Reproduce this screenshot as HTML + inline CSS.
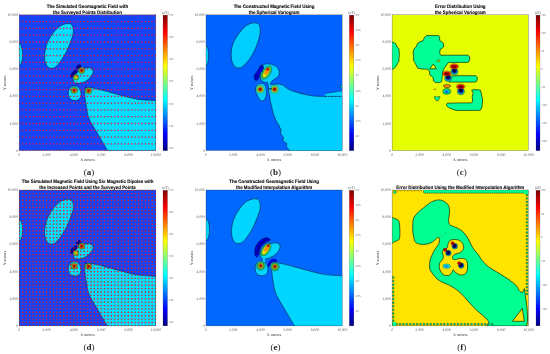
<!DOCTYPE html>
<html><head><meta charset="utf-8"><title>Figure</title><style>
html,body{margin:0;padding:0;background:#fff;width:550px;height:354px;overflow:hidden}
svg{display:block}
.tt{font-family:"Liberation Sans",Arial,sans-serif;font-weight:bold;font-size:4.45px;fill:#000;stroke:#000;stroke-width:0.08px;text-rendering:geometricPrecision;letter-spacing:0px}
.tk{font-family:"Liberation Serif","Times New Roman",serif;font-size:3.7px;fill:#4a4a4a;text-rendering:geometricPrecision}
.cb{font-family:"Liberation Serif","Times New Roman",serif;font-size:3.0px;fill:#666;text-rendering:geometricPrecision}
.al{font-family:"Liberation Serif","Times New Roman",serif;font-size:4.0px;fill:#333;text-rendering:geometricPrecision}
.cap{font-family:"Liberation Serif","Times New Roman",serif;font-weight:bold;font-size:9px;fill:#222}
</style></head><body>
<svg width="550" height="354" viewBox="0 0 550 354">
<defs><linearGradient id="jet" x1="0" y1="0" x2="0" y2="1"><stop offset="0.000" stop-color="rgb(127,0,0)"/><stop offset="0.125" stop-color="rgb(255,0,0)"/><stop offset="0.250" stop-color="rgb(255,127,0)"/><stop offset="0.375" stop-color="rgb(255,255,0)"/><stop offset="0.500" stop-color="rgb(127,255,127)"/><stop offset="0.625" stop-color="rgb(0,255,255)"/><stop offset="0.750" stop-color="rgb(0,127,255)"/><stop offset="0.875" stop-color="rgb(0,0,255)"/><stop offset="1.000" stop-color="rgb(0,0,127)"/></linearGradient><clipPath id="c00"><rect x="19.1" y="14.8" width="136.8" height="135.9"/></clipPath><clipPath id="c10"><rect x="206" y="14.8" width="136.2" height="135.9"/></clipPath><clipPath id="c20"><rect x="392.1" y="14.8" width="136.4" height="135.9"/></clipPath><clipPath id="c01"><rect x="19.1" y="190" width="136.8" height="135.9"/></clipPath><clipPath id="c11"><rect x="206" y="190" width="136.2" height="135.9"/></clipPath><clipPath id="c21"><rect x="392.1" y="190" width="136.4" height="135.9"/></clipPath></defs>
<g clip-path="url(#c00)"><rect x="19.1" y="14.8" width="136.8" height="135.9" fill="#1444f5"/><path d="M71.8 24.9 C72.38 25.83 73.12 27.75 73.3 29.4 C73.48 31.05 73.4 32.63 72.9 34.8 C72.4 36.97 71.37 39.62 70.3 42.4 C69.23 45.18 67.9 48.7 66.5 51.5 C65.1 54.3 63.55 56.78 61.9 59.2 C60.25 61.62 58.25 64.48 56.6 66 C54.95 67.52 53.53 68.22 52 68.3 C50.47 68.38 48.6 67.9 47.4 66.5 C46.2 65.1 45.18 62.52 44.8 59.9 C44.42 57.28 44.58 53.85 45.1 50.8 C45.62 47.75 46.5 44.65 47.9 41.6 C49.3 38.55 51.55 35.03 53.5 32.5 C55.45 29.97 57.57 27.85 59.6 26.4 C61.63 24.95 64 24.23 65.7 23.8 C67.4 23.37 68.78 23.62 69.8 23.8 C70.82 23.98 71.22 23.97 71.8 24.9 Z" fill="#08dcfc" stroke="#000" stroke-width="0.45"/><ellipse cx="19.1" cy="54.6" rx="3.5" ry="10.8" transform="rotate(0 19.1 54.6)" fill="#08dcfc" stroke="#000" stroke-width="0.45"/><path d="M84.5 91 C84.68 90.53 84.68 88.73 85.6 88.2 C86.52 87.67 88.33 87.73 90 87.8 C91.67 87.87 93.77 88.25 95.6 88.6 C97.43 88.95 99.07 89.4 101 89.9 C102.93 90.4 104.87 90.97 107.2 91.6 C109.53 92.23 111.77 92.83 115 93.7 C118.23 94.57 122.73 95.85 126.6 96.8 C130.47 97.75 134.35 98.82 138.2 99.4 C142.05 99.98 146.57 100.1 149.7 100.3 C152.83 100.5 155.78 100.55 157 100.6 L157 152 L108 152 L107.6 150.7 C106.08 148.12 101.17 139.72 98.5 135.2 C95.83 130.68 93.32 126.8 91.6 123.6 C89.88 120.4 89.1 118.93 88.2 116 C87.3 113.07 86.73 109.17 86.2 106 C85.67 102.83 85.28 99.5 85 97 C84.72 94.5 84.58 92 84.5 91 Z" fill="#08dcfc" stroke="#000" stroke-width="0.45"/><ellipse cx="83.2" cy="75.6" rx="11.3" ry="6.1" transform="rotate(-33 83.2 75.6)" fill="#08dcfc" stroke="#000" stroke-width="0.45"/><path d="M74.5 85.9 C75.75 85.92 77.28 86.37 78.3 87.3 C79.32 88.23 80.18 89.97 80.6 91.5 C81.02 93.03 81.15 95.15 80.8 96.5 C80.45 97.85 79.5 98.93 78.5 99.6 C77.5 100.27 76.08 100.55 74.8 100.5 C73.52 100.45 71.85 100.13 70.8 99.3 C69.75 98.47 68.87 96.97 68.5 95.5 C68.13 94.03 68.22 91.88 68.6 90.5 C68.98 89.12 69.82 87.97 70.8 87.2 C71.78 86.43 73.25 85.88 74.5 85.9 Z" fill="#08dcfc" stroke="#000" stroke-width="0.45"/><ellipse cx="78.6" cy="66.8" rx="3" ry="1.9" transform="rotate(-38 78.6 66.8)" fill="#00008c"/><ellipse cx="73.6" cy="73.7" rx="5" ry="2" transform="rotate(-50 73.6 73.7)" fill="#00008c"/><circle cx="85.6" cy="87" r="0.7" fill="#00008c"/><ellipse cx="81.7" cy="70.5" rx="3.3" ry="3.3" transform="rotate(0 81.7 70.5)" fill="#3cc850" stroke="#000" stroke-width="0.2"/><ellipse cx="81.7" cy="70.5" rx="2.5" ry="2.5" transform="rotate(0 81.7 70.5)" fill="#b4dc28" stroke="#000" stroke-width="0.2"/><ellipse cx="81.7" cy="70.5" rx="2" ry="2" transform="rotate(0 81.7 70.5)" fill="#ff8c00" stroke="#000" stroke-width="0.2"/><ellipse cx="81.7" cy="70.5" rx="1.3" ry="1.3" transform="rotate(0 81.7 70.5)" fill="#e61e00" stroke="#000" stroke-width="0.2"/><ellipse cx="81.7" cy="70.5" rx="0.65" ry="0.65" transform="rotate(0 81.7 70.5)" fill="#8c0000" stroke="#000" stroke-width="0.2"/><ellipse cx="76" cy="77.3" rx="3" ry="3" transform="rotate(0 76 77.3)" fill="#3cc850" stroke="#000" stroke-width="0.2"/><ellipse cx="76" cy="77.3" rx="1.9" ry="1.9" transform="rotate(0 76 77.3)" fill="#c8e628" stroke="#000" stroke-width="0.2"/><ellipse cx="76" cy="77.3" rx="1" ry="1" transform="rotate(0 76 77.3)" fill="#ffe600" stroke="#000" stroke-width="0.2"/><ellipse cx="74.2" cy="90.4" rx="3.3" ry="3.3" transform="rotate(0 74.2 90.4)" fill="#3cc850" stroke="#000" stroke-width="0.2"/><ellipse cx="74.2" cy="90.4" rx="2.5" ry="2.5" transform="rotate(0 74.2 90.4)" fill="#b4dc28" stroke="#000" stroke-width="0.2"/><ellipse cx="74.2" cy="90.4" rx="2" ry="2" transform="rotate(0 74.2 90.4)" fill="#ff8c00" stroke="#000" stroke-width="0.2"/><ellipse cx="74.2" cy="90.4" rx="1.3" ry="1.3" transform="rotate(0 74.2 90.4)" fill="#e61e00" stroke="#000" stroke-width="0.2"/><ellipse cx="74.2" cy="90.4" rx="0.65" ry="0.65" transform="rotate(0 74.2 90.4)" fill="#8c0000" stroke="#000" stroke-width="0.2"/><ellipse cx="88.6" cy="90.8" rx="3.3" ry="3.3" transform="rotate(0 88.6 90.8)" fill="#3cc850" stroke="#000" stroke-width="0.2"/><ellipse cx="88.6" cy="90.8" rx="2.5" ry="2.5" transform="rotate(0 88.6 90.8)" fill="#b4dc28" stroke="#000" stroke-width="0.2"/><ellipse cx="88.6" cy="90.8" rx="2" ry="2" transform="rotate(0 88.6 90.8)" fill="#ff8c00" stroke="#000" stroke-width="0.2"/><ellipse cx="88.6" cy="90.8" rx="1.3" ry="1.3" transform="rotate(0 88.6 90.8)" fill="#e61e00" stroke="#000" stroke-width="0.2"/><ellipse cx="88.6" cy="90.8" rx="0.65" ry="0.65" transform="rotate(0 88.6 90.8)" fill="#8c0000" stroke="#000" stroke-width="0.2"/><path fill="#eb143c" d="M18.8 150.05h1.3v1.3h-1.3zM22.2 150.05h1.3v1.3h-1.3zM25.61 150.05h1.3v1.3h-1.3zM29.01 150.05h1.3v1.3h-1.3zM32.41 150.05h1.3v1.3h-1.3zM35.82 150.05h1.3v1.3h-1.3zM39.22 150.05h1.3v1.3h-1.3zM42.63 150.05h1.3v1.3h-1.3zM46.03 150.05h1.3v1.3h-1.3zM49.43 150.05h1.3v1.3h-1.3zM52.84 150.05h1.3v1.3h-1.3zM56.24 150.05h1.3v1.3h-1.3zM59.65 150.05h1.3v1.3h-1.3zM63.05 150.05h1.3v1.3h-1.3zM66.45 150.05h1.3v1.3h-1.3zM69.86 150.05h1.3v1.3h-1.3zM73.26 150.05h1.3v1.3h-1.3zM76.66 150.05h1.3v1.3h-1.3zM80.07 150.05h1.3v1.3h-1.3zM83.47 150.05h1.3v1.3h-1.3zM86.88 150.05h1.3v1.3h-1.3zM90.28 150.05h1.3v1.3h-1.3zM93.68 150.05h1.3v1.3h-1.3zM97.09 150.05h1.3v1.3h-1.3zM100.49 150.05h1.3v1.3h-1.3zM103.89 150.05h1.3v1.3h-1.3zM107.3 150.05h1.3v1.3h-1.3zM110.7 150.05h1.3v1.3h-1.3zM114.11 150.05h1.3v1.3h-1.3zM117.51 150.05h1.3v1.3h-1.3zM120.91 150.05h1.3v1.3h-1.3zM124.32 150.05h1.3v1.3h-1.3zM127.72 150.05h1.3v1.3h-1.3zM131.12 150.05h1.3v1.3h-1.3zM134.53 150.05h1.3v1.3h-1.3zM137.93 150.05h1.3v1.3h-1.3zM141.34 150.05h1.3v1.3h-1.3zM144.74 150.05h1.3v1.3h-1.3zM148.14 150.05h1.3v1.3h-1.3zM151.55 150.05h1.3v1.3h-1.3zM154.95 150.05h1.3v1.3h-1.3zM18.8 143.25h1.3v1.3h-1.3zM22.2 143.25h1.3v1.3h-1.3zM25.61 143.25h1.3v1.3h-1.3zM29.01 143.25h1.3v1.3h-1.3zM32.41 143.25h1.3v1.3h-1.3zM35.82 143.25h1.3v1.3h-1.3zM39.22 143.25h1.3v1.3h-1.3zM42.63 143.25h1.3v1.3h-1.3zM46.03 143.25h1.3v1.3h-1.3zM49.43 143.25h1.3v1.3h-1.3zM52.84 143.25h1.3v1.3h-1.3zM56.24 143.25h1.3v1.3h-1.3zM59.65 143.25h1.3v1.3h-1.3zM63.05 143.25h1.3v1.3h-1.3zM66.45 143.25h1.3v1.3h-1.3zM69.86 143.25h1.3v1.3h-1.3zM73.26 143.25h1.3v1.3h-1.3zM76.66 143.25h1.3v1.3h-1.3zM80.07 143.25h1.3v1.3h-1.3zM83.47 143.25h1.3v1.3h-1.3zM86.88 143.25h1.3v1.3h-1.3zM90.28 143.25h1.3v1.3h-1.3zM93.68 143.25h1.3v1.3h-1.3zM97.09 143.25h1.3v1.3h-1.3zM100.49 143.25h1.3v1.3h-1.3zM103.89 143.25h1.3v1.3h-1.3zM107.3 143.25h1.3v1.3h-1.3zM110.7 143.25h1.3v1.3h-1.3zM114.11 143.25h1.3v1.3h-1.3zM117.51 143.25h1.3v1.3h-1.3zM120.91 143.25h1.3v1.3h-1.3zM124.32 143.25h1.3v1.3h-1.3zM127.72 143.25h1.3v1.3h-1.3zM131.12 143.25h1.3v1.3h-1.3zM134.53 143.25h1.3v1.3h-1.3zM137.93 143.25h1.3v1.3h-1.3zM141.34 143.25h1.3v1.3h-1.3zM144.74 143.25h1.3v1.3h-1.3zM148.14 143.25h1.3v1.3h-1.3zM151.55 143.25h1.3v1.3h-1.3zM154.95 143.25h1.3v1.3h-1.3zM18.8 136.46h1.3v1.3h-1.3zM22.2 136.46h1.3v1.3h-1.3zM25.61 136.46h1.3v1.3h-1.3zM29.01 136.46h1.3v1.3h-1.3zM32.41 136.46h1.3v1.3h-1.3zM35.82 136.46h1.3v1.3h-1.3zM39.22 136.46h1.3v1.3h-1.3zM42.63 136.46h1.3v1.3h-1.3zM46.03 136.46h1.3v1.3h-1.3zM49.43 136.46h1.3v1.3h-1.3zM52.84 136.46h1.3v1.3h-1.3zM56.24 136.46h1.3v1.3h-1.3zM59.65 136.46h1.3v1.3h-1.3zM63.05 136.46h1.3v1.3h-1.3zM66.45 136.46h1.3v1.3h-1.3zM69.86 136.46h1.3v1.3h-1.3zM73.26 136.46h1.3v1.3h-1.3zM76.66 136.46h1.3v1.3h-1.3zM80.07 136.46h1.3v1.3h-1.3zM83.47 136.46h1.3v1.3h-1.3zM86.88 136.46h1.3v1.3h-1.3zM90.28 136.46h1.3v1.3h-1.3zM93.68 136.46h1.3v1.3h-1.3zM97.09 136.46h1.3v1.3h-1.3zM100.49 136.46h1.3v1.3h-1.3zM103.89 136.46h1.3v1.3h-1.3zM107.3 136.46h1.3v1.3h-1.3zM110.7 136.46h1.3v1.3h-1.3zM114.11 136.46h1.3v1.3h-1.3zM117.51 136.46h1.3v1.3h-1.3zM120.91 136.46h1.3v1.3h-1.3zM124.32 136.46h1.3v1.3h-1.3zM127.72 136.46h1.3v1.3h-1.3zM131.12 136.46h1.3v1.3h-1.3zM134.53 136.46h1.3v1.3h-1.3zM137.93 136.46h1.3v1.3h-1.3zM141.34 136.46h1.3v1.3h-1.3zM144.74 136.46h1.3v1.3h-1.3zM148.14 136.46h1.3v1.3h-1.3zM151.55 136.46h1.3v1.3h-1.3zM154.95 136.46h1.3v1.3h-1.3zM18.8 129.66h1.3v1.3h-1.3zM22.2 129.66h1.3v1.3h-1.3zM25.61 129.66h1.3v1.3h-1.3zM29.01 129.66h1.3v1.3h-1.3zM32.41 129.66h1.3v1.3h-1.3zM35.82 129.66h1.3v1.3h-1.3zM39.22 129.66h1.3v1.3h-1.3zM42.63 129.66h1.3v1.3h-1.3zM46.03 129.66h1.3v1.3h-1.3zM49.43 129.66h1.3v1.3h-1.3zM52.84 129.66h1.3v1.3h-1.3zM56.24 129.66h1.3v1.3h-1.3zM59.65 129.66h1.3v1.3h-1.3zM63.05 129.66h1.3v1.3h-1.3zM66.45 129.66h1.3v1.3h-1.3zM69.86 129.66h1.3v1.3h-1.3zM73.26 129.66h1.3v1.3h-1.3zM76.66 129.66h1.3v1.3h-1.3zM80.07 129.66h1.3v1.3h-1.3zM83.47 129.66h1.3v1.3h-1.3zM86.88 129.66h1.3v1.3h-1.3zM90.28 129.66h1.3v1.3h-1.3zM93.68 129.66h1.3v1.3h-1.3zM97.09 129.66h1.3v1.3h-1.3zM100.49 129.66h1.3v1.3h-1.3zM103.89 129.66h1.3v1.3h-1.3zM107.3 129.66h1.3v1.3h-1.3zM110.7 129.66h1.3v1.3h-1.3zM114.11 129.66h1.3v1.3h-1.3zM117.51 129.66h1.3v1.3h-1.3zM120.91 129.66h1.3v1.3h-1.3zM124.32 129.66h1.3v1.3h-1.3zM127.72 129.66h1.3v1.3h-1.3zM131.12 129.66h1.3v1.3h-1.3zM134.53 129.66h1.3v1.3h-1.3zM137.93 129.66h1.3v1.3h-1.3zM141.34 129.66h1.3v1.3h-1.3zM144.74 129.66h1.3v1.3h-1.3zM148.14 129.66h1.3v1.3h-1.3zM151.55 129.66h1.3v1.3h-1.3zM154.95 129.66h1.3v1.3h-1.3zM18.8 122.87h1.3v1.3h-1.3zM22.2 122.87h1.3v1.3h-1.3zM25.61 122.87h1.3v1.3h-1.3zM29.01 122.87h1.3v1.3h-1.3zM32.41 122.87h1.3v1.3h-1.3zM35.82 122.87h1.3v1.3h-1.3zM39.22 122.87h1.3v1.3h-1.3zM42.63 122.87h1.3v1.3h-1.3zM46.03 122.87h1.3v1.3h-1.3zM49.43 122.87h1.3v1.3h-1.3zM52.84 122.87h1.3v1.3h-1.3zM56.24 122.87h1.3v1.3h-1.3zM59.65 122.87h1.3v1.3h-1.3zM63.05 122.87h1.3v1.3h-1.3zM66.45 122.87h1.3v1.3h-1.3zM69.86 122.87h1.3v1.3h-1.3zM73.26 122.87h1.3v1.3h-1.3zM76.66 122.87h1.3v1.3h-1.3zM80.07 122.87h1.3v1.3h-1.3zM83.47 122.87h1.3v1.3h-1.3zM86.88 122.87h1.3v1.3h-1.3zM90.28 122.87h1.3v1.3h-1.3zM93.68 122.87h1.3v1.3h-1.3zM97.09 122.87h1.3v1.3h-1.3zM100.49 122.87h1.3v1.3h-1.3zM103.89 122.87h1.3v1.3h-1.3zM107.3 122.87h1.3v1.3h-1.3zM110.7 122.87h1.3v1.3h-1.3zM114.11 122.87h1.3v1.3h-1.3zM117.51 122.87h1.3v1.3h-1.3zM120.91 122.87h1.3v1.3h-1.3zM124.32 122.87h1.3v1.3h-1.3zM127.72 122.87h1.3v1.3h-1.3zM131.12 122.87h1.3v1.3h-1.3zM134.53 122.87h1.3v1.3h-1.3zM137.93 122.87h1.3v1.3h-1.3zM141.34 122.87h1.3v1.3h-1.3zM144.74 122.87h1.3v1.3h-1.3zM148.14 122.87h1.3v1.3h-1.3zM151.55 122.87h1.3v1.3h-1.3zM154.95 122.87h1.3v1.3h-1.3zM18.8 116.07h1.3v1.3h-1.3zM22.2 116.07h1.3v1.3h-1.3zM25.61 116.07h1.3v1.3h-1.3zM29.01 116.07h1.3v1.3h-1.3zM32.41 116.07h1.3v1.3h-1.3zM35.82 116.07h1.3v1.3h-1.3zM39.22 116.07h1.3v1.3h-1.3zM42.63 116.07h1.3v1.3h-1.3zM46.03 116.07h1.3v1.3h-1.3zM49.43 116.07h1.3v1.3h-1.3zM52.84 116.07h1.3v1.3h-1.3zM56.24 116.07h1.3v1.3h-1.3zM59.65 116.07h1.3v1.3h-1.3zM63.05 116.07h1.3v1.3h-1.3zM66.45 116.07h1.3v1.3h-1.3zM69.86 116.07h1.3v1.3h-1.3zM73.26 116.07h1.3v1.3h-1.3zM76.66 116.07h1.3v1.3h-1.3zM80.07 116.07h1.3v1.3h-1.3zM83.47 116.07h1.3v1.3h-1.3zM86.88 116.07h1.3v1.3h-1.3zM90.28 116.07h1.3v1.3h-1.3zM93.68 116.07h1.3v1.3h-1.3zM97.09 116.07h1.3v1.3h-1.3zM100.49 116.07h1.3v1.3h-1.3zM103.89 116.07h1.3v1.3h-1.3zM107.3 116.07h1.3v1.3h-1.3zM110.7 116.07h1.3v1.3h-1.3zM114.11 116.07h1.3v1.3h-1.3zM117.51 116.07h1.3v1.3h-1.3zM120.91 116.07h1.3v1.3h-1.3zM124.32 116.07h1.3v1.3h-1.3zM127.72 116.07h1.3v1.3h-1.3zM131.12 116.07h1.3v1.3h-1.3zM134.53 116.07h1.3v1.3h-1.3zM137.93 116.07h1.3v1.3h-1.3zM141.34 116.07h1.3v1.3h-1.3zM144.74 116.07h1.3v1.3h-1.3zM148.14 116.07h1.3v1.3h-1.3zM151.55 116.07h1.3v1.3h-1.3zM154.95 116.07h1.3v1.3h-1.3zM18.8 109.28h1.3v1.3h-1.3zM22.2 109.28h1.3v1.3h-1.3zM25.61 109.28h1.3v1.3h-1.3zM29.01 109.28h1.3v1.3h-1.3zM32.41 109.28h1.3v1.3h-1.3zM35.82 109.28h1.3v1.3h-1.3zM39.22 109.28h1.3v1.3h-1.3zM42.63 109.28h1.3v1.3h-1.3zM46.03 109.28h1.3v1.3h-1.3zM49.43 109.28h1.3v1.3h-1.3zM52.84 109.28h1.3v1.3h-1.3zM56.24 109.28h1.3v1.3h-1.3zM59.65 109.28h1.3v1.3h-1.3zM63.05 109.28h1.3v1.3h-1.3zM66.45 109.28h1.3v1.3h-1.3zM69.86 109.28h1.3v1.3h-1.3zM73.26 109.28h1.3v1.3h-1.3zM76.66 109.28h1.3v1.3h-1.3zM80.07 109.28h1.3v1.3h-1.3zM83.47 109.28h1.3v1.3h-1.3zM86.88 109.28h1.3v1.3h-1.3zM90.28 109.28h1.3v1.3h-1.3zM93.68 109.28h1.3v1.3h-1.3zM97.09 109.28h1.3v1.3h-1.3zM100.49 109.28h1.3v1.3h-1.3zM103.89 109.28h1.3v1.3h-1.3zM107.3 109.28h1.3v1.3h-1.3zM110.7 109.28h1.3v1.3h-1.3zM114.11 109.28h1.3v1.3h-1.3zM117.51 109.28h1.3v1.3h-1.3zM120.91 109.28h1.3v1.3h-1.3zM124.32 109.28h1.3v1.3h-1.3zM127.72 109.28h1.3v1.3h-1.3zM131.12 109.28h1.3v1.3h-1.3zM134.53 109.28h1.3v1.3h-1.3zM137.93 109.28h1.3v1.3h-1.3zM141.34 109.28h1.3v1.3h-1.3zM144.74 109.28h1.3v1.3h-1.3zM148.14 109.28h1.3v1.3h-1.3zM151.55 109.28h1.3v1.3h-1.3zM154.95 109.28h1.3v1.3h-1.3zM18.8 102.48h1.3v1.3h-1.3zM22.2 102.48h1.3v1.3h-1.3zM25.61 102.48h1.3v1.3h-1.3zM29.01 102.48h1.3v1.3h-1.3zM32.41 102.48h1.3v1.3h-1.3zM35.82 102.48h1.3v1.3h-1.3zM39.22 102.48h1.3v1.3h-1.3zM42.63 102.48h1.3v1.3h-1.3zM46.03 102.48h1.3v1.3h-1.3zM49.43 102.48h1.3v1.3h-1.3zM52.84 102.48h1.3v1.3h-1.3zM56.24 102.48h1.3v1.3h-1.3zM59.65 102.48h1.3v1.3h-1.3zM63.05 102.48h1.3v1.3h-1.3zM66.45 102.48h1.3v1.3h-1.3zM69.86 102.48h1.3v1.3h-1.3zM73.26 102.48h1.3v1.3h-1.3zM76.66 102.48h1.3v1.3h-1.3zM80.07 102.48h1.3v1.3h-1.3zM83.47 102.48h1.3v1.3h-1.3zM86.88 102.48h1.3v1.3h-1.3zM90.28 102.48h1.3v1.3h-1.3zM93.68 102.48h1.3v1.3h-1.3zM97.09 102.48h1.3v1.3h-1.3zM100.49 102.48h1.3v1.3h-1.3zM103.89 102.48h1.3v1.3h-1.3zM107.3 102.48h1.3v1.3h-1.3zM110.7 102.48h1.3v1.3h-1.3zM114.11 102.48h1.3v1.3h-1.3zM117.51 102.48h1.3v1.3h-1.3zM120.91 102.48h1.3v1.3h-1.3zM124.32 102.48h1.3v1.3h-1.3zM127.72 102.48h1.3v1.3h-1.3zM131.12 102.48h1.3v1.3h-1.3zM134.53 102.48h1.3v1.3h-1.3zM137.93 102.48h1.3v1.3h-1.3zM141.34 102.48h1.3v1.3h-1.3zM144.74 102.48h1.3v1.3h-1.3zM148.14 102.48h1.3v1.3h-1.3zM151.55 102.48h1.3v1.3h-1.3zM154.95 102.48h1.3v1.3h-1.3zM18.8 95.69h1.3v1.3h-1.3zM22.2 95.69h1.3v1.3h-1.3zM25.61 95.69h1.3v1.3h-1.3zM29.01 95.69h1.3v1.3h-1.3zM32.41 95.69h1.3v1.3h-1.3zM35.82 95.69h1.3v1.3h-1.3zM39.22 95.69h1.3v1.3h-1.3zM42.63 95.69h1.3v1.3h-1.3zM46.03 95.69h1.3v1.3h-1.3zM49.43 95.69h1.3v1.3h-1.3zM52.84 95.69h1.3v1.3h-1.3zM56.24 95.69h1.3v1.3h-1.3zM59.65 95.69h1.3v1.3h-1.3zM63.05 95.69h1.3v1.3h-1.3zM66.45 95.69h1.3v1.3h-1.3zM69.86 95.69h1.3v1.3h-1.3zM73.26 95.69h1.3v1.3h-1.3zM76.66 95.69h1.3v1.3h-1.3zM80.07 95.69h1.3v1.3h-1.3zM83.47 95.69h1.3v1.3h-1.3zM86.88 95.69h1.3v1.3h-1.3zM90.28 95.69h1.3v1.3h-1.3zM93.68 95.69h1.3v1.3h-1.3zM97.09 95.69h1.3v1.3h-1.3zM100.49 95.69h1.3v1.3h-1.3zM103.89 95.69h1.3v1.3h-1.3zM107.3 95.69h1.3v1.3h-1.3zM110.7 95.69h1.3v1.3h-1.3zM114.11 95.69h1.3v1.3h-1.3zM117.51 95.69h1.3v1.3h-1.3zM120.91 95.69h1.3v1.3h-1.3zM124.32 95.69h1.3v1.3h-1.3zM127.72 95.69h1.3v1.3h-1.3zM131.12 95.69h1.3v1.3h-1.3zM134.53 95.69h1.3v1.3h-1.3zM137.93 95.69h1.3v1.3h-1.3zM141.34 95.69h1.3v1.3h-1.3zM144.74 95.69h1.3v1.3h-1.3zM148.14 95.69h1.3v1.3h-1.3zM151.55 95.69h1.3v1.3h-1.3zM154.95 95.69h1.3v1.3h-1.3zM18.8 88.89h1.3v1.3h-1.3zM22.2 88.89h1.3v1.3h-1.3zM25.61 88.89h1.3v1.3h-1.3zM29.01 88.89h1.3v1.3h-1.3zM32.41 88.89h1.3v1.3h-1.3zM35.82 88.89h1.3v1.3h-1.3zM39.22 88.89h1.3v1.3h-1.3zM42.63 88.89h1.3v1.3h-1.3zM46.03 88.89h1.3v1.3h-1.3zM49.43 88.89h1.3v1.3h-1.3zM52.84 88.89h1.3v1.3h-1.3zM56.24 88.89h1.3v1.3h-1.3zM59.65 88.89h1.3v1.3h-1.3zM63.05 88.89h1.3v1.3h-1.3zM66.45 88.89h1.3v1.3h-1.3zM69.86 88.89h1.3v1.3h-1.3zM73.26 88.89h1.3v1.3h-1.3zM76.66 88.89h1.3v1.3h-1.3zM80.07 88.89h1.3v1.3h-1.3zM83.47 88.89h1.3v1.3h-1.3zM86.88 88.89h1.3v1.3h-1.3zM90.28 88.89h1.3v1.3h-1.3zM93.68 88.89h1.3v1.3h-1.3zM97.09 88.89h1.3v1.3h-1.3zM100.49 88.89h1.3v1.3h-1.3zM103.89 88.89h1.3v1.3h-1.3zM107.3 88.89h1.3v1.3h-1.3zM110.7 88.89h1.3v1.3h-1.3zM114.11 88.89h1.3v1.3h-1.3zM117.51 88.89h1.3v1.3h-1.3zM120.91 88.89h1.3v1.3h-1.3zM124.32 88.89h1.3v1.3h-1.3zM127.72 88.89h1.3v1.3h-1.3zM131.12 88.89h1.3v1.3h-1.3zM134.53 88.89h1.3v1.3h-1.3zM137.93 88.89h1.3v1.3h-1.3zM141.34 88.89h1.3v1.3h-1.3zM144.74 88.89h1.3v1.3h-1.3zM148.14 88.89h1.3v1.3h-1.3zM151.55 88.89h1.3v1.3h-1.3zM154.95 88.89h1.3v1.3h-1.3zM18.8 82.1h1.3v1.3h-1.3zM22.2 82.1h1.3v1.3h-1.3zM25.61 82.1h1.3v1.3h-1.3zM29.01 82.1h1.3v1.3h-1.3zM32.41 82.1h1.3v1.3h-1.3zM35.82 82.1h1.3v1.3h-1.3zM39.22 82.1h1.3v1.3h-1.3zM42.63 82.1h1.3v1.3h-1.3zM46.03 82.1h1.3v1.3h-1.3zM49.43 82.1h1.3v1.3h-1.3zM52.84 82.1h1.3v1.3h-1.3zM56.24 82.1h1.3v1.3h-1.3zM59.65 82.1h1.3v1.3h-1.3zM63.05 82.1h1.3v1.3h-1.3zM66.45 82.1h1.3v1.3h-1.3zM69.86 82.1h1.3v1.3h-1.3zM73.26 82.1h1.3v1.3h-1.3zM76.66 82.1h1.3v1.3h-1.3zM80.07 82.1h1.3v1.3h-1.3zM83.47 82.1h1.3v1.3h-1.3zM86.88 82.1h1.3v1.3h-1.3zM90.28 82.1h1.3v1.3h-1.3zM93.68 82.1h1.3v1.3h-1.3zM97.09 82.1h1.3v1.3h-1.3zM100.49 82.1h1.3v1.3h-1.3zM103.89 82.1h1.3v1.3h-1.3zM107.3 82.1h1.3v1.3h-1.3zM110.7 82.1h1.3v1.3h-1.3zM114.11 82.1h1.3v1.3h-1.3zM117.51 82.1h1.3v1.3h-1.3zM120.91 82.1h1.3v1.3h-1.3zM124.32 82.1h1.3v1.3h-1.3zM127.72 82.1h1.3v1.3h-1.3zM131.12 82.1h1.3v1.3h-1.3zM134.53 82.1h1.3v1.3h-1.3zM137.93 82.1h1.3v1.3h-1.3zM141.34 82.1h1.3v1.3h-1.3zM144.74 82.1h1.3v1.3h-1.3zM148.14 82.1h1.3v1.3h-1.3zM151.55 82.1h1.3v1.3h-1.3zM154.95 82.1h1.3v1.3h-1.3zM18.8 75.31h1.3v1.3h-1.3zM22.2 75.31h1.3v1.3h-1.3zM25.61 75.31h1.3v1.3h-1.3zM29.01 75.31h1.3v1.3h-1.3zM32.41 75.31h1.3v1.3h-1.3zM35.82 75.31h1.3v1.3h-1.3zM39.22 75.31h1.3v1.3h-1.3zM42.63 75.31h1.3v1.3h-1.3zM46.03 75.31h1.3v1.3h-1.3zM49.43 75.31h1.3v1.3h-1.3zM52.84 75.31h1.3v1.3h-1.3zM56.24 75.31h1.3v1.3h-1.3zM59.65 75.31h1.3v1.3h-1.3zM63.05 75.31h1.3v1.3h-1.3zM66.45 75.31h1.3v1.3h-1.3zM69.86 75.31h1.3v1.3h-1.3zM73.26 75.31h1.3v1.3h-1.3zM76.66 75.31h1.3v1.3h-1.3zM80.07 75.31h1.3v1.3h-1.3zM83.47 75.31h1.3v1.3h-1.3zM86.88 75.31h1.3v1.3h-1.3zM90.28 75.31h1.3v1.3h-1.3zM93.68 75.31h1.3v1.3h-1.3zM97.09 75.31h1.3v1.3h-1.3zM100.49 75.31h1.3v1.3h-1.3zM103.89 75.31h1.3v1.3h-1.3zM107.3 75.31h1.3v1.3h-1.3zM110.7 75.31h1.3v1.3h-1.3zM114.11 75.31h1.3v1.3h-1.3zM117.51 75.31h1.3v1.3h-1.3zM120.91 75.31h1.3v1.3h-1.3zM124.32 75.31h1.3v1.3h-1.3zM127.72 75.31h1.3v1.3h-1.3zM131.12 75.31h1.3v1.3h-1.3zM134.53 75.31h1.3v1.3h-1.3zM137.93 75.31h1.3v1.3h-1.3zM141.34 75.31h1.3v1.3h-1.3zM144.74 75.31h1.3v1.3h-1.3zM148.14 75.31h1.3v1.3h-1.3zM151.55 75.31h1.3v1.3h-1.3zM154.95 75.31h1.3v1.3h-1.3zM18.8 68.51h1.3v1.3h-1.3zM22.2 68.51h1.3v1.3h-1.3zM25.61 68.51h1.3v1.3h-1.3zM29.01 68.51h1.3v1.3h-1.3zM32.41 68.51h1.3v1.3h-1.3zM35.82 68.51h1.3v1.3h-1.3zM39.22 68.51h1.3v1.3h-1.3zM42.63 68.51h1.3v1.3h-1.3zM46.03 68.51h1.3v1.3h-1.3zM49.43 68.51h1.3v1.3h-1.3zM52.84 68.51h1.3v1.3h-1.3zM56.24 68.51h1.3v1.3h-1.3zM59.65 68.51h1.3v1.3h-1.3zM63.05 68.51h1.3v1.3h-1.3zM66.45 68.51h1.3v1.3h-1.3zM69.86 68.51h1.3v1.3h-1.3zM73.26 68.51h1.3v1.3h-1.3zM76.66 68.51h1.3v1.3h-1.3zM80.07 68.51h1.3v1.3h-1.3zM83.47 68.51h1.3v1.3h-1.3zM86.88 68.51h1.3v1.3h-1.3zM90.28 68.51h1.3v1.3h-1.3zM93.68 68.51h1.3v1.3h-1.3zM97.09 68.51h1.3v1.3h-1.3zM100.49 68.51h1.3v1.3h-1.3zM103.89 68.51h1.3v1.3h-1.3zM107.3 68.51h1.3v1.3h-1.3zM110.7 68.51h1.3v1.3h-1.3zM114.11 68.51h1.3v1.3h-1.3zM117.51 68.51h1.3v1.3h-1.3zM120.91 68.51h1.3v1.3h-1.3zM124.32 68.51h1.3v1.3h-1.3zM127.72 68.51h1.3v1.3h-1.3zM131.12 68.51h1.3v1.3h-1.3zM134.53 68.51h1.3v1.3h-1.3zM137.93 68.51h1.3v1.3h-1.3zM141.34 68.51h1.3v1.3h-1.3zM144.74 68.51h1.3v1.3h-1.3zM148.14 68.51h1.3v1.3h-1.3zM151.55 68.51h1.3v1.3h-1.3zM154.95 68.51h1.3v1.3h-1.3zM18.8 61.71h1.3v1.3h-1.3zM22.2 61.71h1.3v1.3h-1.3zM25.61 61.71h1.3v1.3h-1.3zM29.01 61.71h1.3v1.3h-1.3zM32.41 61.71h1.3v1.3h-1.3zM35.82 61.71h1.3v1.3h-1.3zM39.22 61.71h1.3v1.3h-1.3zM42.63 61.71h1.3v1.3h-1.3zM46.03 61.71h1.3v1.3h-1.3zM49.43 61.71h1.3v1.3h-1.3zM52.84 61.71h1.3v1.3h-1.3zM56.24 61.71h1.3v1.3h-1.3zM59.65 61.71h1.3v1.3h-1.3zM63.05 61.71h1.3v1.3h-1.3zM66.45 61.71h1.3v1.3h-1.3zM69.86 61.71h1.3v1.3h-1.3zM73.26 61.71h1.3v1.3h-1.3zM76.66 61.71h1.3v1.3h-1.3zM80.07 61.71h1.3v1.3h-1.3zM83.47 61.71h1.3v1.3h-1.3zM86.88 61.71h1.3v1.3h-1.3zM90.28 61.71h1.3v1.3h-1.3zM93.68 61.71h1.3v1.3h-1.3zM97.09 61.71h1.3v1.3h-1.3zM100.49 61.71h1.3v1.3h-1.3zM103.89 61.71h1.3v1.3h-1.3zM107.3 61.71h1.3v1.3h-1.3zM110.7 61.71h1.3v1.3h-1.3zM114.11 61.71h1.3v1.3h-1.3zM117.51 61.71h1.3v1.3h-1.3zM120.91 61.71h1.3v1.3h-1.3zM124.32 61.71h1.3v1.3h-1.3zM127.72 61.71h1.3v1.3h-1.3zM131.12 61.71h1.3v1.3h-1.3zM134.53 61.71h1.3v1.3h-1.3zM137.93 61.71h1.3v1.3h-1.3zM141.34 61.71h1.3v1.3h-1.3zM144.74 61.71h1.3v1.3h-1.3zM148.14 61.71h1.3v1.3h-1.3zM151.55 61.71h1.3v1.3h-1.3zM154.95 61.71h1.3v1.3h-1.3zM18.8 54.92h1.3v1.3h-1.3zM22.2 54.92h1.3v1.3h-1.3zM25.61 54.92h1.3v1.3h-1.3zM29.01 54.92h1.3v1.3h-1.3zM32.41 54.92h1.3v1.3h-1.3zM35.82 54.92h1.3v1.3h-1.3zM39.22 54.92h1.3v1.3h-1.3zM42.63 54.92h1.3v1.3h-1.3zM46.03 54.92h1.3v1.3h-1.3zM49.43 54.92h1.3v1.3h-1.3zM52.84 54.92h1.3v1.3h-1.3zM56.24 54.92h1.3v1.3h-1.3zM59.65 54.92h1.3v1.3h-1.3zM63.05 54.92h1.3v1.3h-1.3zM66.45 54.92h1.3v1.3h-1.3zM69.86 54.92h1.3v1.3h-1.3zM73.26 54.92h1.3v1.3h-1.3zM76.66 54.92h1.3v1.3h-1.3zM80.07 54.92h1.3v1.3h-1.3zM83.47 54.92h1.3v1.3h-1.3zM86.88 54.92h1.3v1.3h-1.3zM90.28 54.92h1.3v1.3h-1.3zM93.68 54.92h1.3v1.3h-1.3zM97.09 54.92h1.3v1.3h-1.3zM100.49 54.92h1.3v1.3h-1.3zM103.89 54.92h1.3v1.3h-1.3zM107.3 54.92h1.3v1.3h-1.3zM110.7 54.92h1.3v1.3h-1.3zM114.11 54.92h1.3v1.3h-1.3zM117.51 54.92h1.3v1.3h-1.3zM120.91 54.92h1.3v1.3h-1.3zM124.32 54.92h1.3v1.3h-1.3zM127.72 54.92h1.3v1.3h-1.3zM131.12 54.92h1.3v1.3h-1.3zM134.53 54.92h1.3v1.3h-1.3zM137.93 54.92h1.3v1.3h-1.3zM141.34 54.92h1.3v1.3h-1.3zM144.74 54.92h1.3v1.3h-1.3zM148.14 54.92h1.3v1.3h-1.3zM151.55 54.92h1.3v1.3h-1.3zM154.95 54.92h1.3v1.3h-1.3zM18.8 48.13h1.3v1.3h-1.3zM22.2 48.13h1.3v1.3h-1.3zM25.61 48.13h1.3v1.3h-1.3zM29.01 48.13h1.3v1.3h-1.3zM32.41 48.13h1.3v1.3h-1.3zM35.82 48.13h1.3v1.3h-1.3zM39.22 48.13h1.3v1.3h-1.3zM42.63 48.13h1.3v1.3h-1.3zM46.03 48.13h1.3v1.3h-1.3zM49.43 48.13h1.3v1.3h-1.3zM52.84 48.13h1.3v1.3h-1.3zM56.24 48.13h1.3v1.3h-1.3zM59.65 48.13h1.3v1.3h-1.3zM63.05 48.13h1.3v1.3h-1.3zM66.45 48.13h1.3v1.3h-1.3zM69.86 48.13h1.3v1.3h-1.3zM73.26 48.13h1.3v1.3h-1.3zM76.66 48.13h1.3v1.3h-1.3zM80.07 48.13h1.3v1.3h-1.3zM83.47 48.13h1.3v1.3h-1.3zM86.88 48.13h1.3v1.3h-1.3zM90.28 48.13h1.3v1.3h-1.3zM93.68 48.13h1.3v1.3h-1.3zM97.09 48.13h1.3v1.3h-1.3zM100.49 48.13h1.3v1.3h-1.3zM103.89 48.13h1.3v1.3h-1.3zM107.3 48.13h1.3v1.3h-1.3zM110.7 48.13h1.3v1.3h-1.3zM114.11 48.13h1.3v1.3h-1.3zM117.51 48.13h1.3v1.3h-1.3zM120.91 48.13h1.3v1.3h-1.3zM124.32 48.13h1.3v1.3h-1.3zM127.72 48.13h1.3v1.3h-1.3zM131.12 48.13h1.3v1.3h-1.3zM134.53 48.13h1.3v1.3h-1.3zM137.93 48.13h1.3v1.3h-1.3zM141.34 48.13h1.3v1.3h-1.3zM144.74 48.13h1.3v1.3h-1.3zM148.14 48.13h1.3v1.3h-1.3zM151.55 48.13h1.3v1.3h-1.3zM154.95 48.13h1.3v1.3h-1.3zM18.8 41.33h1.3v1.3h-1.3zM22.2 41.33h1.3v1.3h-1.3zM25.61 41.33h1.3v1.3h-1.3zM29.01 41.33h1.3v1.3h-1.3zM32.41 41.33h1.3v1.3h-1.3zM35.82 41.33h1.3v1.3h-1.3zM39.22 41.33h1.3v1.3h-1.3zM42.63 41.33h1.3v1.3h-1.3zM46.03 41.33h1.3v1.3h-1.3zM49.43 41.33h1.3v1.3h-1.3zM52.84 41.33h1.3v1.3h-1.3zM56.24 41.33h1.3v1.3h-1.3zM59.65 41.33h1.3v1.3h-1.3zM63.05 41.33h1.3v1.3h-1.3zM66.45 41.33h1.3v1.3h-1.3zM69.86 41.33h1.3v1.3h-1.3zM73.26 41.33h1.3v1.3h-1.3zM76.66 41.33h1.3v1.3h-1.3zM80.07 41.33h1.3v1.3h-1.3zM83.47 41.33h1.3v1.3h-1.3zM86.88 41.33h1.3v1.3h-1.3zM90.28 41.33h1.3v1.3h-1.3zM93.68 41.33h1.3v1.3h-1.3zM97.09 41.33h1.3v1.3h-1.3zM100.49 41.33h1.3v1.3h-1.3zM103.89 41.33h1.3v1.3h-1.3zM107.3 41.33h1.3v1.3h-1.3zM110.7 41.33h1.3v1.3h-1.3zM114.11 41.33h1.3v1.3h-1.3zM117.51 41.33h1.3v1.3h-1.3zM120.91 41.33h1.3v1.3h-1.3zM124.32 41.33h1.3v1.3h-1.3zM127.72 41.33h1.3v1.3h-1.3zM131.12 41.33h1.3v1.3h-1.3zM134.53 41.33h1.3v1.3h-1.3zM137.93 41.33h1.3v1.3h-1.3zM141.34 41.33h1.3v1.3h-1.3zM144.74 41.33h1.3v1.3h-1.3zM148.14 41.33h1.3v1.3h-1.3zM151.55 41.33h1.3v1.3h-1.3zM154.95 41.33h1.3v1.3h-1.3zM18.8 34.54h1.3v1.3h-1.3zM22.2 34.54h1.3v1.3h-1.3zM25.61 34.54h1.3v1.3h-1.3zM29.01 34.54h1.3v1.3h-1.3zM32.41 34.54h1.3v1.3h-1.3zM35.82 34.54h1.3v1.3h-1.3zM39.22 34.54h1.3v1.3h-1.3zM42.63 34.54h1.3v1.3h-1.3zM46.03 34.54h1.3v1.3h-1.3zM49.43 34.54h1.3v1.3h-1.3zM52.84 34.54h1.3v1.3h-1.3zM56.24 34.54h1.3v1.3h-1.3zM59.65 34.54h1.3v1.3h-1.3zM63.05 34.54h1.3v1.3h-1.3zM66.45 34.54h1.3v1.3h-1.3zM69.86 34.54h1.3v1.3h-1.3zM73.26 34.54h1.3v1.3h-1.3zM76.66 34.54h1.3v1.3h-1.3zM80.07 34.54h1.3v1.3h-1.3zM83.47 34.54h1.3v1.3h-1.3zM86.88 34.54h1.3v1.3h-1.3zM90.28 34.54h1.3v1.3h-1.3zM93.68 34.54h1.3v1.3h-1.3zM97.09 34.54h1.3v1.3h-1.3zM100.49 34.54h1.3v1.3h-1.3zM103.89 34.54h1.3v1.3h-1.3zM107.3 34.54h1.3v1.3h-1.3zM110.7 34.54h1.3v1.3h-1.3zM114.11 34.54h1.3v1.3h-1.3zM117.51 34.54h1.3v1.3h-1.3zM120.91 34.54h1.3v1.3h-1.3zM124.32 34.54h1.3v1.3h-1.3zM127.72 34.54h1.3v1.3h-1.3zM131.12 34.54h1.3v1.3h-1.3zM134.53 34.54h1.3v1.3h-1.3zM137.93 34.54h1.3v1.3h-1.3zM141.34 34.54h1.3v1.3h-1.3zM144.74 34.54h1.3v1.3h-1.3zM148.14 34.54h1.3v1.3h-1.3zM151.55 34.54h1.3v1.3h-1.3zM154.95 34.54h1.3v1.3h-1.3zM18.8 27.74h1.3v1.3h-1.3zM22.2 27.74h1.3v1.3h-1.3zM25.61 27.74h1.3v1.3h-1.3zM29.01 27.74h1.3v1.3h-1.3zM32.41 27.74h1.3v1.3h-1.3zM35.82 27.74h1.3v1.3h-1.3zM39.22 27.74h1.3v1.3h-1.3zM42.63 27.74h1.3v1.3h-1.3zM46.03 27.74h1.3v1.3h-1.3zM49.43 27.74h1.3v1.3h-1.3zM52.84 27.74h1.3v1.3h-1.3zM56.24 27.74h1.3v1.3h-1.3zM59.65 27.74h1.3v1.3h-1.3zM63.05 27.74h1.3v1.3h-1.3zM66.45 27.74h1.3v1.3h-1.3zM69.86 27.74h1.3v1.3h-1.3zM73.26 27.74h1.3v1.3h-1.3zM76.66 27.74h1.3v1.3h-1.3zM80.07 27.74h1.3v1.3h-1.3zM83.47 27.74h1.3v1.3h-1.3zM86.88 27.74h1.3v1.3h-1.3zM90.28 27.74h1.3v1.3h-1.3zM93.68 27.74h1.3v1.3h-1.3zM97.09 27.74h1.3v1.3h-1.3zM100.49 27.74h1.3v1.3h-1.3zM103.89 27.74h1.3v1.3h-1.3zM107.3 27.74h1.3v1.3h-1.3zM110.7 27.74h1.3v1.3h-1.3zM114.11 27.74h1.3v1.3h-1.3zM117.51 27.74h1.3v1.3h-1.3zM120.91 27.74h1.3v1.3h-1.3zM124.32 27.74h1.3v1.3h-1.3zM127.72 27.74h1.3v1.3h-1.3zM131.12 27.74h1.3v1.3h-1.3zM134.53 27.74h1.3v1.3h-1.3zM137.93 27.74h1.3v1.3h-1.3zM141.34 27.74h1.3v1.3h-1.3zM144.74 27.74h1.3v1.3h-1.3zM148.14 27.74h1.3v1.3h-1.3zM151.55 27.74h1.3v1.3h-1.3zM154.95 27.74h1.3v1.3h-1.3zM18.8 20.95h1.3v1.3h-1.3zM22.2 20.95h1.3v1.3h-1.3zM25.61 20.95h1.3v1.3h-1.3zM29.01 20.95h1.3v1.3h-1.3zM32.41 20.95h1.3v1.3h-1.3zM35.82 20.95h1.3v1.3h-1.3zM39.22 20.95h1.3v1.3h-1.3zM42.63 20.95h1.3v1.3h-1.3zM46.03 20.95h1.3v1.3h-1.3zM49.43 20.95h1.3v1.3h-1.3zM52.84 20.95h1.3v1.3h-1.3zM56.24 20.95h1.3v1.3h-1.3zM59.65 20.95h1.3v1.3h-1.3zM63.05 20.95h1.3v1.3h-1.3zM66.45 20.95h1.3v1.3h-1.3zM69.86 20.95h1.3v1.3h-1.3zM73.26 20.95h1.3v1.3h-1.3zM76.66 20.95h1.3v1.3h-1.3zM80.07 20.95h1.3v1.3h-1.3zM83.47 20.95h1.3v1.3h-1.3zM86.88 20.95h1.3v1.3h-1.3zM90.28 20.95h1.3v1.3h-1.3zM93.68 20.95h1.3v1.3h-1.3zM97.09 20.95h1.3v1.3h-1.3zM100.49 20.95h1.3v1.3h-1.3zM103.89 20.95h1.3v1.3h-1.3zM107.3 20.95h1.3v1.3h-1.3zM110.7 20.95h1.3v1.3h-1.3zM114.11 20.95h1.3v1.3h-1.3zM117.51 20.95h1.3v1.3h-1.3zM120.91 20.95h1.3v1.3h-1.3zM124.32 20.95h1.3v1.3h-1.3zM127.72 20.95h1.3v1.3h-1.3zM131.12 20.95h1.3v1.3h-1.3zM134.53 20.95h1.3v1.3h-1.3zM137.93 20.95h1.3v1.3h-1.3zM141.34 20.95h1.3v1.3h-1.3zM144.74 20.95h1.3v1.3h-1.3zM148.14 20.95h1.3v1.3h-1.3zM151.55 20.95h1.3v1.3h-1.3zM154.95 20.95h1.3v1.3h-1.3zM18.8 14.15h1.3v1.3h-1.3zM22.2 14.15h1.3v1.3h-1.3zM25.61 14.15h1.3v1.3h-1.3zM29.01 14.15h1.3v1.3h-1.3zM32.41 14.15h1.3v1.3h-1.3zM35.82 14.15h1.3v1.3h-1.3zM39.22 14.15h1.3v1.3h-1.3zM42.63 14.15h1.3v1.3h-1.3zM46.03 14.15h1.3v1.3h-1.3zM49.43 14.15h1.3v1.3h-1.3zM52.84 14.15h1.3v1.3h-1.3zM56.24 14.15h1.3v1.3h-1.3zM59.65 14.15h1.3v1.3h-1.3zM63.05 14.15h1.3v1.3h-1.3zM66.45 14.15h1.3v1.3h-1.3zM69.86 14.15h1.3v1.3h-1.3zM73.26 14.15h1.3v1.3h-1.3zM76.66 14.15h1.3v1.3h-1.3zM80.07 14.15h1.3v1.3h-1.3zM83.47 14.15h1.3v1.3h-1.3zM86.88 14.15h1.3v1.3h-1.3zM90.28 14.15h1.3v1.3h-1.3zM93.68 14.15h1.3v1.3h-1.3zM97.09 14.15h1.3v1.3h-1.3zM100.49 14.15h1.3v1.3h-1.3zM103.89 14.15h1.3v1.3h-1.3zM107.3 14.15h1.3v1.3h-1.3zM110.7 14.15h1.3v1.3h-1.3zM114.11 14.15h1.3v1.3h-1.3zM117.51 14.15h1.3v1.3h-1.3zM120.91 14.15h1.3v1.3h-1.3zM124.32 14.15h1.3v1.3h-1.3zM127.72 14.15h1.3v1.3h-1.3zM131.12 14.15h1.3v1.3h-1.3zM134.53 14.15h1.3v1.3h-1.3zM137.93 14.15h1.3v1.3h-1.3zM141.34 14.15h1.3v1.3h-1.3zM144.74 14.15h1.3v1.3h-1.3zM148.14 14.15h1.3v1.3h-1.3zM151.55 14.15h1.3v1.3h-1.3zM154.95 14.15h1.3v1.3h-1.3z"/></g>
<g clip-path="url(#c10)"><rect x="206" y="14.8" width="136.2" height="135.9" fill="#0062ff"/><path d="M259.3 24.9 C259.8 25.8 260.02 27.05 260.1 28.7 C260.18 30.35 260.18 32.52 259.8 34.8 C259.42 37.08 258.77 39.62 257.8 42.4 C256.83 45.18 255.4 48.7 254 51.5 C252.6 54.3 251.18 56.78 249.4 59.2 C247.62 61.62 245.07 64.53 243.3 66 C241.53 67.47 240.32 68 238.8 68 C237.28 68 235.42 67.47 234.2 66 C232.98 64.53 231.95 61.87 231.5 59.2 C231.05 56.53 231.05 53.05 231.5 50 C231.95 46.95 232.73 43.95 234.2 40.9 C235.67 37.85 238.27 34.25 240.3 31.7 C242.33 29.15 244.37 27.05 246.4 25.6 C248.43 24.15 250.72 23.38 252.5 23 C254.28 22.62 255.97 22.98 257.1 23.3 C258.23 23.62 258.8 24 259.3 24.9 Z" fill="#00ceff" stroke="#000" stroke-width="0.45"/><ellipse cx="206" cy="55.5" rx="2.6" ry="10" transform="rotate(0 206 55.5)" fill="#00ceff" stroke="#000" stroke-width="0.45"/><path d="M262 65.2 C262.75 64.98 264.97 64.05 266.5 63.9 C268.03 63.75 269.78 63.98 271.2 64.3 C272.62 64.62 273.9 65.15 275 65.8 C276.1 66.45 277.08 67.18 277.8 68.2 C278.52 69.22 279.17 70.68 279.3 71.9 C279.43 73.12 279.15 74.45 278.6 75.5 C278.05 76.55 276.93 77.45 276 78.2 C275.07 78.95 273.87 79.27 273 80 C272.13 80.73 271.2 81.83 270.8 82.6 C270.4 83.37 270.32 84.28 270.6 84.6 C270.88 84.92 271.6 84.58 272.5 84.5 C273.4 84.42 274.82 84.13 276 84.1 C277.18 84.07 278.52 84.15 279.6 84.3 C280.68 84.45 281.7 84.68 282.5 85 C283.3 85.32 283.7 85.68 284.4 86.2 C285.1 86.72 285.57 87.38 286.7 88.1 C287.83 88.82 289.3 89.73 291.2 90.5 C293.1 91.27 295.13 91.9 298.1 92.7 C301.07 93.5 305.68 94.7 309 95.3 C312.32 95.9 312.33 96.13 318 96.3 C323.67 96.47 338.83 96.3 343 96.3 L343 152 L289.5 151.5 L289.2 150 L286.3 146.5 L286.9 143.6 L282.8 140.7 L283.4 137.2 L280.5 133.2 L281.1 130.3 L278.8 125.1 L275.9 120.4 L273.6 114.6 L272.4 110 L271.3 105 L270.3 101.2 L269.7 95.4 L268.7 92 L268.5 88 L268.5 85.5 L267.5 82.5 L264 82 L261.2 80.5 L260.2 77 L260.4 72 L260.8 68 Z" fill="#00ceff" stroke="#000" stroke-width="0.45"/><path d="M257.3 84.6 C256.08 85.55 255.7 87.95 255.5 89.3 C255.3 90.65 255.68 91.5 256.1 92.7 C256.52 93.9 257.18 95.15 258 96.5 C258.82 97.85 259.95 100.25 261 100.8 C262.05 101.35 263.43 100.68 264.3 99.8 C265.17 98.92 265.87 96.92 266.2 95.5 C266.53 94.08 266.4 92.8 266.3 91.3 C266.2 89.8 266.18 87.78 265.6 86.5 C265.02 85.22 264.18 83.92 262.8 83.6 C261.42 83.28 258.52 83.65 257.3 84.6 Z" fill="#00ceff" stroke="#000" stroke-width="0.45"/><ellipse cx="342.4" cy="86.6" rx="2.2" ry="1.6" transform="rotate(0 342.4 86.6)" fill="#00ceff" stroke="#000" stroke-width="0.45"/><path d="M324.3 96.3 L325.6 93.4 L342.5 90.8 L342.5 96.3 Z" fill="#00ceff"/><path d="M325.6 93.4 L342.5 90.8" stroke="#000" stroke-width="0.35" fill="none"/><path d="M325 96.3 H342" stroke="#000" stroke-width="0.9" stroke-dasharray="0.9 2.6" fill="none"/><path d="M254.9 80 C254.42 79.2 254.1 76.75 254.4 75.4 C254.7 74.05 255.93 73.07 256.7 71.9 C257.47 70.73 258.42 69.37 259 68.4 C259.58 67.43 259.62 66.62 260.2 66.1 C260.78 65.58 261.93 65.1 262.5 65.3 C263.07 65.5 263.6 66.4 263.6 67.3 C263.6 68.2 263.07 69.73 262.5 70.7 C261.93 71.67 260.78 72.03 260.2 73.1 C259.62 74.17 259.48 75.92 259 77.1 C258.52 78.28 257.98 79.72 257.3 80.2 C256.62 80.68 255.38 80.8 254.9 80 Z" fill="#0000e6" stroke="#000" stroke-width="0.45"/><ellipse cx="256.6" cy="76.2" rx="1.6" ry="1.3" transform="rotate(-60 256.6 76.2)" fill="#00008c"/><ellipse cx="261.6" cy="67.6" rx="1.2" ry="0.9" transform="rotate(-40 261.6 67.6)" fill="#0000a0"/><ellipse cx="266.4" cy="72.6" rx="7.6" ry="4" transform="rotate(-55 266.4 72.6)" fill="#3cc850" stroke="#000" stroke-width="0.25"/><ellipse cx="266.2" cy="72.6" rx="5.6" ry="2.5" transform="rotate(-58 266.2 72.6)" fill="#c8e628" stroke="#000" stroke-width="0.2"/><ellipse cx="266.9" cy="71.4" rx="3.8" ry="1.7" transform="rotate(-58 266.9 71.4)" fill="#ff8c00"/><circle cx="267.8" cy="69.2" r="1.5" fill="#e61e00"/><circle cx="267.8" cy="69.1" r="0.7" fill="#8c0000"/><circle cx="264.3" cy="75.8" r="1.1" fill="#f0f000"/><ellipse cx="260.2" cy="89.3" rx="4" ry="4" transform="rotate(0 260.2 89.3)" fill="#5ae67d" stroke="#000" stroke-width="0.2"/><ellipse cx="260.2" cy="89.3" rx="2.6" ry="2.6" transform="rotate(0 260.2 89.3)" fill="#f0e600" stroke="#000" stroke-width="0.2"/><ellipse cx="260.2" cy="89.3" rx="2.1" ry="2.1" transform="rotate(0 260.2 89.3)" fill="#ff8c00" stroke="#000" stroke-width="0.2"/><ellipse cx="260.2" cy="89.3" rx="1.5" ry="1.5" transform="rotate(0 260.2 89.3)" fill="#f01400" stroke="#000" stroke-width="0.2"/><ellipse cx="260.2" cy="89.3" rx="0.8" ry="0.8" transform="rotate(0 260.2 89.3)" fill="#a00000" stroke="#000" stroke-width="0.2"/><ellipse cx="274.6" cy="89.3" rx="4" ry="4" transform="rotate(0 274.6 89.3)" fill="#5ae67d" stroke="#000" stroke-width="0.2"/><ellipse cx="274.6" cy="89.3" rx="2.6" ry="2.6" transform="rotate(0 274.6 89.3)" fill="#f0e600" stroke="#000" stroke-width="0.2"/><ellipse cx="274.6" cy="89.3" rx="2.1" ry="2.1" transform="rotate(0 274.6 89.3)" fill="#ff8c00" stroke="#000" stroke-width="0.2"/><ellipse cx="274.6" cy="89.3" rx="1.5" ry="1.5" transform="rotate(0 274.6 89.3)" fill="#f01400" stroke="#000" stroke-width="0.2"/><ellipse cx="274.6" cy="89.3" rx="0.8" ry="0.8" transform="rotate(0 274.6 89.3)" fill="#a00000" stroke="#000" stroke-width="0.2"/><path d="M269 88.8 H272" stroke="#000050" stroke-width="0.8"/></g>
<g clip-path="url(#c20)"><rect x="392.1" y="14.8" width="136.4" height="135.9" fill="#e6ff00"/><path d="M391 41.8 L392 41.8 L395.5 43.5 L397.6 47.6 L399 48.8 L399.3 55 L398.8 61.5 L397.5 63.4 L396 66.5 L393.5 68.9 L392 69.2 L391 69.2 Z" fill="#00ff96" stroke="#000" stroke-width="0.6"/><path d="M426.4 35.6 L438.6 35.6 L439.7 36.9 L439.7 40.4 L441.5 41.6 L443.2 42.9 L443.8 46.2 L442.1 48.5 L440.3 49.2 L439.7 53.2 L440.6 55.2 L467.8 55.2 L469.3 56.3 L469.8 59 L469 61.6 L467.6 62.4 L449 62.4 L447.6 63.2 L446.4 65.4 L444.6 67.8 L443.2 70.2 L442.6 73 L442.2 76.5 L441.9 79.5 L441.6 81.6 L439.7 82.6 L435.7 82.6 L433.4 81 L433.2 77.8 L431.5 76.2 L429.9 75.1 L429.5 71.6 L428.2 69.3 L422 69 L417.7 68.2 L416.6 66 L415.4 63.6 L413.5 60.6 L413.6 56.6 L413.1 52 L414.3 48.5 L416.3 46.6 L417.5 43.4 L420.1 41.6 L423.3 40.6 L424 38 Z" fill="#00ff96" stroke="#000" stroke-width="0.6"/><path d="M449 76.2 L457.4 75.7 L475.8 75.7 L477.1 77 L477.3 79.5 L476.4 81.6 L474.5 82.1 L449 82.1 Z" fill="#00ff96" stroke="#000" stroke-width="0.6"/><path d="M471.6 90.2 L474 89.6 L480.3 90 L481.4 94 L482.6 99.4 L482.1 106.5 L481 109.5 L479.5 110.4 L456 110.4 L452 109 L448.5 107.5 L446.3 105.4 L447.2 103.2 L460 102.9 L471.6 102.9 L472.6 101 L472.2 96.5 L473.2 93 Z" fill="#00ff96" stroke="#000" stroke-width="0.6"/><path d="M433.3 64 L436.4 68.8 L429.9 68.8 Z" fill="#e6ff00" stroke="#000" stroke-width="0.6"/><ellipse cx="438.5" cy="60.7" rx="1.4" ry="1" transform="rotate(0 438.5 60.7)" fill="#e6ff00" stroke="#000" stroke-width="0.45"/><path d="M434.6 96.5 C434.9 96.08 436.13 96.98 437 97 C437.87 97.02 439.47 96.18 439.8 96.6 C440.13 97.02 439.47 98.8 439 99.5 C438.53 100.2 437.63 100.8 437 100.8 C436.37 100.8 435.6 100.22 435.2 99.5 C434.8 98.78 434.3 96.92 434.6 96.5 Z" fill="#00ff96" stroke="#000" stroke-width="0.45"/><ellipse cx="446.8" cy="91.4" rx="4" ry="2.9" transform="rotate(0 446.8 91.4)" fill="#00ff96" stroke="#000" stroke-width="0.45"/><ellipse cx="446.8" cy="91.6" rx="2.4" ry="1.7" transform="rotate(0 446.8 91.6)" fill="#00b4ff" stroke="#000" stroke-width="0.2"/><ellipse cx="446.8" cy="91.8" rx="1.2" ry="0.9" transform="rotate(0 446.8 91.8)" fill="#0050e6"/><ellipse cx="447" cy="86" rx="3.8" ry="1.5" transform="rotate(0 447 86)" fill="#ff8c00" stroke="#000" stroke-width="0.45"/><ellipse cx="434.8" cy="89.3" rx="1.4" ry="0.5" transform="rotate(0 434.8 89.3)" fill="#ff8c00" stroke="#000" stroke-width="0.15"/><ellipse cx="438.4" cy="99" rx="0" ry="0" transform="rotate(0 438.4 99)" fill="#00ff96"/><ellipse cx="454.4" cy="71.7" rx="3.7" ry="3.3" transform="rotate(0 454.4 71.7)" fill="#3cdc8c" stroke="#000" stroke-width="0.3"/><ellipse cx="454.4" cy="71.2" rx="2.9" ry="2.7" transform="rotate(0 454.4 71.2)" fill="#00a0ff" stroke="#000" stroke-width="0.2"/><ellipse cx="454.2" cy="66.4" rx="4.3" ry="2.7" transform="rotate(0 454.2 66.4)" fill="#ff8200" stroke="#000" stroke-width="0.3"/><ellipse cx="454.2" cy="66.5" rx="3.4" ry="2" transform="rotate(0 454.2 66.5)" fill="#d20000"/><ellipse cx="454.2" cy="66.6" rx="2.2" ry="1.2" transform="rotate(0 454.2 66.6)" fill="#780000"/><ellipse cx="454.4" cy="70.8" rx="2.3" ry="2.1" transform="rotate(0 454.4 70.8)" fill="#00008c" stroke="#000" stroke-width="0.2"/><ellipse cx="454.4" cy="70.8" rx="1.4" ry="1.3" transform="rotate(0 454.4 70.8)" fill="#000032"/><ellipse cx="448.2" cy="78.4" rx="3.7" ry="3.3" transform="rotate(0 448.2 78.4)" fill="#3cdc8c" stroke="#000" stroke-width="0.3"/><ellipse cx="448.2" cy="77.9" rx="2.9" ry="2.7" transform="rotate(0 448.2 77.9)" fill="#00a0ff" stroke="#000" stroke-width="0.2"/><ellipse cx="446.8" cy="73.6" rx="4.3" ry="2.7" transform="rotate(0 446.8 73.6)" fill="#ff8200" stroke="#000" stroke-width="0.3"/><ellipse cx="446.8" cy="73.7" rx="3.4" ry="2" transform="rotate(0 446.8 73.7)" fill="#d20000"/><ellipse cx="446.8" cy="73.8" rx="2.2" ry="1.2" transform="rotate(0 446.8 73.8)" fill="#780000"/><ellipse cx="448.2" cy="77.5" rx="2.3" ry="2.1" transform="rotate(0 448.2 77.5)" fill="#00008c" stroke="#000" stroke-width="0.2"/><ellipse cx="448.2" cy="77.5" rx="1.4" ry="1.3" transform="rotate(0 448.2 77.5)" fill="#000032"/><ellipse cx="460.9" cy="91.6" rx="3.7" ry="3.3" transform="rotate(0 460.9 91.6)" fill="#3cdc8c" stroke="#000" stroke-width="0.3"/><ellipse cx="460.9" cy="91.1" rx="2.9" ry="2.7" transform="rotate(0 460.9 91.1)" fill="#00a0ff" stroke="#000" stroke-width="0.2"/><ellipse cx="460.7" cy="86.6" rx="4.3" ry="2.7" transform="rotate(0 460.7 86.6)" fill="#ff8200" stroke="#000" stroke-width="0.3"/><ellipse cx="460.7" cy="86.7" rx="3.4" ry="2" transform="rotate(0 460.7 86.7)" fill="#d20000"/><ellipse cx="460.7" cy="86.8" rx="2.2" ry="1.2" transform="rotate(0 460.7 86.8)" fill="#780000"/><ellipse cx="460.9" cy="90.7" rx="2.3" ry="2.1" transform="rotate(0 460.9 90.7)" fill="#00008c" stroke="#000" stroke-width="0.2"/><ellipse cx="460.9" cy="90.7" rx="1.4" ry="1.3" transform="rotate(0 460.9 90.7)" fill="#000032"/></g>
<g clip-path="url(#c01)"><rect x="19.1" y="190" width="136.8" height="135.9" fill="#1444f5"/><g transform="translate(0 175.7)"><path d="M71.8 24.9 C72.38 25.83 73.12 27.75 73.3 29.4 C73.48 31.05 73.4 32.63 72.9 34.8 C72.4 36.97 71.37 39.62 70.3 42.4 C69.23 45.18 67.9 48.7 66.5 51.5 C65.1 54.3 63.55 56.78 61.9 59.2 C60.25 61.62 58.25 64.48 56.6 66 C54.95 67.52 53.53 68.22 52 68.3 C50.47 68.38 48.6 67.9 47.4 66.5 C46.2 65.1 45.18 62.52 44.8 59.9 C44.42 57.28 44.58 53.85 45.1 50.8 C45.62 47.75 46.5 44.65 47.9 41.6 C49.3 38.55 51.55 35.03 53.5 32.5 C55.45 29.97 57.57 27.85 59.6 26.4 C61.63 24.95 64 24.23 65.7 23.8 C67.4 23.37 68.78 23.62 69.8 23.8 C70.82 23.98 71.22 23.97 71.8 24.9 Z" fill="#08dcfc" stroke="#000" stroke-width="0.45"/><ellipse cx="19.1" cy="54.6" rx="3.5" ry="10.8" transform="rotate(0 19.1 54.6)" fill="#08dcfc" stroke="#000" stroke-width="0.45"/><path d="M84.5 91 C84.68 90.53 84.68 88.73 85.6 88.2 C86.52 87.67 88.33 87.73 90 87.8 C91.67 87.87 93.77 88.25 95.6 88.6 C97.43 88.95 99.07 89.4 101 89.9 C102.93 90.4 104.87 90.97 107.2 91.6 C109.53 92.23 111.77 92.83 115 93.7 C118.23 94.57 122.73 95.85 126.6 96.8 C130.47 97.75 134.35 98.82 138.2 99.4 C142.05 99.98 146.57 100.1 149.7 100.3 C152.83 100.5 155.78 100.55 157 100.6 L157 152 L108 152 L107.6 150.7 C106.08 148.12 101.17 139.72 98.5 135.2 C95.83 130.68 93.32 126.8 91.6 123.6 C89.88 120.4 89.1 118.93 88.2 116 C87.3 113.07 86.73 109.17 86.2 106 C85.67 102.83 85.28 99.5 85 97 C84.72 94.5 84.58 92 84.5 91 Z" fill="#08dcfc" stroke="#000" stroke-width="0.45"/><ellipse cx="83.2" cy="75.6" rx="11.3" ry="6.1" transform="rotate(-33 83.2 75.6)" fill="#08dcfc" stroke="#000" stroke-width="0.45"/><path d="M74.5 85.9 C75.75 85.92 77.28 86.37 78.3 87.3 C79.32 88.23 80.18 89.97 80.6 91.5 C81.02 93.03 81.15 95.15 80.8 96.5 C80.45 97.85 79.5 98.93 78.5 99.6 C77.5 100.27 76.08 100.55 74.8 100.5 C73.52 100.45 71.85 100.13 70.8 99.3 C69.75 98.47 68.87 96.97 68.5 95.5 C68.13 94.03 68.22 91.88 68.6 90.5 C68.98 89.12 69.82 87.97 70.8 87.2 C71.78 86.43 73.25 85.88 74.5 85.9 Z" fill="#08dcfc" stroke="#000" stroke-width="0.45"/><ellipse cx="78.6" cy="66.8" rx="3" ry="1.9" transform="rotate(-38 78.6 66.8)" fill="#00008c"/><ellipse cx="73.6" cy="73.7" rx="5" ry="2" transform="rotate(-50 73.6 73.7)" fill="#00008c"/><circle cx="85.6" cy="87" r="0.7" fill="#00008c"/><ellipse cx="81.7" cy="70.5" rx="3.3" ry="3.3" transform="rotate(0 81.7 70.5)" fill="#3cc850" stroke="#000" stroke-width="0.2"/><ellipse cx="81.7" cy="70.5" rx="2.5" ry="2.5" transform="rotate(0 81.7 70.5)" fill="#b4dc28" stroke="#000" stroke-width="0.2"/><ellipse cx="81.7" cy="70.5" rx="2" ry="2" transform="rotate(0 81.7 70.5)" fill="#ff8c00" stroke="#000" stroke-width="0.2"/><ellipse cx="81.7" cy="70.5" rx="1.3" ry="1.3" transform="rotate(0 81.7 70.5)" fill="#e61e00" stroke="#000" stroke-width="0.2"/><ellipse cx="81.7" cy="70.5" rx="0.65" ry="0.65" transform="rotate(0 81.7 70.5)" fill="#8c0000" stroke="#000" stroke-width="0.2"/><ellipse cx="76" cy="77.3" rx="3" ry="3" transform="rotate(0 76 77.3)" fill="#3cc850" stroke="#000" stroke-width="0.2"/><ellipse cx="76" cy="77.3" rx="1.9" ry="1.9" transform="rotate(0 76 77.3)" fill="#c8e628" stroke="#000" stroke-width="0.2"/><ellipse cx="76" cy="77.3" rx="1" ry="1" transform="rotate(0 76 77.3)" fill="#ffe600" stroke="#000" stroke-width="0.2"/><ellipse cx="74.2" cy="90.4" rx="3.3" ry="3.3" transform="rotate(0 74.2 90.4)" fill="#3cc850" stroke="#000" stroke-width="0.2"/><ellipse cx="74.2" cy="90.4" rx="2.5" ry="2.5" transform="rotate(0 74.2 90.4)" fill="#b4dc28" stroke="#000" stroke-width="0.2"/><ellipse cx="74.2" cy="90.4" rx="2" ry="2" transform="rotate(0 74.2 90.4)" fill="#ff8c00" stroke="#000" stroke-width="0.2"/><ellipse cx="74.2" cy="90.4" rx="1.3" ry="1.3" transform="rotate(0 74.2 90.4)" fill="#e61e00" stroke="#000" stroke-width="0.2"/><ellipse cx="74.2" cy="90.4" rx="0.65" ry="0.65" transform="rotate(0 74.2 90.4)" fill="#8c0000" stroke="#000" stroke-width="0.2"/><ellipse cx="88.6" cy="90.8" rx="3.3" ry="3.3" transform="rotate(0 88.6 90.8)" fill="#3cc850" stroke="#000" stroke-width="0.2"/><ellipse cx="88.6" cy="90.8" rx="2.5" ry="2.5" transform="rotate(0 88.6 90.8)" fill="#b4dc28" stroke="#000" stroke-width="0.2"/><ellipse cx="88.6" cy="90.8" rx="2" ry="2" transform="rotate(0 88.6 90.8)" fill="#ff8c00" stroke="#000" stroke-width="0.2"/><ellipse cx="88.6" cy="90.8" rx="1.3" ry="1.3" transform="rotate(0 88.6 90.8)" fill="#e61e00" stroke="#000" stroke-width="0.2"/><ellipse cx="88.6" cy="90.8" rx="0.65" ry="0.65" transform="rotate(0 88.6 90.8)" fill="#8c0000" stroke="#000" stroke-width="0.2"/></g><path fill="#dc1e32" d="M18.77 325.22h1.35v1.35h-1.35zM22.18 325.22h1.35v1.35h-1.35zM25.58 325.22h1.35v1.35h-1.35zM28.99 325.22h1.35v1.35h-1.35zM32.39 325.22h1.35v1.35h-1.35zM35.79 325.22h1.35v1.35h-1.35zM39.2 325.22h1.35v1.35h-1.35zM42.6 325.22h1.35v1.35h-1.35zM46.01 325.22h1.35v1.35h-1.35zM49.41 325.22h1.35v1.35h-1.35zM52.81 325.22h1.35v1.35h-1.35zM56.22 325.22h1.35v1.35h-1.35zM59.62 325.22h1.35v1.35h-1.35zM63.02 325.22h1.35v1.35h-1.35zM66.43 325.22h1.35v1.35h-1.35zM69.83 325.22h1.35v1.35h-1.35zM73.23 325.22h1.35v1.35h-1.35zM76.64 325.22h1.35v1.35h-1.35zM80.04 325.22h1.35v1.35h-1.35zM83.45 325.22h1.35v1.35h-1.35zM86.85 325.22h1.35v1.35h-1.35zM90.25 325.22h1.35v1.35h-1.35zM93.66 325.22h1.35v1.35h-1.35zM97.06 325.22h1.35v1.35h-1.35zM100.47 325.22h1.35v1.35h-1.35zM103.87 325.22h1.35v1.35h-1.35zM107.27 325.22h1.35v1.35h-1.35zM110.68 325.22h1.35v1.35h-1.35zM114.08 325.22h1.35v1.35h-1.35zM117.48 325.22h1.35v1.35h-1.35zM120.89 325.22h1.35v1.35h-1.35zM124.29 325.22h1.35v1.35h-1.35zM127.7 325.22h1.35v1.35h-1.35zM131.1 325.22h1.35v1.35h-1.35zM134.5 325.22h1.35v1.35h-1.35zM137.91 325.22h1.35v1.35h-1.35zM141.31 325.22h1.35v1.35h-1.35zM144.71 325.22h1.35v1.35h-1.35zM148.12 325.22h1.35v1.35h-1.35zM151.52 325.22h1.35v1.35h-1.35zM154.92 325.22h1.35v1.35h-1.35zM18.77 321.83h1.35v1.35h-1.35zM22.18 321.83h1.35v1.35h-1.35zM25.58 321.83h1.35v1.35h-1.35zM28.99 321.83h1.35v1.35h-1.35zM32.39 321.83h1.35v1.35h-1.35zM35.79 321.83h1.35v1.35h-1.35zM39.2 321.83h1.35v1.35h-1.35zM42.6 321.83h1.35v1.35h-1.35zM46.01 321.83h1.35v1.35h-1.35zM49.41 321.83h1.35v1.35h-1.35zM52.81 321.83h1.35v1.35h-1.35zM56.22 321.83h1.35v1.35h-1.35zM59.62 321.83h1.35v1.35h-1.35zM63.02 321.83h1.35v1.35h-1.35zM66.43 321.83h1.35v1.35h-1.35zM69.83 321.83h1.35v1.35h-1.35zM73.23 321.83h1.35v1.35h-1.35zM76.64 321.83h1.35v1.35h-1.35zM80.04 321.83h1.35v1.35h-1.35zM83.45 321.83h1.35v1.35h-1.35zM86.85 321.83h1.35v1.35h-1.35zM90.25 321.83h1.35v1.35h-1.35zM93.66 321.83h1.35v1.35h-1.35zM97.06 321.83h1.35v1.35h-1.35zM100.47 321.83h1.35v1.35h-1.35zM103.87 321.83h1.35v1.35h-1.35zM107.27 321.83h1.35v1.35h-1.35zM110.68 321.83h1.35v1.35h-1.35zM114.08 321.83h1.35v1.35h-1.35zM117.48 321.83h1.35v1.35h-1.35zM120.89 321.83h1.35v1.35h-1.35zM124.29 321.83h1.35v1.35h-1.35zM127.7 321.83h1.35v1.35h-1.35zM131.1 321.83h1.35v1.35h-1.35zM134.5 321.83h1.35v1.35h-1.35zM137.91 321.83h1.35v1.35h-1.35zM141.31 321.83h1.35v1.35h-1.35zM144.71 321.83h1.35v1.35h-1.35zM148.12 321.83h1.35v1.35h-1.35zM151.52 321.83h1.35v1.35h-1.35zM154.92 321.83h1.35v1.35h-1.35zM18.77 318.44h1.35v1.35h-1.35zM22.18 318.44h1.35v1.35h-1.35zM25.58 318.44h1.35v1.35h-1.35zM28.99 318.44h1.35v1.35h-1.35zM32.39 318.44h1.35v1.35h-1.35zM35.79 318.44h1.35v1.35h-1.35zM39.2 318.44h1.35v1.35h-1.35zM42.6 318.44h1.35v1.35h-1.35zM46.01 318.44h1.35v1.35h-1.35zM49.41 318.44h1.35v1.35h-1.35zM52.81 318.44h1.35v1.35h-1.35zM56.22 318.44h1.35v1.35h-1.35zM59.62 318.44h1.35v1.35h-1.35zM63.02 318.44h1.35v1.35h-1.35zM66.43 318.44h1.35v1.35h-1.35zM69.83 318.44h1.35v1.35h-1.35zM73.23 318.44h1.35v1.35h-1.35zM76.64 318.44h1.35v1.35h-1.35zM80.04 318.44h1.35v1.35h-1.35zM83.45 318.44h1.35v1.35h-1.35zM86.85 318.44h1.35v1.35h-1.35zM90.25 318.44h1.35v1.35h-1.35zM93.66 318.44h1.35v1.35h-1.35zM97.06 318.44h1.35v1.35h-1.35zM100.47 318.44h1.35v1.35h-1.35zM103.87 318.44h1.35v1.35h-1.35zM107.27 318.44h1.35v1.35h-1.35zM110.68 318.44h1.35v1.35h-1.35zM114.08 318.44h1.35v1.35h-1.35zM117.48 318.44h1.35v1.35h-1.35zM120.89 318.44h1.35v1.35h-1.35zM124.29 318.44h1.35v1.35h-1.35zM127.7 318.44h1.35v1.35h-1.35zM131.1 318.44h1.35v1.35h-1.35zM134.5 318.44h1.35v1.35h-1.35zM137.91 318.44h1.35v1.35h-1.35zM141.31 318.44h1.35v1.35h-1.35zM144.71 318.44h1.35v1.35h-1.35zM148.12 318.44h1.35v1.35h-1.35zM151.52 318.44h1.35v1.35h-1.35zM154.92 318.44h1.35v1.35h-1.35zM18.77 315.05h1.35v1.35h-1.35zM22.18 315.05h1.35v1.35h-1.35zM25.58 315.05h1.35v1.35h-1.35zM28.99 315.05h1.35v1.35h-1.35zM32.39 315.05h1.35v1.35h-1.35zM35.79 315.05h1.35v1.35h-1.35zM39.2 315.05h1.35v1.35h-1.35zM42.6 315.05h1.35v1.35h-1.35zM46.01 315.05h1.35v1.35h-1.35zM49.41 315.05h1.35v1.35h-1.35zM52.81 315.05h1.35v1.35h-1.35zM56.22 315.05h1.35v1.35h-1.35zM59.62 315.05h1.35v1.35h-1.35zM63.02 315.05h1.35v1.35h-1.35zM66.43 315.05h1.35v1.35h-1.35zM69.83 315.05h1.35v1.35h-1.35zM73.23 315.05h1.35v1.35h-1.35zM76.64 315.05h1.35v1.35h-1.35zM80.04 315.05h1.35v1.35h-1.35zM83.45 315.05h1.35v1.35h-1.35zM86.85 315.05h1.35v1.35h-1.35zM90.25 315.05h1.35v1.35h-1.35zM93.66 315.05h1.35v1.35h-1.35zM97.06 315.05h1.35v1.35h-1.35zM100.47 315.05h1.35v1.35h-1.35zM103.87 315.05h1.35v1.35h-1.35zM107.27 315.05h1.35v1.35h-1.35zM110.68 315.05h1.35v1.35h-1.35zM114.08 315.05h1.35v1.35h-1.35zM117.48 315.05h1.35v1.35h-1.35zM120.89 315.05h1.35v1.35h-1.35zM124.29 315.05h1.35v1.35h-1.35zM127.7 315.05h1.35v1.35h-1.35zM131.1 315.05h1.35v1.35h-1.35zM134.5 315.05h1.35v1.35h-1.35zM137.91 315.05h1.35v1.35h-1.35zM141.31 315.05h1.35v1.35h-1.35zM144.71 315.05h1.35v1.35h-1.35zM148.12 315.05h1.35v1.35h-1.35zM151.52 315.05h1.35v1.35h-1.35zM154.92 315.05h1.35v1.35h-1.35zM18.77 311.66h1.35v1.35h-1.35zM22.18 311.66h1.35v1.35h-1.35zM25.58 311.66h1.35v1.35h-1.35zM28.99 311.66h1.35v1.35h-1.35zM32.39 311.66h1.35v1.35h-1.35zM35.79 311.66h1.35v1.35h-1.35zM39.2 311.66h1.35v1.35h-1.35zM42.6 311.66h1.35v1.35h-1.35zM46.01 311.66h1.35v1.35h-1.35zM49.41 311.66h1.35v1.35h-1.35zM52.81 311.66h1.35v1.35h-1.35zM56.22 311.66h1.35v1.35h-1.35zM59.62 311.66h1.35v1.35h-1.35zM63.02 311.66h1.35v1.35h-1.35zM66.43 311.66h1.35v1.35h-1.35zM69.83 311.66h1.35v1.35h-1.35zM73.23 311.66h1.35v1.35h-1.35zM76.64 311.66h1.35v1.35h-1.35zM80.04 311.66h1.35v1.35h-1.35zM83.45 311.66h1.35v1.35h-1.35zM86.85 311.66h1.35v1.35h-1.35zM90.25 311.66h1.35v1.35h-1.35zM93.66 311.66h1.35v1.35h-1.35zM97.06 311.66h1.35v1.35h-1.35zM100.47 311.66h1.35v1.35h-1.35zM103.87 311.66h1.35v1.35h-1.35zM107.27 311.66h1.35v1.35h-1.35zM110.68 311.66h1.35v1.35h-1.35zM114.08 311.66h1.35v1.35h-1.35zM117.48 311.66h1.35v1.35h-1.35zM120.89 311.66h1.35v1.35h-1.35zM124.29 311.66h1.35v1.35h-1.35zM127.7 311.66h1.35v1.35h-1.35zM131.1 311.66h1.35v1.35h-1.35zM134.5 311.66h1.35v1.35h-1.35zM137.91 311.66h1.35v1.35h-1.35zM141.31 311.66h1.35v1.35h-1.35zM144.71 311.66h1.35v1.35h-1.35zM148.12 311.66h1.35v1.35h-1.35zM151.52 311.66h1.35v1.35h-1.35zM154.92 311.66h1.35v1.35h-1.35zM18.77 308.27h1.35v1.35h-1.35zM22.18 308.27h1.35v1.35h-1.35zM25.58 308.27h1.35v1.35h-1.35zM28.99 308.27h1.35v1.35h-1.35zM32.39 308.27h1.35v1.35h-1.35zM35.79 308.27h1.35v1.35h-1.35zM39.2 308.27h1.35v1.35h-1.35zM42.6 308.27h1.35v1.35h-1.35zM46.01 308.27h1.35v1.35h-1.35zM49.41 308.27h1.35v1.35h-1.35zM52.81 308.27h1.35v1.35h-1.35zM56.22 308.27h1.35v1.35h-1.35zM59.62 308.27h1.35v1.35h-1.35zM63.02 308.27h1.35v1.35h-1.35zM66.43 308.27h1.35v1.35h-1.35zM69.83 308.27h1.35v1.35h-1.35zM73.23 308.27h1.35v1.35h-1.35zM76.64 308.27h1.35v1.35h-1.35zM80.04 308.27h1.35v1.35h-1.35zM83.45 308.27h1.35v1.35h-1.35zM86.85 308.27h1.35v1.35h-1.35zM90.25 308.27h1.35v1.35h-1.35zM93.66 308.27h1.35v1.35h-1.35zM97.06 308.27h1.35v1.35h-1.35zM100.47 308.27h1.35v1.35h-1.35zM103.87 308.27h1.35v1.35h-1.35zM107.27 308.27h1.35v1.35h-1.35zM110.68 308.27h1.35v1.35h-1.35zM114.08 308.27h1.35v1.35h-1.35zM117.48 308.27h1.35v1.35h-1.35zM120.89 308.27h1.35v1.35h-1.35zM124.29 308.27h1.35v1.35h-1.35zM127.7 308.27h1.35v1.35h-1.35zM131.1 308.27h1.35v1.35h-1.35zM134.5 308.27h1.35v1.35h-1.35zM137.91 308.27h1.35v1.35h-1.35zM141.31 308.27h1.35v1.35h-1.35zM144.71 308.27h1.35v1.35h-1.35zM148.12 308.27h1.35v1.35h-1.35zM151.52 308.27h1.35v1.35h-1.35zM154.92 308.27h1.35v1.35h-1.35zM18.77 304.88h1.35v1.35h-1.35zM22.18 304.88h1.35v1.35h-1.35zM25.58 304.88h1.35v1.35h-1.35zM28.99 304.88h1.35v1.35h-1.35zM32.39 304.88h1.35v1.35h-1.35zM35.79 304.88h1.35v1.35h-1.35zM39.2 304.88h1.35v1.35h-1.35zM42.6 304.88h1.35v1.35h-1.35zM46.01 304.88h1.35v1.35h-1.35zM49.41 304.88h1.35v1.35h-1.35zM52.81 304.88h1.35v1.35h-1.35zM56.22 304.88h1.35v1.35h-1.35zM59.62 304.88h1.35v1.35h-1.35zM63.02 304.88h1.35v1.35h-1.35zM66.43 304.88h1.35v1.35h-1.35zM69.83 304.88h1.35v1.35h-1.35zM73.23 304.88h1.35v1.35h-1.35zM76.64 304.88h1.35v1.35h-1.35zM80.04 304.88h1.35v1.35h-1.35zM83.45 304.88h1.35v1.35h-1.35zM86.85 304.88h1.35v1.35h-1.35zM90.25 304.88h1.35v1.35h-1.35zM93.66 304.88h1.35v1.35h-1.35zM97.06 304.88h1.35v1.35h-1.35zM100.47 304.88h1.35v1.35h-1.35zM103.87 304.88h1.35v1.35h-1.35zM107.27 304.88h1.35v1.35h-1.35zM110.68 304.88h1.35v1.35h-1.35zM114.08 304.88h1.35v1.35h-1.35zM117.48 304.88h1.35v1.35h-1.35zM120.89 304.88h1.35v1.35h-1.35zM124.29 304.88h1.35v1.35h-1.35zM127.7 304.88h1.35v1.35h-1.35zM131.1 304.88h1.35v1.35h-1.35zM134.5 304.88h1.35v1.35h-1.35zM137.91 304.88h1.35v1.35h-1.35zM141.31 304.88h1.35v1.35h-1.35zM144.71 304.88h1.35v1.35h-1.35zM148.12 304.88h1.35v1.35h-1.35zM151.52 304.88h1.35v1.35h-1.35zM154.92 304.88h1.35v1.35h-1.35zM18.77 301.49h1.35v1.35h-1.35zM22.18 301.49h1.35v1.35h-1.35zM25.58 301.49h1.35v1.35h-1.35zM28.99 301.49h1.35v1.35h-1.35zM32.39 301.49h1.35v1.35h-1.35zM35.79 301.49h1.35v1.35h-1.35zM39.2 301.49h1.35v1.35h-1.35zM42.6 301.49h1.35v1.35h-1.35zM46.01 301.49h1.35v1.35h-1.35zM49.41 301.49h1.35v1.35h-1.35zM52.81 301.49h1.35v1.35h-1.35zM56.22 301.49h1.35v1.35h-1.35zM59.62 301.49h1.35v1.35h-1.35zM63.02 301.49h1.35v1.35h-1.35zM66.43 301.49h1.35v1.35h-1.35zM69.83 301.49h1.35v1.35h-1.35zM73.23 301.49h1.35v1.35h-1.35zM76.64 301.49h1.35v1.35h-1.35zM80.04 301.49h1.35v1.35h-1.35zM83.45 301.49h1.35v1.35h-1.35zM86.85 301.49h1.35v1.35h-1.35zM90.25 301.49h1.35v1.35h-1.35zM93.66 301.49h1.35v1.35h-1.35zM97.06 301.49h1.35v1.35h-1.35zM100.47 301.49h1.35v1.35h-1.35zM103.87 301.49h1.35v1.35h-1.35zM107.27 301.49h1.35v1.35h-1.35zM110.68 301.49h1.35v1.35h-1.35zM114.08 301.49h1.35v1.35h-1.35zM117.48 301.49h1.35v1.35h-1.35zM120.89 301.49h1.35v1.35h-1.35zM124.29 301.49h1.35v1.35h-1.35zM127.7 301.49h1.35v1.35h-1.35zM131.1 301.49h1.35v1.35h-1.35zM134.5 301.49h1.35v1.35h-1.35zM137.91 301.49h1.35v1.35h-1.35zM141.31 301.49h1.35v1.35h-1.35zM144.71 301.49h1.35v1.35h-1.35zM148.12 301.49h1.35v1.35h-1.35zM151.52 301.49h1.35v1.35h-1.35zM154.92 301.49h1.35v1.35h-1.35zM18.77 298.1h1.35v1.35h-1.35zM22.18 298.1h1.35v1.35h-1.35zM25.58 298.1h1.35v1.35h-1.35zM28.99 298.1h1.35v1.35h-1.35zM32.39 298.1h1.35v1.35h-1.35zM35.79 298.1h1.35v1.35h-1.35zM39.2 298.1h1.35v1.35h-1.35zM42.6 298.1h1.35v1.35h-1.35zM46.01 298.1h1.35v1.35h-1.35zM49.41 298.1h1.35v1.35h-1.35zM52.81 298.1h1.35v1.35h-1.35zM56.22 298.1h1.35v1.35h-1.35zM59.62 298.1h1.35v1.35h-1.35zM63.02 298.1h1.35v1.35h-1.35zM66.43 298.1h1.35v1.35h-1.35zM69.83 298.1h1.35v1.35h-1.35zM73.23 298.1h1.35v1.35h-1.35zM76.64 298.1h1.35v1.35h-1.35zM80.04 298.1h1.35v1.35h-1.35zM83.45 298.1h1.35v1.35h-1.35zM86.85 298.1h1.35v1.35h-1.35zM90.25 298.1h1.35v1.35h-1.35zM93.66 298.1h1.35v1.35h-1.35zM97.06 298.1h1.35v1.35h-1.35zM100.47 298.1h1.35v1.35h-1.35zM103.87 298.1h1.35v1.35h-1.35zM107.27 298.1h1.35v1.35h-1.35zM110.68 298.1h1.35v1.35h-1.35zM114.08 298.1h1.35v1.35h-1.35zM117.48 298.1h1.35v1.35h-1.35zM120.89 298.1h1.35v1.35h-1.35zM124.29 298.1h1.35v1.35h-1.35zM127.7 298.1h1.35v1.35h-1.35zM131.1 298.1h1.35v1.35h-1.35zM134.5 298.1h1.35v1.35h-1.35zM137.91 298.1h1.35v1.35h-1.35zM141.31 298.1h1.35v1.35h-1.35zM144.71 298.1h1.35v1.35h-1.35zM148.12 298.1h1.35v1.35h-1.35zM151.52 298.1h1.35v1.35h-1.35zM154.92 298.1h1.35v1.35h-1.35zM18.77 294.71h1.35v1.35h-1.35zM22.18 294.71h1.35v1.35h-1.35zM25.58 294.71h1.35v1.35h-1.35zM28.99 294.71h1.35v1.35h-1.35zM32.39 294.71h1.35v1.35h-1.35zM35.79 294.71h1.35v1.35h-1.35zM39.2 294.71h1.35v1.35h-1.35zM42.6 294.71h1.35v1.35h-1.35zM46.01 294.71h1.35v1.35h-1.35zM49.41 294.71h1.35v1.35h-1.35zM52.81 294.71h1.35v1.35h-1.35zM56.22 294.71h1.35v1.35h-1.35zM59.62 294.71h1.35v1.35h-1.35zM63.02 294.71h1.35v1.35h-1.35zM66.43 294.71h1.35v1.35h-1.35zM69.83 294.71h1.35v1.35h-1.35zM73.23 294.71h1.35v1.35h-1.35zM76.64 294.71h1.35v1.35h-1.35zM80.04 294.71h1.35v1.35h-1.35zM83.45 294.71h1.35v1.35h-1.35zM86.85 294.71h1.35v1.35h-1.35zM90.25 294.71h1.35v1.35h-1.35zM93.66 294.71h1.35v1.35h-1.35zM97.06 294.71h1.35v1.35h-1.35zM100.47 294.71h1.35v1.35h-1.35zM103.87 294.71h1.35v1.35h-1.35zM107.27 294.71h1.35v1.35h-1.35zM110.68 294.71h1.35v1.35h-1.35zM114.08 294.71h1.35v1.35h-1.35zM117.48 294.71h1.35v1.35h-1.35zM120.89 294.71h1.35v1.35h-1.35zM124.29 294.71h1.35v1.35h-1.35zM127.7 294.71h1.35v1.35h-1.35zM131.1 294.71h1.35v1.35h-1.35zM134.5 294.71h1.35v1.35h-1.35zM137.91 294.71h1.35v1.35h-1.35zM141.31 294.71h1.35v1.35h-1.35zM144.71 294.71h1.35v1.35h-1.35zM148.12 294.71h1.35v1.35h-1.35zM151.52 294.71h1.35v1.35h-1.35zM154.92 294.71h1.35v1.35h-1.35zM18.77 291.32h1.35v1.35h-1.35zM22.18 291.32h1.35v1.35h-1.35zM25.58 291.32h1.35v1.35h-1.35zM28.99 291.32h1.35v1.35h-1.35zM32.39 291.32h1.35v1.35h-1.35zM35.79 291.32h1.35v1.35h-1.35zM39.2 291.32h1.35v1.35h-1.35zM42.6 291.32h1.35v1.35h-1.35zM46.01 291.32h1.35v1.35h-1.35zM49.41 291.32h1.35v1.35h-1.35zM52.81 291.32h1.35v1.35h-1.35zM56.22 291.32h1.35v1.35h-1.35zM59.62 291.32h1.35v1.35h-1.35zM63.02 291.32h1.35v1.35h-1.35zM66.43 291.32h1.35v1.35h-1.35zM69.83 291.32h1.35v1.35h-1.35zM73.23 291.32h1.35v1.35h-1.35zM76.64 291.32h1.35v1.35h-1.35zM80.04 291.32h1.35v1.35h-1.35zM83.45 291.32h1.35v1.35h-1.35zM86.85 291.32h1.35v1.35h-1.35zM90.25 291.32h1.35v1.35h-1.35zM93.66 291.32h1.35v1.35h-1.35zM97.06 291.32h1.35v1.35h-1.35zM100.47 291.32h1.35v1.35h-1.35zM103.87 291.32h1.35v1.35h-1.35zM107.27 291.32h1.35v1.35h-1.35zM110.68 291.32h1.35v1.35h-1.35zM114.08 291.32h1.35v1.35h-1.35zM117.48 291.32h1.35v1.35h-1.35zM120.89 291.32h1.35v1.35h-1.35zM124.29 291.32h1.35v1.35h-1.35zM127.7 291.32h1.35v1.35h-1.35zM131.1 291.32h1.35v1.35h-1.35zM134.5 291.32h1.35v1.35h-1.35zM137.91 291.32h1.35v1.35h-1.35zM141.31 291.32h1.35v1.35h-1.35zM144.71 291.32h1.35v1.35h-1.35zM148.12 291.32h1.35v1.35h-1.35zM151.52 291.32h1.35v1.35h-1.35zM154.92 291.32h1.35v1.35h-1.35zM18.77 287.94h1.35v1.35h-1.35zM22.18 287.94h1.35v1.35h-1.35zM25.58 287.94h1.35v1.35h-1.35zM28.99 287.94h1.35v1.35h-1.35zM32.39 287.94h1.35v1.35h-1.35zM35.79 287.94h1.35v1.35h-1.35zM39.2 287.94h1.35v1.35h-1.35zM42.6 287.94h1.35v1.35h-1.35zM46.01 287.94h1.35v1.35h-1.35zM49.41 287.94h1.35v1.35h-1.35zM52.81 287.94h1.35v1.35h-1.35zM56.22 287.94h1.35v1.35h-1.35zM59.62 287.94h1.35v1.35h-1.35zM63.02 287.94h1.35v1.35h-1.35zM66.43 287.94h1.35v1.35h-1.35zM69.83 287.94h1.35v1.35h-1.35zM73.23 287.94h1.35v1.35h-1.35zM76.64 287.94h1.35v1.35h-1.35zM80.04 287.94h1.35v1.35h-1.35zM83.45 287.94h1.35v1.35h-1.35zM86.85 287.94h1.35v1.35h-1.35zM90.25 287.94h1.35v1.35h-1.35zM93.66 287.94h1.35v1.35h-1.35zM97.06 287.94h1.35v1.35h-1.35zM100.47 287.94h1.35v1.35h-1.35zM103.87 287.94h1.35v1.35h-1.35zM107.27 287.94h1.35v1.35h-1.35zM110.68 287.94h1.35v1.35h-1.35zM114.08 287.94h1.35v1.35h-1.35zM117.48 287.94h1.35v1.35h-1.35zM120.89 287.94h1.35v1.35h-1.35zM124.29 287.94h1.35v1.35h-1.35zM127.7 287.94h1.35v1.35h-1.35zM131.1 287.94h1.35v1.35h-1.35zM134.5 287.94h1.35v1.35h-1.35zM137.91 287.94h1.35v1.35h-1.35zM141.31 287.94h1.35v1.35h-1.35zM144.71 287.94h1.35v1.35h-1.35zM148.12 287.94h1.35v1.35h-1.35zM151.52 287.94h1.35v1.35h-1.35zM154.92 287.94h1.35v1.35h-1.35zM18.77 284.54h1.35v1.35h-1.35zM22.18 284.54h1.35v1.35h-1.35zM25.58 284.54h1.35v1.35h-1.35zM28.99 284.54h1.35v1.35h-1.35zM32.39 284.54h1.35v1.35h-1.35zM35.79 284.54h1.35v1.35h-1.35zM39.2 284.54h1.35v1.35h-1.35zM42.6 284.54h1.35v1.35h-1.35zM46.01 284.54h1.35v1.35h-1.35zM49.41 284.54h1.35v1.35h-1.35zM52.81 284.54h1.35v1.35h-1.35zM56.22 284.54h1.35v1.35h-1.35zM59.62 284.54h1.35v1.35h-1.35zM63.02 284.54h1.35v1.35h-1.35zM66.43 284.54h1.35v1.35h-1.35zM69.83 284.54h1.35v1.35h-1.35zM73.23 284.54h1.35v1.35h-1.35zM76.64 284.54h1.35v1.35h-1.35zM80.04 284.54h1.35v1.35h-1.35zM83.45 284.54h1.35v1.35h-1.35zM86.85 284.54h1.35v1.35h-1.35zM90.25 284.54h1.35v1.35h-1.35zM93.66 284.54h1.35v1.35h-1.35zM97.06 284.54h1.35v1.35h-1.35zM100.47 284.54h1.35v1.35h-1.35zM103.87 284.54h1.35v1.35h-1.35zM107.27 284.54h1.35v1.35h-1.35zM110.68 284.54h1.35v1.35h-1.35zM114.08 284.54h1.35v1.35h-1.35zM117.48 284.54h1.35v1.35h-1.35zM120.89 284.54h1.35v1.35h-1.35zM124.29 284.54h1.35v1.35h-1.35zM127.7 284.54h1.35v1.35h-1.35zM131.1 284.54h1.35v1.35h-1.35zM134.5 284.54h1.35v1.35h-1.35zM137.91 284.54h1.35v1.35h-1.35zM141.31 284.54h1.35v1.35h-1.35zM144.71 284.54h1.35v1.35h-1.35zM148.12 284.54h1.35v1.35h-1.35zM151.52 284.54h1.35v1.35h-1.35zM154.92 284.54h1.35v1.35h-1.35zM18.77 281.15h1.35v1.35h-1.35zM22.18 281.15h1.35v1.35h-1.35zM25.58 281.15h1.35v1.35h-1.35zM28.99 281.15h1.35v1.35h-1.35zM32.39 281.15h1.35v1.35h-1.35zM35.79 281.15h1.35v1.35h-1.35zM39.2 281.15h1.35v1.35h-1.35zM42.6 281.15h1.35v1.35h-1.35zM46.01 281.15h1.35v1.35h-1.35zM49.41 281.15h1.35v1.35h-1.35zM52.81 281.15h1.35v1.35h-1.35zM56.22 281.15h1.35v1.35h-1.35zM59.62 281.15h1.35v1.35h-1.35zM63.02 281.15h1.35v1.35h-1.35zM66.43 281.15h1.35v1.35h-1.35zM69.83 281.15h1.35v1.35h-1.35zM73.23 281.15h1.35v1.35h-1.35zM76.64 281.15h1.35v1.35h-1.35zM80.04 281.15h1.35v1.35h-1.35zM83.45 281.15h1.35v1.35h-1.35zM86.85 281.15h1.35v1.35h-1.35zM90.25 281.15h1.35v1.35h-1.35zM93.66 281.15h1.35v1.35h-1.35zM97.06 281.15h1.35v1.35h-1.35zM100.47 281.15h1.35v1.35h-1.35zM103.87 281.15h1.35v1.35h-1.35zM107.27 281.15h1.35v1.35h-1.35zM110.68 281.15h1.35v1.35h-1.35zM114.08 281.15h1.35v1.35h-1.35zM117.48 281.15h1.35v1.35h-1.35zM120.89 281.15h1.35v1.35h-1.35zM124.29 281.15h1.35v1.35h-1.35zM127.7 281.15h1.35v1.35h-1.35zM131.1 281.15h1.35v1.35h-1.35zM134.5 281.15h1.35v1.35h-1.35zM137.91 281.15h1.35v1.35h-1.35zM141.31 281.15h1.35v1.35h-1.35zM144.71 281.15h1.35v1.35h-1.35zM148.12 281.15h1.35v1.35h-1.35zM151.52 281.15h1.35v1.35h-1.35zM154.92 281.15h1.35v1.35h-1.35zM18.77 277.76h1.35v1.35h-1.35zM22.18 277.76h1.35v1.35h-1.35zM25.58 277.76h1.35v1.35h-1.35zM28.99 277.76h1.35v1.35h-1.35zM32.39 277.76h1.35v1.35h-1.35zM35.79 277.76h1.35v1.35h-1.35zM39.2 277.76h1.35v1.35h-1.35zM42.6 277.76h1.35v1.35h-1.35zM46.01 277.76h1.35v1.35h-1.35zM49.41 277.76h1.35v1.35h-1.35zM52.81 277.76h1.35v1.35h-1.35zM56.22 277.76h1.35v1.35h-1.35zM59.62 277.76h1.35v1.35h-1.35zM63.02 277.76h1.35v1.35h-1.35zM66.43 277.76h1.35v1.35h-1.35zM69.83 277.76h1.35v1.35h-1.35zM73.23 277.76h1.35v1.35h-1.35zM76.64 277.76h1.35v1.35h-1.35zM80.04 277.76h1.35v1.35h-1.35zM83.45 277.76h1.35v1.35h-1.35zM86.85 277.76h1.35v1.35h-1.35zM90.25 277.76h1.35v1.35h-1.35zM93.66 277.76h1.35v1.35h-1.35zM97.06 277.76h1.35v1.35h-1.35zM100.47 277.76h1.35v1.35h-1.35zM103.87 277.76h1.35v1.35h-1.35zM107.27 277.76h1.35v1.35h-1.35zM110.68 277.76h1.35v1.35h-1.35zM114.08 277.76h1.35v1.35h-1.35zM117.48 277.76h1.35v1.35h-1.35zM120.89 277.76h1.35v1.35h-1.35zM124.29 277.76h1.35v1.35h-1.35zM127.7 277.76h1.35v1.35h-1.35zM131.1 277.76h1.35v1.35h-1.35zM134.5 277.76h1.35v1.35h-1.35zM137.91 277.76h1.35v1.35h-1.35zM141.31 277.76h1.35v1.35h-1.35zM144.71 277.76h1.35v1.35h-1.35zM148.12 277.76h1.35v1.35h-1.35zM151.52 277.76h1.35v1.35h-1.35zM154.92 277.76h1.35v1.35h-1.35zM18.77 274.38h1.35v1.35h-1.35zM22.18 274.38h1.35v1.35h-1.35zM25.58 274.38h1.35v1.35h-1.35zM28.99 274.38h1.35v1.35h-1.35zM32.39 274.38h1.35v1.35h-1.35zM35.79 274.38h1.35v1.35h-1.35zM39.2 274.38h1.35v1.35h-1.35zM42.6 274.38h1.35v1.35h-1.35zM46.01 274.38h1.35v1.35h-1.35zM49.41 274.38h1.35v1.35h-1.35zM52.81 274.38h1.35v1.35h-1.35zM56.22 274.38h1.35v1.35h-1.35zM59.62 274.38h1.35v1.35h-1.35zM63.02 274.38h1.35v1.35h-1.35zM66.43 274.38h1.35v1.35h-1.35zM69.83 274.38h1.35v1.35h-1.35zM73.23 274.38h1.35v1.35h-1.35zM76.64 274.38h1.35v1.35h-1.35zM80.04 274.38h1.35v1.35h-1.35zM83.45 274.38h1.35v1.35h-1.35zM86.85 274.38h1.35v1.35h-1.35zM90.25 274.38h1.35v1.35h-1.35zM93.66 274.38h1.35v1.35h-1.35zM97.06 274.38h1.35v1.35h-1.35zM100.47 274.38h1.35v1.35h-1.35zM103.87 274.38h1.35v1.35h-1.35zM107.27 274.38h1.35v1.35h-1.35zM110.68 274.38h1.35v1.35h-1.35zM114.08 274.38h1.35v1.35h-1.35zM117.48 274.38h1.35v1.35h-1.35zM120.89 274.38h1.35v1.35h-1.35zM124.29 274.38h1.35v1.35h-1.35zM127.7 274.38h1.35v1.35h-1.35zM131.1 274.38h1.35v1.35h-1.35zM134.5 274.38h1.35v1.35h-1.35zM137.91 274.38h1.35v1.35h-1.35zM141.31 274.38h1.35v1.35h-1.35zM144.71 274.38h1.35v1.35h-1.35zM148.12 274.38h1.35v1.35h-1.35zM151.52 274.38h1.35v1.35h-1.35zM154.92 274.38h1.35v1.35h-1.35zM18.77 270.98h1.35v1.35h-1.35zM22.18 270.98h1.35v1.35h-1.35zM25.58 270.98h1.35v1.35h-1.35zM28.99 270.98h1.35v1.35h-1.35zM32.39 270.98h1.35v1.35h-1.35zM35.79 270.98h1.35v1.35h-1.35zM39.2 270.98h1.35v1.35h-1.35zM42.6 270.98h1.35v1.35h-1.35zM46.01 270.98h1.35v1.35h-1.35zM49.41 270.98h1.35v1.35h-1.35zM52.81 270.98h1.35v1.35h-1.35zM56.22 270.98h1.35v1.35h-1.35zM59.62 270.98h1.35v1.35h-1.35zM63.02 270.98h1.35v1.35h-1.35zM66.43 270.98h1.35v1.35h-1.35zM69.83 270.98h1.35v1.35h-1.35zM73.23 270.98h1.35v1.35h-1.35zM76.64 270.98h1.35v1.35h-1.35zM80.04 270.98h1.35v1.35h-1.35zM83.45 270.98h1.35v1.35h-1.35zM86.85 270.98h1.35v1.35h-1.35zM90.25 270.98h1.35v1.35h-1.35zM93.66 270.98h1.35v1.35h-1.35zM97.06 270.98h1.35v1.35h-1.35zM100.47 270.98h1.35v1.35h-1.35zM103.87 270.98h1.35v1.35h-1.35zM107.27 270.98h1.35v1.35h-1.35zM110.68 270.98h1.35v1.35h-1.35zM114.08 270.98h1.35v1.35h-1.35zM117.48 270.98h1.35v1.35h-1.35zM120.89 270.98h1.35v1.35h-1.35zM124.29 270.98h1.35v1.35h-1.35zM127.7 270.98h1.35v1.35h-1.35zM131.1 270.98h1.35v1.35h-1.35zM134.5 270.98h1.35v1.35h-1.35zM137.91 270.98h1.35v1.35h-1.35zM141.31 270.98h1.35v1.35h-1.35zM144.71 270.98h1.35v1.35h-1.35zM148.12 270.98h1.35v1.35h-1.35zM151.52 270.98h1.35v1.35h-1.35zM154.92 270.98h1.35v1.35h-1.35zM18.77 267.59h1.35v1.35h-1.35zM22.18 267.59h1.35v1.35h-1.35zM25.58 267.59h1.35v1.35h-1.35zM28.99 267.59h1.35v1.35h-1.35zM32.39 267.59h1.35v1.35h-1.35zM35.79 267.59h1.35v1.35h-1.35zM39.2 267.59h1.35v1.35h-1.35zM42.6 267.59h1.35v1.35h-1.35zM46.01 267.59h1.35v1.35h-1.35zM49.41 267.59h1.35v1.35h-1.35zM52.81 267.59h1.35v1.35h-1.35zM56.22 267.59h1.35v1.35h-1.35zM59.62 267.59h1.35v1.35h-1.35zM63.02 267.59h1.35v1.35h-1.35zM66.43 267.59h1.35v1.35h-1.35zM69.83 267.59h1.35v1.35h-1.35zM73.23 267.59h1.35v1.35h-1.35zM76.64 267.59h1.35v1.35h-1.35zM80.04 267.59h1.35v1.35h-1.35zM83.45 267.59h1.35v1.35h-1.35zM86.85 267.59h1.35v1.35h-1.35zM90.25 267.59h1.35v1.35h-1.35zM93.66 267.59h1.35v1.35h-1.35zM97.06 267.59h1.35v1.35h-1.35zM100.47 267.59h1.35v1.35h-1.35zM103.87 267.59h1.35v1.35h-1.35zM107.27 267.59h1.35v1.35h-1.35zM110.68 267.59h1.35v1.35h-1.35zM114.08 267.59h1.35v1.35h-1.35zM117.48 267.59h1.35v1.35h-1.35zM120.89 267.59h1.35v1.35h-1.35zM124.29 267.59h1.35v1.35h-1.35zM127.7 267.59h1.35v1.35h-1.35zM131.1 267.59h1.35v1.35h-1.35zM134.5 267.59h1.35v1.35h-1.35zM137.91 267.59h1.35v1.35h-1.35zM141.31 267.59h1.35v1.35h-1.35zM144.71 267.59h1.35v1.35h-1.35zM148.12 267.59h1.35v1.35h-1.35zM151.52 267.59h1.35v1.35h-1.35zM154.92 267.59h1.35v1.35h-1.35zM18.77 264.2h1.35v1.35h-1.35zM22.18 264.2h1.35v1.35h-1.35zM25.58 264.2h1.35v1.35h-1.35zM28.99 264.2h1.35v1.35h-1.35zM32.39 264.2h1.35v1.35h-1.35zM35.79 264.2h1.35v1.35h-1.35zM39.2 264.2h1.35v1.35h-1.35zM42.6 264.2h1.35v1.35h-1.35zM46.01 264.2h1.35v1.35h-1.35zM49.41 264.2h1.35v1.35h-1.35zM52.81 264.2h1.35v1.35h-1.35zM56.22 264.2h1.35v1.35h-1.35zM59.62 264.2h1.35v1.35h-1.35zM63.02 264.2h1.35v1.35h-1.35zM66.43 264.2h1.35v1.35h-1.35zM69.83 264.2h1.35v1.35h-1.35zM73.23 264.2h1.35v1.35h-1.35zM76.64 264.2h1.35v1.35h-1.35zM80.04 264.2h1.35v1.35h-1.35zM83.45 264.2h1.35v1.35h-1.35zM86.85 264.2h1.35v1.35h-1.35zM90.25 264.2h1.35v1.35h-1.35zM93.66 264.2h1.35v1.35h-1.35zM97.06 264.2h1.35v1.35h-1.35zM100.47 264.2h1.35v1.35h-1.35zM103.87 264.2h1.35v1.35h-1.35zM107.27 264.2h1.35v1.35h-1.35zM110.68 264.2h1.35v1.35h-1.35zM114.08 264.2h1.35v1.35h-1.35zM117.48 264.2h1.35v1.35h-1.35zM120.89 264.2h1.35v1.35h-1.35zM124.29 264.2h1.35v1.35h-1.35zM127.7 264.2h1.35v1.35h-1.35zM131.1 264.2h1.35v1.35h-1.35zM134.5 264.2h1.35v1.35h-1.35zM137.91 264.2h1.35v1.35h-1.35zM141.31 264.2h1.35v1.35h-1.35zM144.71 264.2h1.35v1.35h-1.35zM148.12 264.2h1.35v1.35h-1.35zM151.52 264.2h1.35v1.35h-1.35zM154.92 264.2h1.35v1.35h-1.35zM18.77 260.81h1.35v1.35h-1.35zM22.18 260.81h1.35v1.35h-1.35zM25.58 260.81h1.35v1.35h-1.35zM28.99 260.81h1.35v1.35h-1.35zM32.39 260.81h1.35v1.35h-1.35zM35.79 260.81h1.35v1.35h-1.35zM39.2 260.81h1.35v1.35h-1.35zM42.6 260.81h1.35v1.35h-1.35zM46.01 260.81h1.35v1.35h-1.35zM49.41 260.81h1.35v1.35h-1.35zM52.81 260.81h1.35v1.35h-1.35zM56.22 260.81h1.35v1.35h-1.35zM59.62 260.81h1.35v1.35h-1.35zM63.02 260.81h1.35v1.35h-1.35zM66.43 260.81h1.35v1.35h-1.35zM69.83 260.81h1.35v1.35h-1.35zM73.23 260.81h1.35v1.35h-1.35zM76.64 260.81h1.35v1.35h-1.35zM80.04 260.81h1.35v1.35h-1.35zM83.45 260.81h1.35v1.35h-1.35zM86.85 260.81h1.35v1.35h-1.35zM90.25 260.81h1.35v1.35h-1.35zM93.66 260.81h1.35v1.35h-1.35zM97.06 260.81h1.35v1.35h-1.35zM100.47 260.81h1.35v1.35h-1.35zM103.87 260.81h1.35v1.35h-1.35zM107.27 260.81h1.35v1.35h-1.35zM110.68 260.81h1.35v1.35h-1.35zM114.08 260.81h1.35v1.35h-1.35zM117.48 260.81h1.35v1.35h-1.35zM120.89 260.81h1.35v1.35h-1.35zM124.29 260.81h1.35v1.35h-1.35zM127.7 260.81h1.35v1.35h-1.35zM131.1 260.81h1.35v1.35h-1.35zM134.5 260.81h1.35v1.35h-1.35zM137.91 260.81h1.35v1.35h-1.35zM141.31 260.81h1.35v1.35h-1.35zM144.71 260.81h1.35v1.35h-1.35zM148.12 260.81h1.35v1.35h-1.35zM151.52 260.81h1.35v1.35h-1.35zM154.92 260.81h1.35v1.35h-1.35zM18.77 257.43h1.35v1.35h-1.35zM22.18 257.43h1.35v1.35h-1.35zM25.58 257.43h1.35v1.35h-1.35zM28.99 257.43h1.35v1.35h-1.35zM32.39 257.43h1.35v1.35h-1.35zM35.79 257.43h1.35v1.35h-1.35zM39.2 257.43h1.35v1.35h-1.35zM42.6 257.43h1.35v1.35h-1.35zM46.01 257.43h1.35v1.35h-1.35zM49.41 257.43h1.35v1.35h-1.35zM52.81 257.43h1.35v1.35h-1.35zM56.22 257.43h1.35v1.35h-1.35zM59.62 257.43h1.35v1.35h-1.35zM63.02 257.43h1.35v1.35h-1.35zM66.43 257.43h1.35v1.35h-1.35zM69.83 257.43h1.35v1.35h-1.35zM73.23 257.43h1.35v1.35h-1.35zM76.64 257.43h1.35v1.35h-1.35zM80.04 257.43h1.35v1.35h-1.35zM83.45 257.43h1.35v1.35h-1.35zM86.85 257.43h1.35v1.35h-1.35zM90.25 257.43h1.35v1.35h-1.35zM93.66 257.43h1.35v1.35h-1.35zM97.06 257.43h1.35v1.35h-1.35zM100.47 257.43h1.35v1.35h-1.35zM103.87 257.43h1.35v1.35h-1.35zM107.27 257.43h1.35v1.35h-1.35zM110.68 257.43h1.35v1.35h-1.35zM114.08 257.43h1.35v1.35h-1.35zM117.48 257.43h1.35v1.35h-1.35zM120.89 257.43h1.35v1.35h-1.35zM124.29 257.43h1.35v1.35h-1.35zM127.7 257.43h1.35v1.35h-1.35zM131.1 257.43h1.35v1.35h-1.35zM134.5 257.43h1.35v1.35h-1.35zM137.91 257.43h1.35v1.35h-1.35zM141.31 257.43h1.35v1.35h-1.35zM144.71 257.43h1.35v1.35h-1.35zM148.12 257.43h1.35v1.35h-1.35zM151.52 257.43h1.35v1.35h-1.35zM154.92 257.43h1.35v1.35h-1.35zM18.77 254.03h1.35v1.35h-1.35zM22.18 254.03h1.35v1.35h-1.35zM25.58 254.03h1.35v1.35h-1.35zM28.99 254.03h1.35v1.35h-1.35zM32.39 254.03h1.35v1.35h-1.35zM35.79 254.03h1.35v1.35h-1.35zM39.2 254.03h1.35v1.35h-1.35zM42.6 254.03h1.35v1.35h-1.35zM46.01 254.03h1.35v1.35h-1.35zM49.41 254.03h1.35v1.35h-1.35zM52.81 254.03h1.35v1.35h-1.35zM56.22 254.03h1.35v1.35h-1.35zM59.62 254.03h1.35v1.35h-1.35zM63.02 254.03h1.35v1.35h-1.35zM66.43 254.03h1.35v1.35h-1.35zM69.83 254.03h1.35v1.35h-1.35zM73.23 254.03h1.35v1.35h-1.35zM76.64 254.03h1.35v1.35h-1.35zM80.04 254.03h1.35v1.35h-1.35zM83.45 254.03h1.35v1.35h-1.35zM86.85 254.03h1.35v1.35h-1.35zM90.25 254.03h1.35v1.35h-1.35zM93.66 254.03h1.35v1.35h-1.35zM97.06 254.03h1.35v1.35h-1.35zM100.47 254.03h1.35v1.35h-1.35zM103.87 254.03h1.35v1.35h-1.35zM107.27 254.03h1.35v1.35h-1.35zM110.68 254.03h1.35v1.35h-1.35zM114.08 254.03h1.35v1.35h-1.35zM117.48 254.03h1.35v1.35h-1.35zM120.89 254.03h1.35v1.35h-1.35zM124.29 254.03h1.35v1.35h-1.35zM127.7 254.03h1.35v1.35h-1.35zM131.1 254.03h1.35v1.35h-1.35zM134.5 254.03h1.35v1.35h-1.35zM137.91 254.03h1.35v1.35h-1.35zM141.31 254.03h1.35v1.35h-1.35zM144.71 254.03h1.35v1.35h-1.35zM148.12 254.03h1.35v1.35h-1.35zM151.52 254.03h1.35v1.35h-1.35zM154.92 254.03h1.35v1.35h-1.35zM18.77 250.64h1.35v1.35h-1.35zM22.18 250.64h1.35v1.35h-1.35zM25.58 250.64h1.35v1.35h-1.35zM28.99 250.64h1.35v1.35h-1.35zM32.39 250.64h1.35v1.35h-1.35zM35.79 250.64h1.35v1.35h-1.35zM39.2 250.64h1.35v1.35h-1.35zM42.6 250.64h1.35v1.35h-1.35zM46.01 250.64h1.35v1.35h-1.35zM49.41 250.64h1.35v1.35h-1.35zM52.81 250.64h1.35v1.35h-1.35zM56.22 250.64h1.35v1.35h-1.35zM59.62 250.64h1.35v1.35h-1.35zM63.02 250.64h1.35v1.35h-1.35zM66.43 250.64h1.35v1.35h-1.35zM69.83 250.64h1.35v1.35h-1.35zM73.23 250.64h1.35v1.35h-1.35zM76.64 250.64h1.35v1.35h-1.35zM80.04 250.64h1.35v1.35h-1.35zM83.45 250.64h1.35v1.35h-1.35zM86.85 250.64h1.35v1.35h-1.35zM90.25 250.64h1.35v1.35h-1.35zM93.66 250.64h1.35v1.35h-1.35zM97.06 250.64h1.35v1.35h-1.35zM100.47 250.64h1.35v1.35h-1.35zM103.87 250.64h1.35v1.35h-1.35zM107.27 250.64h1.35v1.35h-1.35zM110.68 250.64h1.35v1.35h-1.35zM114.08 250.64h1.35v1.35h-1.35zM117.48 250.64h1.35v1.35h-1.35zM120.89 250.64h1.35v1.35h-1.35zM124.29 250.64h1.35v1.35h-1.35zM127.7 250.64h1.35v1.35h-1.35zM131.1 250.64h1.35v1.35h-1.35zM134.5 250.64h1.35v1.35h-1.35zM137.91 250.64h1.35v1.35h-1.35zM141.31 250.64h1.35v1.35h-1.35zM144.71 250.64h1.35v1.35h-1.35zM148.12 250.64h1.35v1.35h-1.35zM151.52 250.64h1.35v1.35h-1.35zM154.92 250.64h1.35v1.35h-1.35zM18.77 247.25h1.35v1.35h-1.35zM22.18 247.25h1.35v1.35h-1.35zM25.58 247.25h1.35v1.35h-1.35zM28.99 247.25h1.35v1.35h-1.35zM32.39 247.25h1.35v1.35h-1.35zM35.79 247.25h1.35v1.35h-1.35zM39.2 247.25h1.35v1.35h-1.35zM42.6 247.25h1.35v1.35h-1.35zM46.01 247.25h1.35v1.35h-1.35zM49.41 247.25h1.35v1.35h-1.35zM52.81 247.25h1.35v1.35h-1.35zM56.22 247.25h1.35v1.35h-1.35zM59.62 247.25h1.35v1.35h-1.35zM63.02 247.25h1.35v1.35h-1.35zM66.43 247.25h1.35v1.35h-1.35zM69.83 247.25h1.35v1.35h-1.35zM73.23 247.25h1.35v1.35h-1.35zM76.64 247.25h1.35v1.35h-1.35zM80.04 247.25h1.35v1.35h-1.35zM83.45 247.25h1.35v1.35h-1.35zM86.85 247.25h1.35v1.35h-1.35zM90.25 247.25h1.35v1.35h-1.35zM93.66 247.25h1.35v1.35h-1.35zM97.06 247.25h1.35v1.35h-1.35zM100.47 247.25h1.35v1.35h-1.35zM103.87 247.25h1.35v1.35h-1.35zM107.27 247.25h1.35v1.35h-1.35zM110.68 247.25h1.35v1.35h-1.35zM114.08 247.25h1.35v1.35h-1.35zM117.48 247.25h1.35v1.35h-1.35zM120.89 247.25h1.35v1.35h-1.35zM124.29 247.25h1.35v1.35h-1.35zM127.7 247.25h1.35v1.35h-1.35zM131.1 247.25h1.35v1.35h-1.35zM134.5 247.25h1.35v1.35h-1.35zM137.91 247.25h1.35v1.35h-1.35zM141.31 247.25h1.35v1.35h-1.35zM144.71 247.25h1.35v1.35h-1.35zM148.12 247.25h1.35v1.35h-1.35zM151.52 247.25h1.35v1.35h-1.35zM154.92 247.25h1.35v1.35h-1.35zM18.77 243.86h1.35v1.35h-1.35zM22.18 243.86h1.35v1.35h-1.35zM25.58 243.86h1.35v1.35h-1.35zM28.99 243.86h1.35v1.35h-1.35zM32.39 243.86h1.35v1.35h-1.35zM35.79 243.86h1.35v1.35h-1.35zM39.2 243.86h1.35v1.35h-1.35zM42.6 243.86h1.35v1.35h-1.35zM46.01 243.86h1.35v1.35h-1.35zM49.41 243.86h1.35v1.35h-1.35zM52.81 243.86h1.35v1.35h-1.35zM56.22 243.86h1.35v1.35h-1.35zM59.62 243.86h1.35v1.35h-1.35zM63.02 243.86h1.35v1.35h-1.35zM66.43 243.86h1.35v1.35h-1.35zM69.83 243.86h1.35v1.35h-1.35zM73.23 243.86h1.35v1.35h-1.35zM76.64 243.86h1.35v1.35h-1.35zM80.04 243.86h1.35v1.35h-1.35zM83.45 243.86h1.35v1.35h-1.35zM86.85 243.86h1.35v1.35h-1.35zM90.25 243.86h1.35v1.35h-1.35zM93.66 243.86h1.35v1.35h-1.35zM97.06 243.86h1.35v1.35h-1.35zM100.47 243.86h1.35v1.35h-1.35zM103.87 243.86h1.35v1.35h-1.35zM107.27 243.86h1.35v1.35h-1.35zM110.68 243.86h1.35v1.35h-1.35zM114.08 243.86h1.35v1.35h-1.35zM117.48 243.86h1.35v1.35h-1.35zM120.89 243.86h1.35v1.35h-1.35zM124.29 243.86h1.35v1.35h-1.35zM127.7 243.86h1.35v1.35h-1.35zM131.1 243.86h1.35v1.35h-1.35zM134.5 243.86h1.35v1.35h-1.35zM137.91 243.86h1.35v1.35h-1.35zM141.31 243.86h1.35v1.35h-1.35zM144.71 243.86h1.35v1.35h-1.35zM148.12 243.86h1.35v1.35h-1.35zM151.52 243.86h1.35v1.35h-1.35zM154.92 243.86h1.35v1.35h-1.35zM18.77 240.47h1.35v1.35h-1.35zM22.18 240.47h1.35v1.35h-1.35zM25.58 240.47h1.35v1.35h-1.35zM28.99 240.47h1.35v1.35h-1.35zM32.39 240.47h1.35v1.35h-1.35zM35.79 240.47h1.35v1.35h-1.35zM39.2 240.47h1.35v1.35h-1.35zM42.6 240.47h1.35v1.35h-1.35zM46.01 240.47h1.35v1.35h-1.35zM49.41 240.47h1.35v1.35h-1.35zM52.81 240.47h1.35v1.35h-1.35zM56.22 240.47h1.35v1.35h-1.35zM59.62 240.47h1.35v1.35h-1.35zM63.02 240.47h1.35v1.35h-1.35zM66.43 240.47h1.35v1.35h-1.35zM69.83 240.47h1.35v1.35h-1.35zM73.23 240.47h1.35v1.35h-1.35zM76.64 240.47h1.35v1.35h-1.35zM80.04 240.47h1.35v1.35h-1.35zM83.45 240.47h1.35v1.35h-1.35zM86.85 240.47h1.35v1.35h-1.35zM90.25 240.47h1.35v1.35h-1.35zM93.66 240.47h1.35v1.35h-1.35zM97.06 240.47h1.35v1.35h-1.35zM100.47 240.47h1.35v1.35h-1.35zM103.87 240.47h1.35v1.35h-1.35zM107.27 240.47h1.35v1.35h-1.35zM110.68 240.47h1.35v1.35h-1.35zM114.08 240.47h1.35v1.35h-1.35zM117.48 240.47h1.35v1.35h-1.35zM120.89 240.47h1.35v1.35h-1.35zM124.29 240.47h1.35v1.35h-1.35zM127.7 240.47h1.35v1.35h-1.35zM131.1 240.47h1.35v1.35h-1.35zM134.5 240.47h1.35v1.35h-1.35zM137.91 240.47h1.35v1.35h-1.35zM141.31 240.47h1.35v1.35h-1.35zM144.71 240.47h1.35v1.35h-1.35zM148.12 240.47h1.35v1.35h-1.35zM151.52 240.47h1.35v1.35h-1.35zM154.92 240.47h1.35v1.35h-1.35zM18.77 237.08h1.35v1.35h-1.35zM22.18 237.08h1.35v1.35h-1.35zM25.58 237.08h1.35v1.35h-1.35zM28.99 237.08h1.35v1.35h-1.35zM32.39 237.08h1.35v1.35h-1.35zM35.79 237.08h1.35v1.35h-1.35zM39.2 237.08h1.35v1.35h-1.35zM42.6 237.08h1.35v1.35h-1.35zM46.01 237.08h1.35v1.35h-1.35zM49.41 237.08h1.35v1.35h-1.35zM52.81 237.08h1.35v1.35h-1.35zM56.22 237.08h1.35v1.35h-1.35zM59.62 237.08h1.35v1.35h-1.35zM63.02 237.08h1.35v1.35h-1.35zM66.43 237.08h1.35v1.35h-1.35zM69.83 237.08h1.35v1.35h-1.35zM73.23 237.08h1.35v1.35h-1.35zM76.64 237.08h1.35v1.35h-1.35zM80.04 237.08h1.35v1.35h-1.35zM83.45 237.08h1.35v1.35h-1.35zM86.85 237.08h1.35v1.35h-1.35zM90.25 237.08h1.35v1.35h-1.35zM93.66 237.08h1.35v1.35h-1.35zM97.06 237.08h1.35v1.35h-1.35zM100.47 237.08h1.35v1.35h-1.35zM103.87 237.08h1.35v1.35h-1.35zM107.27 237.08h1.35v1.35h-1.35zM110.68 237.08h1.35v1.35h-1.35zM114.08 237.08h1.35v1.35h-1.35zM117.48 237.08h1.35v1.35h-1.35zM120.89 237.08h1.35v1.35h-1.35zM124.29 237.08h1.35v1.35h-1.35zM127.7 237.08h1.35v1.35h-1.35zM131.1 237.08h1.35v1.35h-1.35zM134.5 237.08h1.35v1.35h-1.35zM137.91 237.08h1.35v1.35h-1.35zM141.31 237.08h1.35v1.35h-1.35zM144.71 237.08h1.35v1.35h-1.35zM148.12 237.08h1.35v1.35h-1.35zM151.52 237.08h1.35v1.35h-1.35zM154.92 237.08h1.35v1.35h-1.35zM18.77 233.69h1.35v1.35h-1.35zM22.18 233.69h1.35v1.35h-1.35zM25.58 233.69h1.35v1.35h-1.35zM28.99 233.69h1.35v1.35h-1.35zM32.39 233.69h1.35v1.35h-1.35zM35.79 233.69h1.35v1.35h-1.35zM39.2 233.69h1.35v1.35h-1.35zM42.6 233.69h1.35v1.35h-1.35zM46.01 233.69h1.35v1.35h-1.35zM49.41 233.69h1.35v1.35h-1.35zM52.81 233.69h1.35v1.35h-1.35zM56.22 233.69h1.35v1.35h-1.35zM59.62 233.69h1.35v1.35h-1.35zM63.02 233.69h1.35v1.35h-1.35zM66.43 233.69h1.35v1.35h-1.35zM69.83 233.69h1.35v1.35h-1.35zM73.23 233.69h1.35v1.35h-1.35zM76.64 233.69h1.35v1.35h-1.35zM80.04 233.69h1.35v1.35h-1.35zM83.45 233.69h1.35v1.35h-1.35zM86.85 233.69h1.35v1.35h-1.35zM90.25 233.69h1.35v1.35h-1.35zM93.66 233.69h1.35v1.35h-1.35zM97.06 233.69h1.35v1.35h-1.35zM100.47 233.69h1.35v1.35h-1.35zM103.87 233.69h1.35v1.35h-1.35zM107.27 233.69h1.35v1.35h-1.35zM110.68 233.69h1.35v1.35h-1.35zM114.08 233.69h1.35v1.35h-1.35zM117.48 233.69h1.35v1.35h-1.35zM120.89 233.69h1.35v1.35h-1.35zM124.29 233.69h1.35v1.35h-1.35zM127.7 233.69h1.35v1.35h-1.35zM131.1 233.69h1.35v1.35h-1.35zM134.5 233.69h1.35v1.35h-1.35zM137.91 233.69h1.35v1.35h-1.35zM141.31 233.69h1.35v1.35h-1.35zM144.71 233.69h1.35v1.35h-1.35zM148.12 233.69h1.35v1.35h-1.35zM151.52 233.69h1.35v1.35h-1.35zM154.92 233.69h1.35v1.35h-1.35zM18.77 230.3h1.35v1.35h-1.35zM22.18 230.3h1.35v1.35h-1.35zM25.58 230.3h1.35v1.35h-1.35zM28.99 230.3h1.35v1.35h-1.35zM32.39 230.3h1.35v1.35h-1.35zM35.79 230.3h1.35v1.35h-1.35zM39.2 230.3h1.35v1.35h-1.35zM42.6 230.3h1.35v1.35h-1.35zM46.01 230.3h1.35v1.35h-1.35zM49.41 230.3h1.35v1.35h-1.35zM52.81 230.3h1.35v1.35h-1.35zM56.22 230.3h1.35v1.35h-1.35zM59.62 230.3h1.35v1.35h-1.35zM63.02 230.3h1.35v1.35h-1.35zM66.43 230.3h1.35v1.35h-1.35zM69.83 230.3h1.35v1.35h-1.35zM73.23 230.3h1.35v1.35h-1.35zM76.64 230.3h1.35v1.35h-1.35zM80.04 230.3h1.35v1.35h-1.35zM83.45 230.3h1.35v1.35h-1.35zM86.85 230.3h1.35v1.35h-1.35zM90.25 230.3h1.35v1.35h-1.35zM93.66 230.3h1.35v1.35h-1.35zM97.06 230.3h1.35v1.35h-1.35zM100.47 230.3h1.35v1.35h-1.35zM103.87 230.3h1.35v1.35h-1.35zM107.27 230.3h1.35v1.35h-1.35zM110.68 230.3h1.35v1.35h-1.35zM114.08 230.3h1.35v1.35h-1.35zM117.48 230.3h1.35v1.35h-1.35zM120.89 230.3h1.35v1.35h-1.35zM124.29 230.3h1.35v1.35h-1.35zM127.7 230.3h1.35v1.35h-1.35zM131.1 230.3h1.35v1.35h-1.35zM134.5 230.3h1.35v1.35h-1.35zM137.91 230.3h1.35v1.35h-1.35zM141.31 230.3h1.35v1.35h-1.35zM144.71 230.3h1.35v1.35h-1.35zM148.12 230.3h1.35v1.35h-1.35zM151.52 230.3h1.35v1.35h-1.35zM154.92 230.3h1.35v1.35h-1.35zM18.77 226.91h1.35v1.35h-1.35zM22.18 226.91h1.35v1.35h-1.35zM25.58 226.91h1.35v1.35h-1.35zM28.99 226.91h1.35v1.35h-1.35zM32.39 226.91h1.35v1.35h-1.35zM35.79 226.91h1.35v1.35h-1.35zM39.2 226.91h1.35v1.35h-1.35zM42.6 226.91h1.35v1.35h-1.35zM46.01 226.91h1.35v1.35h-1.35zM49.41 226.91h1.35v1.35h-1.35zM52.81 226.91h1.35v1.35h-1.35zM56.22 226.91h1.35v1.35h-1.35zM59.62 226.91h1.35v1.35h-1.35zM63.02 226.91h1.35v1.35h-1.35zM66.43 226.91h1.35v1.35h-1.35zM69.83 226.91h1.35v1.35h-1.35zM73.23 226.91h1.35v1.35h-1.35zM76.64 226.91h1.35v1.35h-1.35zM80.04 226.91h1.35v1.35h-1.35zM83.45 226.91h1.35v1.35h-1.35zM86.85 226.91h1.35v1.35h-1.35zM90.25 226.91h1.35v1.35h-1.35zM93.66 226.91h1.35v1.35h-1.35zM97.06 226.91h1.35v1.35h-1.35zM100.47 226.91h1.35v1.35h-1.35zM103.87 226.91h1.35v1.35h-1.35zM107.27 226.91h1.35v1.35h-1.35zM110.68 226.91h1.35v1.35h-1.35zM114.08 226.91h1.35v1.35h-1.35zM117.48 226.91h1.35v1.35h-1.35zM120.89 226.91h1.35v1.35h-1.35zM124.29 226.91h1.35v1.35h-1.35zM127.7 226.91h1.35v1.35h-1.35zM131.1 226.91h1.35v1.35h-1.35zM134.5 226.91h1.35v1.35h-1.35zM137.91 226.91h1.35v1.35h-1.35zM141.31 226.91h1.35v1.35h-1.35zM144.71 226.91h1.35v1.35h-1.35zM148.12 226.91h1.35v1.35h-1.35zM151.52 226.91h1.35v1.35h-1.35zM154.92 226.91h1.35v1.35h-1.35zM18.77 223.52h1.35v1.35h-1.35zM22.18 223.52h1.35v1.35h-1.35zM25.58 223.52h1.35v1.35h-1.35zM28.99 223.52h1.35v1.35h-1.35zM32.39 223.52h1.35v1.35h-1.35zM35.79 223.52h1.35v1.35h-1.35zM39.2 223.52h1.35v1.35h-1.35zM42.6 223.52h1.35v1.35h-1.35zM46.01 223.52h1.35v1.35h-1.35zM49.41 223.52h1.35v1.35h-1.35zM52.81 223.52h1.35v1.35h-1.35zM56.22 223.52h1.35v1.35h-1.35zM59.62 223.52h1.35v1.35h-1.35zM63.02 223.52h1.35v1.35h-1.35zM66.43 223.52h1.35v1.35h-1.35zM69.83 223.52h1.35v1.35h-1.35zM73.23 223.52h1.35v1.35h-1.35zM76.64 223.52h1.35v1.35h-1.35zM80.04 223.52h1.35v1.35h-1.35zM83.45 223.52h1.35v1.35h-1.35zM86.85 223.52h1.35v1.35h-1.35zM90.25 223.52h1.35v1.35h-1.35zM93.66 223.52h1.35v1.35h-1.35zM97.06 223.52h1.35v1.35h-1.35zM100.47 223.52h1.35v1.35h-1.35zM103.87 223.52h1.35v1.35h-1.35zM107.27 223.52h1.35v1.35h-1.35zM110.68 223.52h1.35v1.35h-1.35zM114.08 223.52h1.35v1.35h-1.35zM117.48 223.52h1.35v1.35h-1.35zM120.89 223.52h1.35v1.35h-1.35zM124.29 223.52h1.35v1.35h-1.35zM127.7 223.52h1.35v1.35h-1.35zM131.1 223.52h1.35v1.35h-1.35zM134.5 223.52h1.35v1.35h-1.35zM137.91 223.52h1.35v1.35h-1.35zM141.31 223.52h1.35v1.35h-1.35zM144.71 223.52h1.35v1.35h-1.35zM148.12 223.52h1.35v1.35h-1.35zM151.52 223.52h1.35v1.35h-1.35zM154.92 223.52h1.35v1.35h-1.35zM18.77 220.13h1.35v1.35h-1.35zM22.18 220.13h1.35v1.35h-1.35zM25.58 220.13h1.35v1.35h-1.35zM28.99 220.13h1.35v1.35h-1.35zM32.39 220.13h1.35v1.35h-1.35zM35.79 220.13h1.35v1.35h-1.35zM39.2 220.13h1.35v1.35h-1.35zM42.6 220.13h1.35v1.35h-1.35zM46.01 220.13h1.35v1.35h-1.35zM49.41 220.13h1.35v1.35h-1.35zM52.81 220.13h1.35v1.35h-1.35zM56.22 220.13h1.35v1.35h-1.35zM59.62 220.13h1.35v1.35h-1.35zM63.02 220.13h1.35v1.35h-1.35zM66.43 220.13h1.35v1.35h-1.35zM69.83 220.13h1.35v1.35h-1.35zM73.23 220.13h1.35v1.35h-1.35zM76.64 220.13h1.35v1.35h-1.35zM80.04 220.13h1.35v1.35h-1.35zM83.45 220.13h1.35v1.35h-1.35zM86.85 220.13h1.35v1.35h-1.35zM90.25 220.13h1.35v1.35h-1.35zM93.66 220.13h1.35v1.35h-1.35zM97.06 220.13h1.35v1.35h-1.35zM100.47 220.13h1.35v1.35h-1.35zM103.87 220.13h1.35v1.35h-1.35zM107.27 220.13h1.35v1.35h-1.35zM110.68 220.13h1.35v1.35h-1.35zM114.08 220.13h1.35v1.35h-1.35zM117.48 220.13h1.35v1.35h-1.35zM120.89 220.13h1.35v1.35h-1.35zM124.29 220.13h1.35v1.35h-1.35zM127.7 220.13h1.35v1.35h-1.35zM131.1 220.13h1.35v1.35h-1.35zM134.5 220.13h1.35v1.35h-1.35zM137.91 220.13h1.35v1.35h-1.35zM141.31 220.13h1.35v1.35h-1.35zM144.71 220.13h1.35v1.35h-1.35zM148.12 220.13h1.35v1.35h-1.35zM151.52 220.13h1.35v1.35h-1.35zM154.92 220.13h1.35v1.35h-1.35zM18.77 216.75h1.35v1.35h-1.35zM22.18 216.75h1.35v1.35h-1.35zM25.58 216.75h1.35v1.35h-1.35zM28.99 216.75h1.35v1.35h-1.35zM32.39 216.75h1.35v1.35h-1.35zM35.79 216.75h1.35v1.35h-1.35zM39.2 216.75h1.35v1.35h-1.35zM42.6 216.75h1.35v1.35h-1.35zM46.01 216.75h1.35v1.35h-1.35zM49.41 216.75h1.35v1.35h-1.35zM52.81 216.75h1.35v1.35h-1.35zM56.22 216.75h1.35v1.35h-1.35zM59.62 216.75h1.35v1.35h-1.35zM63.02 216.75h1.35v1.35h-1.35zM66.43 216.75h1.35v1.35h-1.35zM69.83 216.75h1.35v1.35h-1.35zM73.23 216.75h1.35v1.35h-1.35zM76.64 216.75h1.35v1.35h-1.35zM80.04 216.75h1.35v1.35h-1.35zM83.45 216.75h1.35v1.35h-1.35zM86.85 216.75h1.35v1.35h-1.35zM90.25 216.75h1.35v1.35h-1.35zM93.66 216.75h1.35v1.35h-1.35zM97.06 216.75h1.35v1.35h-1.35zM100.47 216.75h1.35v1.35h-1.35zM103.87 216.75h1.35v1.35h-1.35zM107.27 216.75h1.35v1.35h-1.35zM110.68 216.75h1.35v1.35h-1.35zM114.08 216.75h1.35v1.35h-1.35zM117.48 216.75h1.35v1.35h-1.35zM120.89 216.75h1.35v1.35h-1.35zM124.29 216.75h1.35v1.35h-1.35zM127.7 216.75h1.35v1.35h-1.35zM131.1 216.75h1.35v1.35h-1.35zM134.5 216.75h1.35v1.35h-1.35zM137.91 216.75h1.35v1.35h-1.35zM141.31 216.75h1.35v1.35h-1.35zM144.71 216.75h1.35v1.35h-1.35zM148.12 216.75h1.35v1.35h-1.35zM151.52 216.75h1.35v1.35h-1.35zM154.92 216.75h1.35v1.35h-1.35zM18.77 213.35h1.35v1.35h-1.35zM22.18 213.35h1.35v1.35h-1.35zM25.58 213.35h1.35v1.35h-1.35zM28.99 213.35h1.35v1.35h-1.35zM32.39 213.35h1.35v1.35h-1.35zM35.79 213.35h1.35v1.35h-1.35zM39.2 213.35h1.35v1.35h-1.35zM42.6 213.35h1.35v1.35h-1.35zM46.01 213.35h1.35v1.35h-1.35zM49.41 213.35h1.35v1.35h-1.35zM52.81 213.35h1.35v1.35h-1.35zM56.22 213.35h1.35v1.35h-1.35zM59.62 213.35h1.35v1.35h-1.35zM63.02 213.35h1.35v1.35h-1.35zM66.43 213.35h1.35v1.35h-1.35zM69.83 213.35h1.35v1.35h-1.35zM73.23 213.35h1.35v1.35h-1.35zM76.64 213.35h1.35v1.35h-1.35zM80.04 213.35h1.35v1.35h-1.35zM83.45 213.35h1.35v1.35h-1.35zM86.85 213.35h1.35v1.35h-1.35zM90.25 213.35h1.35v1.35h-1.35zM93.66 213.35h1.35v1.35h-1.35zM97.06 213.35h1.35v1.35h-1.35zM100.47 213.35h1.35v1.35h-1.35zM103.87 213.35h1.35v1.35h-1.35zM107.27 213.35h1.35v1.35h-1.35zM110.68 213.35h1.35v1.35h-1.35zM114.08 213.35h1.35v1.35h-1.35zM117.48 213.35h1.35v1.35h-1.35zM120.89 213.35h1.35v1.35h-1.35zM124.29 213.35h1.35v1.35h-1.35zM127.7 213.35h1.35v1.35h-1.35zM131.1 213.35h1.35v1.35h-1.35zM134.5 213.35h1.35v1.35h-1.35zM137.91 213.35h1.35v1.35h-1.35zM141.31 213.35h1.35v1.35h-1.35zM144.71 213.35h1.35v1.35h-1.35zM148.12 213.35h1.35v1.35h-1.35zM151.52 213.35h1.35v1.35h-1.35zM154.92 213.35h1.35v1.35h-1.35zM18.77 209.97h1.35v1.35h-1.35zM22.18 209.97h1.35v1.35h-1.35zM25.58 209.97h1.35v1.35h-1.35zM28.99 209.97h1.35v1.35h-1.35zM32.39 209.97h1.35v1.35h-1.35zM35.79 209.97h1.35v1.35h-1.35zM39.2 209.97h1.35v1.35h-1.35zM42.6 209.97h1.35v1.35h-1.35zM46.01 209.97h1.35v1.35h-1.35zM49.41 209.97h1.35v1.35h-1.35zM52.81 209.97h1.35v1.35h-1.35zM56.22 209.97h1.35v1.35h-1.35zM59.62 209.97h1.35v1.35h-1.35zM63.02 209.97h1.35v1.35h-1.35zM66.43 209.97h1.35v1.35h-1.35zM69.83 209.97h1.35v1.35h-1.35zM73.23 209.97h1.35v1.35h-1.35zM76.64 209.97h1.35v1.35h-1.35zM80.04 209.97h1.35v1.35h-1.35zM83.45 209.97h1.35v1.35h-1.35zM86.85 209.97h1.35v1.35h-1.35zM90.25 209.97h1.35v1.35h-1.35zM93.66 209.97h1.35v1.35h-1.35zM97.06 209.97h1.35v1.35h-1.35zM100.47 209.97h1.35v1.35h-1.35zM103.87 209.97h1.35v1.35h-1.35zM107.27 209.97h1.35v1.35h-1.35zM110.68 209.97h1.35v1.35h-1.35zM114.08 209.97h1.35v1.35h-1.35zM117.48 209.97h1.35v1.35h-1.35zM120.89 209.97h1.35v1.35h-1.35zM124.29 209.97h1.35v1.35h-1.35zM127.7 209.97h1.35v1.35h-1.35zM131.1 209.97h1.35v1.35h-1.35zM134.5 209.97h1.35v1.35h-1.35zM137.91 209.97h1.35v1.35h-1.35zM141.31 209.97h1.35v1.35h-1.35zM144.71 209.97h1.35v1.35h-1.35zM148.12 209.97h1.35v1.35h-1.35zM151.52 209.97h1.35v1.35h-1.35zM154.92 209.97h1.35v1.35h-1.35zM18.77 206.57h1.35v1.35h-1.35zM22.18 206.57h1.35v1.35h-1.35zM25.58 206.57h1.35v1.35h-1.35zM28.99 206.57h1.35v1.35h-1.35zM32.39 206.57h1.35v1.35h-1.35zM35.79 206.57h1.35v1.35h-1.35zM39.2 206.57h1.35v1.35h-1.35zM42.6 206.57h1.35v1.35h-1.35zM46.01 206.57h1.35v1.35h-1.35zM49.41 206.57h1.35v1.35h-1.35zM52.81 206.57h1.35v1.35h-1.35zM56.22 206.57h1.35v1.35h-1.35zM59.62 206.57h1.35v1.35h-1.35zM63.02 206.57h1.35v1.35h-1.35zM66.43 206.57h1.35v1.35h-1.35zM69.83 206.57h1.35v1.35h-1.35zM73.23 206.57h1.35v1.35h-1.35zM76.64 206.57h1.35v1.35h-1.35zM80.04 206.57h1.35v1.35h-1.35zM83.45 206.57h1.35v1.35h-1.35zM86.85 206.57h1.35v1.35h-1.35zM90.25 206.57h1.35v1.35h-1.35zM93.66 206.57h1.35v1.35h-1.35zM97.06 206.57h1.35v1.35h-1.35zM100.47 206.57h1.35v1.35h-1.35zM103.87 206.57h1.35v1.35h-1.35zM107.27 206.57h1.35v1.35h-1.35zM110.68 206.57h1.35v1.35h-1.35zM114.08 206.57h1.35v1.35h-1.35zM117.48 206.57h1.35v1.35h-1.35zM120.89 206.57h1.35v1.35h-1.35zM124.29 206.57h1.35v1.35h-1.35zM127.7 206.57h1.35v1.35h-1.35zM131.1 206.57h1.35v1.35h-1.35zM134.5 206.57h1.35v1.35h-1.35zM137.91 206.57h1.35v1.35h-1.35zM141.31 206.57h1.35v1.35h-1.35zM144.71 206.57h1.35v1.35h-1.35zM148.12 206.57h1.35v1.35h-1.35zM151.52 206.57h1.35v1.35h-1.35zM154.92 206.57h1.35v1.35h-1.35zM18.77 203.19h1.35v1.35h-1.35zM22.18 203.19h1.35v1.35h-1.35zM25.58 203.19h1.35v1.35h-1.35zM28.99 203.19h1.35v1.35h-1.35zM32.39 203.19h1.35v1.35h-1.35zM35.79 203.19h1.35v1.35h-1.35zM39.2 203.19h1.35v1.35h-1.35zM42.6 203.19h1.35v1.35h-1.35zM46.01 203.19h1.35v1.35h-1.35zM49.41 203.19h1.35v1.35h-1.35zM52.81 203.19h1.35v1.35h-1.35zM56.22 203.19h1.35v1.35h-1.35zM59.62 203.19h1.35v1.35h-1.35zM63.02 203.19h1.35v1.35h-1.35zM66.43 203.19h1.35v1.35h-1.35zM69.83 203.19h1.35v1.35h-1.35zM73.23 203.19h1.35v1.35h-1.35zM76.64 203.19h1.35v1.35h-1.35zM80.04 203.19h1.35v1.35h-1.35zM83.45 203.19h1.35v1.35h-1.35zM86.85 203.19h1.35v1.35h-1.35zM90.25 203.19h1.35v1.35h-1.35zM93.66 203.19h1.35v1.35h-1.35zM97.06 203.19h1.35v1.35h-1.35zM100.47 203.19h1.35v1.35h-1.35zM103.87 203.19h1.35v1.35h-1.35zM107.27 203.19h1.35v1.35h-1.35zM110.68 203.19h1.35v1.35h-1.35zM114.08 203.19h1.35v1.35h-1.35zM117.48 203.19h1.35v1.35h-1.35zM120.89 203.19h1.35v1.35h-1.35zM124.29 203.19h1.35v1.35h-1.35zM127.7 203.19h1.35v1.35h-1.35zM131.1 203.19h1.35v1.35h-1.35zM134.5 203.19h1.35v1.35h-1.35zM137.91 203.19h1.35v1.35h-1.35zM141.31 203.19h1.35v1.35h-1.35zM144.71 203.19h1.35v1.35h-1.35zM148.12 203.19h1.35v1.35h-1.35zM151.52 203.19h1.35v1.35h-1.35zM154.92 203.19h1.35v1.35h-1.35zM18.77 199.79h1.35v1.35h-1.35zM22.18 199.79h1.35v1.35h-1.35zM25.58 199.79h1.35v1.35h-1.35zM28.99 199.79h1.35v1.35h-1.35zM32.39 199.79h1.35v1.35h-1.35zM35.79 199.79h1.35v1.35h-1.35zM39.2 199.79h1.35v1.35h-1.35zM42.6 199.79h1.35v1.35h-1.35zM46.01 199.79h1.35v1.35h-1.35zM49.41 199.79h1.35v1.35h-1.35zM52.81 199.79h1.35v1.35h-1.35zM56.22 199.79h1.35v1.35h-1.35zM59.62 199.79h1.35v1.35h-1.35zM63.02 199.79h1.35v1.35h-1.35zM66.43 199.79h1.35v1.35h-1.35zM69.83 199.79h1.35v1.35h-1.35zM73.23 199.79h1.35v1.35h-1.35zM76.64 199.79h1.35v1.35h-1.35zM80.04 199.79h1.35v1.35h-1.35zM83.45 199.79h1.35v1.35h-1.35zM86.85 199.79h1.35v1.35h-1.35zM90.25 199.79h1.35v1.35h-1.35zM93.66 199.79h1.35v1.35h-1.35zM97.06 199.79h1.35v1.35h-1.35zM100.47 199.79h1.35v1.35h-1.35zM103.87 199.79h1.35v1.35h-1.35zM107.27 199.79h1.35v1.35h-1.35zM110.68 199.79h1.35v1.35h-1.35zM114.08 199.79h1.35v1.35h-1.35zM117.48 199.79h1.35v1.35h-1.35zM120.89 199.79h1.35v1.35h-1.35zM124.29 199.79h1.35v1.35h-1.35zM127.7 199.79h1.35v1.35h-1.35zM131.1 199.79h1.35v1.35h-1.35zM134.5 199.79h1.35v1.35h-1.35zM137.91 199.79h1.35v1.35h-1.35zM141.31 199.79h1.35v1.35h-1.35zM144.71 199.79h1.35v1.35h-1.35zM148.12 199.79h1.35v1.35h-1.35zM151.52 199.79h1.35v1.35h-1.35zM154.92 199.79h1.35v1.35h-1.35zM18.77 196.41h1.35v1.35h-1.35zM22.18 196.41h1.35v1.35h-1.35zM25.58 196.41h1.35v1.35h-1.35zM28.99 196.41h1.35v1.35h-1.35zM32.39 196.41h1.35v1.35h-1.35zM35.79 196.41h1.35v1.35h-1.35zM39.2 196.41h1.35v1.35h-1.35zM42.6 196.41h1.35v1.35h-1.35zM46.01 196.41h1.35v1.35h-1.35zM49.41 196.41h1.35v1.35h-1.35zM52.81 196.41h1.35v1.35h-1.35zM56.22 196.41h1.35v1.35h-1.35zM59.62 196.41h1.35v1.35h-1.35zM63.02 196.41h1.35v1.35h-1.35zM66.43 196.41h1.35v1.35h-1.35zM69.83 196.41h1.35v1.35h-1.35zM73.23 196.41h1.35v1.35h-1.35zM76.64 196.41h1.35v1.35h-1.35zM80.04 196.41h1.35v1.35h-1.35zM83.45 196.41h1.35v1.35h-1.35zM86.85 196.41h1.35v1.35h-1.35zM90.25 196.41h1.35v1.35h-1.35zM93.66 196.41h1.35v1.35h-1.35zM97.06 196.41h1.35v1.35h-1.35zM100.47 196.41h1.35v1.35h-1.35zM103.87 196.41h1.35v1.35h-1.35zM107.27 196.41h1.35v1.35h-1.35zM110.68 196.41h1.35v1.35h-1.35zM114.08 196.41h1.35v1.35h-1.35zM117.48 196.41h1.35v1.35h-1.35zM120.89 196.41h1.35v1.35h-1.35zM124.29 196.41h1.35v1.35h-1.35zM127.7 196.41h1.35v1.35h-1.35zM131.1 196.41h1.35v1.35h-1.35zM134.5 196.41h1.35v1.35h-1.35zM137.91 196.41h1.35v1.35h-1.35zM141.31 196.41h1.35v1.35h-1.35zM144.71 196.41h1.35v1.35h-1.35zM148.12 196.41h1.35v1.35h-1.35zM151.52 196.41h1.35v1.35h-1.35zM154.92 196.41h1.35v1.35h-1.35zM18.77 193.01h1.35v1.35h-1.35zM22.18 193.01h1.35v1.35h-1.35zM25.58 193.01h1.35v1.35h-1.35zM28.99 193.01h1.35v1.35h-1.35zM32.39 193.01h1.35v1.35h-1.35zM35.79 193.01h1.35v1.35h-1.35zM39.2 193.01h1.35v1.35h-1.35zM42.6 193.01h1.35v1.35h-1.35zM46.01 193.01h1.35v1.35h-1.35zM49.41 193.01h1.35v1.35h-1.35zM52.81 193.01h1.35v1.35h-1.35zM56.22 193.01h1.35v1.35h-1.35zM59.62 193.01h1.35v1.35h-1.35zM63.02 193.01h1.35v1.35h-1.35zM66.43 193.01h1.35v1.35h-1.35zM69.83 193.01h1.35v1.35h-1.35zM73.23 193.01h1.35v1.35h-1.35zM76.64 193.01h1.35v1.35h-1.35zM80.04 193.01h1.35v1.35h-1.35zM83.45 193.01h1.35v1.35h-1.35zM86.85 193.01h1.35v1.35h-1.35zM90.25 193.01h1.35v1.35h-1.35zM93.66 193.01h1.35v1.35h-1.35zM97.06 193.01h1.35v1.35h-1.35zM100.47 193.01h1.35v1.35h-1.35zM103.87 193.01h1.35v1.35h-1.35zM107.27 193.01h1.35v1.35h-1.35zM110.68 193.01h1.35v1.35h-1.35zM114.08 193.01h1.35v1.35h-1.35zM117.48 193.01h1.35v1.35h-1.35zM120.89 193.01h1.35v1.35h-1.35zM124.29 193.01h1.35v1.35h-1.35zM127.7 193.01h1.35v1.35h-1.35zM131.1 193.01h1.35v1.35h-1.35zM134.5 193.01h1.35v1.35h-1.35zM137.91 193.01h1.35v1.35h-1.35zM141.31 193.01h1.35v1.35h-1.35zM144.71 193.01h1.35v1.35h-1.35zM148.12 193.01h1.35v1.35h-1.35zM151.52 193.01h1.35v1.35h-1.35zM154.92 193.01h1.35v1.35h-1.35zM18.77 189.62h1.35v1.35h-1.35zM22.18 189.62h1.35v1.35h-1.35zM25.58 189.62h1.35v1.35h-1.35zM28.99 189.62h1.35v1.35h-1.35zM32.39 189.62h1.35v1.35h-1.35zM35.79 189.62h1.35v1.35h-1.35zM39.2 189.62h1.35v1.35h-1.35zM42.6 189.62h1.35v1.35h-1.35zM46.01 189.62h1.35v1.35h-1.35zM49.41 189.62h1.35v1.35h-1.35zM52.81 189.62h1.35v1.35h-1.35zM56.22 189.62h1.35v1.35h-1.35zM59.62 189.62h1.35v1.35h-1.35zM63.02 189.62h1.35v1.35h-1.35zM66.43 189.62h1.35v1.35h-1.35zM69.83 189.62h1.35v1.35h-1.35zM73.23 189.62h1.35v1.35h-1.35zM76.64 189.62h1.35v1.35h-1.35zM80.04 189.62h1.35v1.35h-1.35zM83.45 189.62h1.35v1.35h-1.35zM86.85 189.62h1.35v1.35h-1.35zM90.25 189.62h1.35v1.35h-1.35zM93.66 189.62h1.35v1.35h-1.35zM97.06 189.62h1.35v1.35h-1.35zM100.47 189.62h1.35v1.35h-1.35zM103.87 189.62h1.35v1.35h-1.35zM107.27 189.62h1.35v1.35h-1.35zM110.68 189.62h1.35v1.35h-1.35zM114.08 189.62h1.35v1.35h-1.35zM117.48 189.62h1.35v1.35h-1.35zM120.89 189.62h1.35v1.35h-1.35zM124.29 189.62h1.35v1.35h-1.35zM127.7 189.62h1.35v1.35h-1.35zM131.1 189.62h1.35v1.35h-1.35zM134.5 189.62h1.35v1.35h-1.35zM137.91 189.62h1.35v1.35h-1.35zM141.31 189.62h1.35v1.35h-1.35zM144.71 189.62h1.35v1.35h-1.35zM148.12 189.62h1.35v1.35h-1.35zM151.52 189.62h1.35v1.35h-1.35zM154.92 189.62h1.35v1.35h-1.35z"/></g>
<g clip-path="url(#c11)"><rect x="206" y="190" width="136.2" height="135.9" fill="#0068ff"/><g transform="translate(186.9 175.2)"><path d="M71.8 24.9 C72.38 25.83 73.12 27.75 73.3 29.4 C73.48 31.05 73.4 32.63 72.9 34.8 C72.4 36.97 71.37 39.62 70.3 42.4 C69.23 45.18 67.9 48.7 66.5 51.5 C65.1 54.3 63.55 56.78 61.9 59.2 C60.25 61.62 58.25 64.48 56.6 66 C54.95 67.52 53.53 68.22 52 68.3 C50.47 68.38 48.6 67.9 47.4 66.5 C46.2 65.1 45.18 62.52 44.8 59.9 C44.42 57.28 44.58 53.85 45.1 50.8 C45.62 47.75 46.5 44.65 47.9 41.6 C49.3 38.55 51.55 35.03 53.5 32.5 C55.45 29.97 57.57 27.85 59.6 26.4 C61.63 24.95 64 24.23 65.7 23.8 C67.4 23.37 68.78 23.62 69.8 23.8 C70.82 23.98 71.22 23.97 71.8 24.9 Z" fill="#00d6ff" stroke="#000" stroke-width="0.45"/><ellipse cx="19.1" cy="54.6" rx="3.5" ry="10.8" transform="rotate(0 19.1 54.6)" fill="#00d6ff" stroke="#000" stroke-width="0.45"/><path d="M84.5 91 C84.68 90.53 84.68 88.73 85.6 88.2 C86.52 87.67 88.33 87.73 90 87.8 C91.67 87.87 93.77 88.25 95.6 88.6 C97.43 88.95 99.07 89.4 101 89.9 C102.93 90.4 104.87 90.97 107.2 91.6 C109.53 92.23 111.77 92.83 115 93.7 C118.23 94.57 122.73 95.85 126.6 96.8 C130.47 97.75 134.35 98.82 138.2 99.4 C142.05 99.98 146.57 100.1 149.7 100.3 C152.83 100.5 155.78 100.55 157 100.6 L157 152 L108 152 L107.6 150.7 C106.08 148.12 101.17 139.72 98.5 135.2 C95.83 130.68 93.32 126.8 91.6 123.6 C89.88 120.4 89.1 118.93 88.2 116 C87.3 113.07 86.73 109.17 86.2 106 C85.67 102.83 85.28 99.5 85 97 C84.72 94.5 84.58 92 84.5 91 Z" fill="#00d6ff" stroke="#000" stroke-width="0.45"/><path d="M67.9 78.6 C67.82 76.95 67.8 73.8 68.7 71.6 C69.6 69.4 71.62 66.9 73.3 65.4 C74.98 63.9 77.25 62.92 78.8 62.6 C80.35 62.28 81.87 63.17 82.6 63.5 C83.33 63.83 83.2 64.28 83.2 64.6 C83.2 64.92 83.47 64.88 82.6 65.4 C81.73 65.92 79.42 66.67 78 67.7 C76.58 68.73 75.02 70.18 74.1 71.6 C73.18 73.02 73.02 74.65 72.5 76.2 C71.98 77.75 71.55 80.02 71 80.9 C70.45 81.78 69.72 81.88 69.2 81.5 C68.68 81.12 67.98 80.25 67.9 78.6 Z" fill="#0000e6" stroke="#000" stroke-width="0.45"/><path d="M69.6 78.5 C69.52 77.5 69.6 74.75 70.3 73 C71 71.25 72.43 69.4 73.8 68 C75.17 66.6 77.2 65.22 78.5 64.6 C79.8 63.98 81.68 64.02 81.6 64.3 C81.52 64.58 79.3 65.35 78 66.3 C76.7 67.25 74.87 68.63 73.8 70 C72.73 71.37 72.1 73 71.6 74.5 C71.1 76 71.13 78.33 70.8 79 C70.47 79.67 69.68 79.5 69.6 78.5 Z" fill="#00008c"/><ellipse cx="83.2" cy="75.6" rx="11.3" ry="6.1" transform="rotate(-33 83.2 75.6)" fill="#00d6ff" stroke="#000" stroke-width="0.45"/><path d="M74.5 85.9 C75.75 85.92 77.28 86.37 78.3 87.3 C79.32 88.23 80.18 89.97 80.6 91.5 C81.02 93.03 81.15 95.15 80.8 96.5 C80.45 97.85 79.5 98.93 78.5 99.6 C77.5 100.27 76.08 100.55 74.8 100.5 C73.52 100.45 71.85 100.13 70.8 99.3 C69.75 98.47 68.87 96.97 68.5 95.5 C68.13 94.03 68.22 91.88 68.6 90.5 C68.98 89.12 69.82 87.97 70.8 87.2 C71.78 86.43 73.25 85.88 74.5 85.9 Z" fill="#00d6ff" stroke="#000" stroke-width="0.45"/><path d="M75.4 82.0 C75.8 83.5 76.5 84.5 76.4 86.8 L78.1 86.8 C78.0 84.5 77.8 83.3 78.4 82.0 Z" fill="#00d6ff"/><ellipse cx="79" cy="74.4" rx="7.2" ry="3.9" transform="rotate(-55 79 74.4)" fill="#3cc850" stroke="#000" stroke-width="0.25"/><ellipse cx="79" cy="74.4" rx="5.6" ry="2.6" transform="rotate(-55 79 74.4)" fill="#c8e628" stroke="#000" stroke-width="0.2"/><ellipse cx="79.8" cy="73.2" rx="3.8" ry="1.7" transform="rotate(-55 79.8 73.2)" fill="#ff8c00"/><circle cx="81.4" cy="70.6" r="1.4" fill="#e61e00"/><circle cx="81.4" cy="70.6" r="0.7" fill="#8c0000"/><circle cx="76.8" cy="77.6" r="1.2" fill="#f0f000"/><ellipse cx="73.8" cy="90.6" rx="4.6" ry="4.6" transform="rotate(0 73.8 90.6)" fill="#28c8aa" stroke="#000" stroke-width="0.2"/><ellipse cx="73.8" cy="90.6" rx="3.6" ry="3.6" transform="rotate(0 73.8 90.6)" fill="#3cc850" stroke="#000" stroke-width="0.2"/><ellipse cx="73.8" cy="90.6" rx="2.7" ry="2.7" transform="rotate(0 73.8 90.6)" fill="#b4dc28" stroke="#000" stroke-width="0.2"/><ellipse cx="73.8" cy="90.6" rx="2" ry="2" transform="rotate(0 73.8 90.6)" fill="#ff8c00" stroke="#000" stroke-width="0.2"/><ellipse cx="73.8" cy="90.6" rx="1.3" ry="1.3" transform="rotate(0 73.8 90.6)" fill="#e61e00" stroke="#000" stroke-width="0.2"/><ellipse cx="73.8" cy="90.6" rx="0.6" ry="0.6" transform="rotate(0 73.8 90.6)" fill="#8c0000" stroke="#000" stroke-width="0.2"/><ellipse cx="88" cy="91.4" rx="4.6" ry="4.6" transform="rotate(0 88 91.4)" fill="#28c8aa" stroke="#000" stroke-width="0.2"/><ellipse cx="88" cy="91.4" rx="3.6" ry="3.6" transform="rotate(0 88 91.4)" fill="#3cc850" stroke="#000" stroke-width="0.2"/><ellipse cx="88" cy="91.4" rx="2.7" ry="2.7" transform="rotate(0 88 91.4)" fill="#b4dc28" stroke="#000" stroke-width="0.2"/><ellipse cx="88" cy="91.4" rx="2" ry="2" transform="rotate(0 88 91.4)" fill="#ff8c00" stroke="#000" stroke-width="0.2"/><ellipse cx="88" cy="91.4" rx="1.3" ry="1.3" transform="rotate(0 88 91.4)" fill="#e61e00" stroke="#000" stroke-width="0.2"/><ellipse cx="88" cy="91.4" rx="0.6" ry="0.6" transform="rotate(0 88 91.4)" fill="#8c0000" stroke="#000" stroke-width="0.2"/><path d="M81 90.6 C80.9 89.93 81.5 87.7 82.2 86.6 C82.9 85.5 84.13 84.42 85.2 84 C86.27 83.58 87.77 83.83 88.6 84.1 C89.43 84.37 90.2 85.13 90.2 85.6 C90.2 86.07 89.27 86.73 88.6 86.9 C87.93 87.07 86.97 86.45 86.2 86.6 C85.43 86.75 84.57 87.13 84 87.8 C83.43 88.47 83.3 90.13 82.8 90.6 C82.3 91.07 81.1 91.27 81 90.6 Z" fill="#0000e6" stroke="#000050" stroke-width="0.4"/></g></g>
<g clip-path="url(#c21)"><rect x="392.1" y="190" width="136.4" height="135.9" fill="#ffe400"/><path d="M439.5 199.9 C441.98 200.07 444.77 201.58 446.4 202.9 C448.03 204.22 448.8 206 449.3 207.8 C449.8 209.6 449.52 211.72 449.4 213.7 C449.28 215.68 448.62 217.98 448.6 219.7 C448.58 221.42 448.73 222.95 449.3 224 C449.87 225.05 451.22 225.55 452 226 C452.78 226.45 452.72 226.15 454 226.7 C455.28 227.25 457.95 228.2 459.7 229.3 C461.45 230.4 463.12 231.77 464.5 233.3 C465.88 234.83 466.98 236.78 468 238.5 C469.02 240.22 469.63 241.8 470.6 243.6 C471.57 245.4 472.43 247.35 473.8 249.3 C475.17 251.25 477.48 253.52 478.8 255.3 C480.12 257.08 480.05 258.07 481.7 260 C483.35 261.93 486.22 264.93 488.7 266.9 C491.18 268.87 493.97 270.15 496.6 271.8 C499.23 273.45 502.2 275.32 504.5 276.8 C506.8 278.28 508.43 279.22 510.4 280.7 C512.37 282.18 514.82 284.05 516.3 285.7 C517.78 287.35 518.3 289.45 519.3 290.6 C520.3 291.75 521.38 292.53 522.3 292.6 C523.22 292.67 524.38 284.77 524.8 291 C525.22 297.23 530.82 323.5 524.8 330 C518.78 336.5 494.72 331.3 488.7 330 C482.68 328.7 489.03 323.98 488.7 322.2 C488.37 320.42 487.7 320.45 486.7 319.3 C485.7 318.15 484.35 316.78 482.7 315.3 C481.05 313.82 478.77 312.22 476.8 310.4 C474.83 308.58 472.88 306.55 470.9 304.4 C468.92 302.25 466.88 299.63 464.9 297.5 C462.92 295.37 460.77 293.15 459 291.6 C457.23 290.05 456.05 289.35 454.3 288.2 C452.55 287.05 450.43 285.67 448.5 284.7 C446.57 283.73 444.62 283.35 442.7 282.4 C440.78 281.45 438.73 280.53 437 279 C435.27 277.47 433.47 274.75 432.3 273.2 C431.13 271.65 430.45 270.9 430 269.7 C429.55 268.5 429.57 267.67 429.6 266 C429.63 264.33 429.8 261.52 430.2 259.7 C430.6 257.88 431.32 256.63 432 255.1 C432.68 253.57 433.53 251.85 434.3 250.5 C435.07 249.15 435.83 248.17 436.6 247 C437.37 245.83 438.42 244.95 438.9 243.5 C439.38 242.05 439.7 239.27 439.5 238.3 C439.3 237.33 438.53 237.35 437.7 237.7 C436.87 238.05 435.85 239.45 434.5 240.4 C433.15 241.35 431.73 242.73 429.6 243.4 C427.47 244.07 424.02 244.57 421.7 244.4 C419.38 244.23 417.02 243.55 415.7 242.4 C414.38 241.25 414.28 239.32 413.8 237.5 C413.32 235.68 412.97 233.82 412.8 231.5 C412.63 229.18 412.63 225.9 412.8 223.6 C412.97 221.3 412.98 219.52 413.8 217.7 C414.62 215.88 416.07 214.35 417.7 212.7 C419.33 211.05 421.3 209.6 423.6 207.8 C425.9 206 428.85 203.22 431.5 201.9 C434.15 200.58 437.02 199.73 439.5 199.9 Z" fill="#00ff91" stroke="#000" stroke-width="0.6"/><path d="M448.2 243.5 C448.68 242.23 448.93 241.27 449.9 240.6 C450.87 239.93 452.37 239.5 454 239.5 C455.63 239.5 458.17 239.73 459.7 240.6 C461.23 241.47 462.62 243.25 463.2 244.7 C463.78 246.15 463.78 247.95 463.2 249.3 C462.62 250.65 461.05 252.02 459.7 252.8 C458.35 253.58 456.25 253.42 455.1 254 C453.95 254.58 453.23 255.55 452.8 256.3 C452.37 257.05 452.3 257.95 452.5 258.5 C452.7 259.05 453.32 259.43 454 259.6 C454.68 259.77 455.77 259.68 456.6 259.5 C457.43 259.32 457.83 258.67 459 258.5 C460.17 258.33 462.35 258.17 463.6 258.5 C464.85 258.83 465.83 259.42 466.5 260.5 C467.17 261.58 467.5 263.28 467.6 265 C467.7 266.72 467.58 269.25 467.1 270.8 C466.62 272.35 465.87 273.62 464.7 274.3 C463.53 274.98 461.45 275.08 460.1 274.9 C458.75 274.72 457.53 273.77 456.6 273.2 C455.67 272.63 455.07 272.08 454.5 271.5 C453.93 270.92 453.72 269.42 453.2 269.7 C452.68 269.98 452.18 272.23 451.4 273.2 C450.62 274.17 449.75 275.22 448.5 275.5 C447.25 275.78 445.15 275.48 443.9 274.9 C442.65 274.32 441.77 273.25 441 272 C440.23 270.75 439.5 268.95 439.3 267.4 C439.1 265.85 439.23 264.05 439.8 262.7 C440.37 261.35 442.12 260.5 442.7 259.3 C443.28 258.1 443.35 256.58 443.3 255.5 C443.25 254.42 442.37 253.83 442.4 252.8 C442.43 251.77 442.73 250.07 443.5 249.3 C444.27 248.53 446.22 249.17 447 248.2 C447.78 247.23 447.72 244.77 448.2 243.5 Z" fill="#ffe400" stroke="#000" stroke-width="0.6"/><path d="M391 217.9 C391.25 213.88 391.83 217.78 392.5 217.9 C393.17 218.02 394 218.17 395 218.6 C396 219.03 397.75 219.6 398.5 220.5 C399.25 221.4 399.27 222.08 399.5 224 C399.73 225.92 399.9 229.58 399.9 232 C399.9 234.42 399.9 237.08 399.5 238.5 C399.1 239.92 398.42 239.95 397.5 240.5 C396.58 241.05 395.08 241.55 394 241.8 C392.92 242.05 391.5 245.98 391 242 C390.5 238.02 390.75 221.92 391 217.9 Z" fill="#00ff91" stroke="#000" stroke-width="0.6"/><path d="M522.3 308.4 L524.3 321.3 L512.4 321.3 Z" fill="#ffe400" stroke="#000" stroke-width="0.6"/><circle cx="527" cy="191.6" r="0.95" fill="#00ff91" stroke="#000" stroke-width="0.4"/><circle cx="527" cy="195.01" r="0.95" fill="#00ff91" stroke="#000" stroke-width="0.4"/><circle cx="527" cy="198.43" r="0.95" fill="#00ff91" stroke="#000" stroke-width="0.4"/><circle cx="527" cy="201.84" r="0.95" fill="#00ff91" stroke="#000" stroke-width="0.4"/><circle cx="527" cy="205.25" r="0.95" fill="#00ff91" stroke="#000" stroke-width="0.4"/><circle cx="527" cy="208.67" r="0.95" fill="#00ff91" stroke="#000" stroke-width="0.4"/><circle cx="527" cy="212.08" r="0.95" fill="#00ff91" stroke="#000" stroke-width="0.4"/><circle cx="527" cy="215.49" r="0.95" fill="#00ff91" stroke="#000" stroke-width="0.4"/><circle cx="527" cy="218.91" r="0.95" fill="#00ff91" stroke="#000" stroke-width="0.4"/><circle cx="527" cy="222.32" r="0.95" fill="#00ff91" stroke="#000" stroke-width="0.4"/><circle cx="527" cy="225.73" r="0.95" fill="#00ff91" stroke="#000" stroke-width="0.4"/><circle cx="527" cy="229.15" r="0.95" fill="#00ff91" stroke="#000" stroke-width="0.4"/><circle cx="527" cy="232.56" r="0.95" fill="#00ff91" stroke="#000" stroke-width="0.4"/><circle cx="527" cy="235.97" r="0.95" fill="#00ff91" stroke="#000" stroke-width="0.4"/><circle cx="527" cy="239.39" r="0.95" fill="#00ff91" stroke="#000" stroke-width="0.4"/><circle cx="527" cy="242.8" r="0.95" fill="#00ff91" stroke="#000" stroke-width="0.4"/><circle cx="527" cy="246.21" r="0.95" fill="#00ff91" stroke="#000" stroke-width="0.4"/><circle cx="527" cy="249.63" r="0.95" fill="#00ff91" stroke="#000" stroke-width="0.4"/><circle cx="527" cy="253.04" r="0.95" fill="#00ff91" stroke="#000" stroke-width="0.4"/><circle cx="527" cy="256.45" r="0.95" fill="#00ff91" stroke="#000" stroke-width="0.4"/><circle cx="527" cy="259.87" r="0.95" fill="#00ff91" stroke="#000" stroke-width="0.4"/><circle cx="527" cy="263.28" r="0.95" fill="#00ff91" stroke="#000" stroke-width="0.4"/><circle cx="527" cy="266.69" r="0.95" fill="#00ff91" stroke="#000" stroke-width="0.4"/><circle cx="527" cy="270.11" r="0.95" fill="#00ff91" stroke="#000" stroke-width="0.4"/><circle cx="527" cy="273.52" r="0.95" fill="#00ff91" stroke="#000" stroke-width="0.4"/><circle cx="527" cy="276.93" r="0.95" fill="#00ff91" stroke="#000" stroke-width="0.4"/><circle cx="527" cy="280.35" r="0.95" fill="#00ff91" stroke="#000" stroke-width="0.4"/><circle cx="527" cy="283.76" r="0.95" fill="#00ff91" stroke="#000" stroke-width="0.4"/><circle cx="527" cy="287.17" r="0.95" fill="#00ff91" stroke="#000" stroke-width="0.4"/><circle cx="527" cy="290.59" r="0.95" fill="#00ff91" stroke="#000" stroke-width="0.4"/><circle cx="527" cy="294" r="0.95" fill="#00ff91" stroke="#000" stroke-width="0.4"/><circle cx="393.2" cy="324.3" r="0.95" fill="#00ff91" stroke="#000" stroke-width="0.4"/><circle cx="396.61" cy="324.3" r="0.95" fill="#00ff91" stroke="#000" stroke-width="0.4"/><circle cx="400.01" cy="324.3" r="0.95" fill="#00ff91" stroke="#000" stroke-width="0.4"/><circle cx="403.42" cy="324.3" r="0.95" fill="#00ff91" stroke="#000" stroke-width="0.4"/><circle cx="406.83" cy="324.3" r="0.95" fill="#00ff91" stroke="#000" stroke-width="0.4"/><circle cx="410.23" cy="324.3" r="0.95" fill="#00ff91" stroke="#000" stroke-width="0.4"/><circle cx="413.64" cy="324.3" r="0.95" fill="#00ff91" stroke="#000" stroke-width="0.4"/><circle cx="417.05" cy="324.3" r="0.95" fill="#00ff91" stroke="#000" stroke-width="0.4"/><circle cx="420.46" cy="324.3" r="0.95" fill="#00ff91" stroke="#000" stroke-width="0.4"/><circle cx="423.86" cy="324.3" r="0.95" fill="#00ff91" stroke="#000" stroke-width="0.4"/><circle cx="427.27" cy="324.3" r="0.95" fill="#00ff91" stroke="#000" stroke-width="0.4"/><circle cx="430.68" cy="324.3" r="0.95" fill="#00ff91" stroke="#000" stroke-width="0.4"/><circle cx="434.08" cy="324.3" r="0.95" fill="#00ff91" stroke="#000" stroke-width="0.4"/><circle cx="437.49" cy="324.3" r="0.95" fill="#00ff91" stroke="#000" stroke-width="0.4"/><circle cx="440.9" cy="324.3" r="0.95" fill="#00ff91" stroke="#000" stroke-width="0.4"/><circle cx="444.3" cy="324.3" r="0.95" fill="#00ff91" stroke="#000" stroke-width="0.4"/><circle cx="447.71" cy="324.3" r="0.95" fill="#00ff91" stroke="#000" stroke-width="0.4"/><circle cx="451.12" cy="324.3" r="0.95" fill="#00ff91" stroke="#000" stroke-width="0.4"/><circle cx="454.52" cy="324.3" r="0.95" fill="#00ff91" stroke="#000" stroke-width="0.4"/><circle cx="457.93" cy="324.3" r="0.95" fill="#00ff91" stroke="#000" stroke-width="0.4"/><circle cx="461.34" cy="324.3" r="0.95" fill="#00ff91" stroke="#000" stroke-width="0.4"/><circle cx="464.74" cy="324.3" r="0.95" fill="#00ff91" stroke="#000" stroke-width="0.4"/><circle cx="468.15" cy="324.3" r="0.95" fill="#00ff91" stroke="#000" stroke-width="0.4"/><circle cx="471.56" cy="324.3" r="0.95" fill="#00ff91" stroke="#000" stroke-width="0.4"/><circle cx="474.97" cy="324.3" r="0.95" fill="#00ff91" stroke="#000" stroke-width="0.4"/><circle cx="478.37" cy="324.3" r="0.95" fill="#00ff91" stroke="#000" stroke-width="0.4"/><circle cx="481.78" cy="324.3" r="0.95" fill="#00ff91" stroke="#000" stroke-width="0.4"/><circle cx="485.19" cy="324.3" r="0.95" fill="#00ff91" stroke="#000" stroke-width="0.4"/><circle cx="488.59" cy="324.3" r="0.95" fill="#00ff91" stroke="#000" stroke-width="0.4"/><circle cx="492" cy="324.3" r="0.95" fill="#00ff91" stroke="#000" stroke-width="0.4"/><circle cx="393.2" cy="277.5" r="0.95" fill="#00ff91" stroke="#000" stroke-width="0.4"/><circle cx="393.2" cy="281.1" r="0.95" fill="#00ff91" stroke="#000" stroke-width="0.4"/><circle cx="393.2" cy="284.7" r="0.95" fill="#00ff91" stroke="#000" stroke-width="0.4"/><circle cx="393.2" cy="288.3" r="0.95" fill="#00ff91" stroke="#000" stroke-width="0.4"/><circle cx="393.2" cy="291.9" r="0.95" fill="#00ff91" stroke="#000" stroke-width="0.4"/><circle cx="393.2" cy="295.5" r="0.95" fill="#00ff91" stroke="#000" stroke-width="0.4"/><circle cx="393.2" cy="299.1" r="0.95" fill="#00ff91" stroke="#000" stroke-width="0.4"/><circle cx="393.2" cy="302.7" r="0.95" fill="#00ff91" stroke="#000" stroke-width="0.4"/><circle cx="393.2" cy="306.3" r="0.95" fill="#00ff91" stroke="#000" stroke-width="0.4"/><circle cx="393.2" cy="309.9" r="0.95" fill="#00ff91" stroke="#000" stroke-width="0.4"/><circle cx="393.2" cy="313.5" r="0.95" fill="#00ff91" stroke="#000" stroke-width="0.4"/><circle cx="393.2" cy="317.1" r="0.95" fill="#00ff91" stroke="#000" stroke-width="0.4"/><circle cx="393.2" cy="320.7" r="0.95" fill="#00ff91" stroke="#000" stroke-width="0.4"/><circle cx="393.2" cy="324.3" r="0.95" fill="#00ff91" stroke="#000" stroke-width="0.4"/><rect x="423.5" y="189.5" width="105" height="3.6" fill="#00ff91"/><path d="M423.5 191.2 Q423.6 193.1 425 193.1 H528.5" fill="none" stroke="#000" stroke-width="0.5" stroke-dasharray="1.6 0.5"/><path d="M392.5 322 h3.5 v3.9 h-3.5z M524 190 h4.5 v4 h-4.5z" fill="#00ff91"/><path d="M394 191.0 H422" stroke="#000" stroke-width="0.5" stroke-dasharray="0.5 2.9"/><path d="M395 190.6 H422" stroke="#c8a000" stroke-width="0.6"/><path d="M492 325.6 H528.3 V294" fill="none" stroke="#000" stroke-width="0.5" stroke-dasharray="0.6 1.2"/><circle cx="394.8" cy="192.2" r="1.4" fill="#00ff91" stroke="#000" stroke-width="0.3"/><ellipse cx="446.6" cy="266.2" rx="3.8" ry="2.4" transform="rotate(0 446.6 266.2)" fill="#28dcb4" stroke="#000" stroke-width="0.2"/><ellipse cx="446.6" cy="266.3" rx="2.2" ry="1.3" transform="rotate(0 446.6 266.3)" fill="#00b4ff"/><ellipse cx="446.6" cy="266.3" rx="1" ry="0.6" transform="rotate(0 446.6 266.3)" fill="#0064ff"/><circle cx="454.8" cy="246.2" r="2.9" fill="#14c8a0" stroke="#000" stroke-width="0.25"/><circle cx="454.6" cy="245.9" r="2.2" fill="#0000a0" stroke="#000" stroke-width="0.2"/><circle cx="454.6" cy="245.9" r="1.3" fill="#000046"/><circle cx="452.6" cy="243.3" r="1.7" fill="#dc1400" stroke="#000" stroke-width="0.25"/><circle cx="452.6" cy="243.3" r="0.8" fill="#780000"/><circle cx="448.4" cy="253.1" r="2.9" fill="#14c8a0" stroke="#000" stroke-width="0.25"/><circle cx="448.2" cy="252.8" r="2.2" fill="#0000a0" stroke="#000" stroke-width="0.2"/><circle cx="448.2" cy="252.8" r="1.3" fill="#000046"/><circle cx="445.2" cy="249.8" r="1.7" fill="#dc1400" stroke="#000" stroke-width="0.25"/><circle cx="445.2" cy="249.8" r="0.8" fill="#780000"/><circle cx="461.2" cy="265.6" r="2.9" fill="#14c8a0" stroke="#000" stroke-width="0.25"/><circle cx="461" cy="265.3" r="2.2" fill="#0000a0" stroke="#000" stroke-width="0.2"/><circle cx="461" cy="265.3" r="1.3" fill="#000046"/><circle cx="459.2" cy="263.2" r="1.7" fill="#dc1400" stroke="#000" stroke-width="0.25"/><circle cx="459.2" cy="263.2" r="0.8" fill="#780000"/><circle cx="445.3" cy="233.1" r="0.4" fill="#000"/><circle cx="441.8" cy="236.6" r="0.5" fill="#c86400"/></g>
<rect x="19.1" y="14.8" width="136.8" height="135.9" fill="none" stroke="#333" stroke-width="0.3"/>
<text x="19.1" y="155.6" text-anchor="middle" class="tk">0</text><text x="17.8" y="151.8" text-anchor="end" class="tk">0</text><text x="46.46" y="155.6" text-anchor="middle" class="tk">2,000</text><text x="17.8" y="124.62" text-anchor="end" class="tk">2,000</text><text x="73.82" y="155.6" text-anchor="middle" class="tk">4,000</text><text x="17.8" y="97.44" text-anchor="end" class="tk">4,000</text><text x="101.18" y="155.6" text-anchor="middle" class="tk">6,000</text><text x="17.8" y="70.26" text-anchor="end" class="tk">6,000</text><text x="128.54" y="155.6" text-anchor="middle" class="tk">8,000</text><text x="17.8" y="43.08" text-anchor="end" class="tk">8,000</text><text x="155.9" y="155.6" text-anchor="middle" class="tk">10,000</text><text x="17.8" y="15.9" text-anchor="end" class="tk">10,000</text><text x="87.5" y="161.2" text-anchor="middle" class="al">X meters</text><text transform="translate(6.1 82.75) rotate(-90)" text-anchor="middle" class="al">Y meters</text>
<rect x="206" y="14.8" width="136.2" height="135.9" fill="none" stroke="#333" stroke-width="0.3"/>
<text x="206" y="155.6" text-anchor="middle" class="tk">0</text><text x="204.7" y="151.8" text-anchor="end" class="tk">0</text><text x="233.24" y="155.6" text-anchor="middle" class="tk">2,000</text><text x="204.7" y="124.62" text-anchor="end" class="tk">2,000</text><text x="260.48" y="155.6" text-anchor="middle" class="tk">4,000</text><text x="204.7" y="97.44" text-anchor="end" class="tk">4,000</text><text x="287.72" y="155.6" text-anchor="middle" class="tk">6,000</text><text x="204.7" y="70.26" text-anchor="end" class="tk">6,000</text><text x="314.96" y="155.6" text-anchor="middle" class="tk">8,000</text><text x="204.7" y="43.08" text-anchor="end" class="tk">8,000</text><text x="342.2" y="155.6" text-anchor="middle" class="tk">10,000</text><text x="204.7" y="15.9" text-anchor="end" class="tk">10,000</text><text x="274.1" y="161.2" text-anchor="middle" class="al">X meters</text><text transform="translate(193 82.75) rotate(-90)" text-anchor="middle" class="al">Y meters</text>
<rect x="392.1" y="14.8" width="136.4" height="135.9" fill="none" stroke="#333" stroke-width="0.3"/>
<text x="392.1" y="155.6" text-anchor="middle" class="tk">0</text><text x="390.8" y="151.8" text-anchor="end" class="tk">0</text><text x="419.38" y="155.6" text-anchor="middle" class="tk">2,000</text><text x="390.8" y="124.62" text-anchor="end" class="tk">2,000</text><text x="446.66" y="155.6" text-anchor="middle" class="tk">4,000</text><text x="390.8" y="97.44" text-anchor="end" class="tk">4,000</text><text x="473.94" y="155.6" text-anchor="middle" class="tk">6,000</text><text x="390.8" y="70.26" text-anchor="end" class="tk">6,000</text><text x="501.22" y="155.6" text-anchor="middle" class="tk">8,000</text><text x="390.8" y="43.08" text-anchor="end" class="tk">8,000</text><text x="528.5" y="155.6" text-anchor="middle" class="tk">10,000</text><text x="390.8" y="15.9" text-anchor="end" class="tk">10,000</text><text x="460.3" y="161.2" text-anchor="middle" class="al">X meters</text><text transform="translate(379.1 82.75) rotate(-90)" text-anchor="middle" class="al">Y meters</text>
<rect x="19.1" y="190" width="136.8" height="135.9" fill="none" stroke="#333" stroke-width="0.3"/>
<text x="19.1" y="330.8" text-anchor="middle" class="tk">0</text><text x="17.8" y="327" text-anchor="end" class="tk">0</text><text x="46.46" y="330.8" text-anchor="middle" class="tk">2,000</text><text x="17.8" y="299.82" text-anchor="end" class="tk">2,000</text><text x="73.82" y="330.8" text-anchor="middle" class="tk">4,000</text><text x="17.8" y="272.64" text-anchor="end" class="tk">4,000</text><text x="101.18" y="330.8" text-anchor="middle" class="tk">6,000</text><text x="17.8" y="245.46" text-anchor="end" class="tk">6,000</text><text x="128.54" y="330.8" text-anchor="middle" class="tk">8,000</text><text x="17.8" y="218.28" text-anchor="end" class="tk">8,000</text><text x="155.9" y="330.8" text-anchor="middle" class="tk">10,000</text><text x="17.8" y="191.1" text-anchor="end" class="tk">10,000</text><text x="87.5" y="336.4" text-anchor="middle" class="al">X meters</text><text transform="translate(6.1 257.95) rotate(-90)" text-anchor="middle" class="al">Y meters</text>
<rect x="206" y="190" width="136.2" height="135.9" fill="none" stroke="#333" stroke-width="0.3"/>
<text x="206" y="330.8" text-anchor="middle" class="tk">0</text><text x="204.7" y="327" text-anchor="end" class="tk">0</text><text x="233.24" y="330.8" text-anchor="middle" class="tk">2,000</text><text x="204.7" y="299.82" text-anchor="end" class="tk">2,000</text><text x="260.48" y="330.8" text-anchor="middle" class="tk">4,000</text><text x="204.7" y="272.64" text-anchor="end" class="tk">4,000</text><text x="287.72" y="330.8" text-anchor="middle" class="tk">6,000</text><text x="204.7" y="245.46" text-anchor="end" class="tk">6,000</text><text x="314.96" y="330.8" text-anchor="middle" class="tk">8,000</text><text x="204.7" y="218.28" text-anchor="end" class="tk">8,000</text><text x="342.2" y="330.8" text-anchor="middle" class="tk">10,000</text><text x="204.7" y="191.1" text-anchor="end" class="tk">10,000</text><text x="274.1" y="336.4" text-anchor="middle" class="al">X meters</text><text transform="translate(193 257.95) rotate(-90)" text-anchor="middle" class="al">Y meters</text>
<rect x="392.1" y="190" width="136.4" height="135.9" fill="none" stroke="#333" stroke-width="0.3"/>
<text x="392.1" y="330.8" text-anchor="middle" class="tk">0</text><text x="390.8" y="327" text-anchor="end" class="tk">0</text><text x="419.38" y="330.8" text-anchor="middle" class="tk">2,000</text><text x="390.8" y="299.82" text-anchor="end" class="tk">2,000</text><text x="446.66" y="330.8" text-anchor="middle" class="tk">4,000</text><text x="390.8" y="272.64" text-anchor="end" class="tk">4,000</text><text x="473.94" y="330.8" text-anchor="middle" class="tk">6,000</text><text x="390.8" y="245.46" text-anchor="end" class="tk">6,000</text><text x="501.22" y="330.8" text-anchor="middle" class="tk">8,000</text><text x="390.8" y="218.28" text-anchor="end" class="tk">8,000</text><text x="528.5" y="330.8" text-anchor="middle" class="tk">10,000</text><text x="390.8" y="191.1" text-anchor="end" class="tk">10,000</text><text x="460.3" y="336.4" text-anchor="middle" class="al">X meters</text><text transform="translate(379.1 257.95) rotate(-90)" text-anchor="middle" class="al">Y meters</text>
<rect x="163" y="15.1" width="4.5" height="135.6" fill="url(#jet)" stroke="#444" stroke-width="0.2"/><text x="165.25" y="13.6" class="tk" text-anchor="middle">[nT]</text><text x="168.8" y="15.8" class="cb">170</text><text x="168.8" y="38" class="cb">165</text><text x="168.8" y="60.2" class="cb">160</text><text x="168.8" y="82.4" class="cb">155</text><text x="168.8" y="104.6" class="cb">150</text><text x="168.8" y="126.8" class="cb">145</text><text x="168.8" y="149" class="cb">140</text>
<rect x="349.3" y="15.1" width="4.6" height="135.6" fill="url(#jet)" stroke="#444" stroke-width="0.2"/><text x="351.6" y="13.6" class="tk" text-anchor="middle">[nT]</text><text x="355.2" y="15.8" class="cb">4.9</text><text x="355.2" y="30.95" class="cb">4.85</text><text x="355.2" y="46.1" class="cb">4.8</text><text x="355.2" y="61.25" class="cb">4.75</text><text x="355.2" y="76.4" class="cb">4.7</text><text x="355.2" y="91.55" class="cb">4.65</text><text x="355.2" y="106.7" class="cb">4.6</text><text x="355.2" y="121.85" class="cb">4.55</text><text x="355.2" y="137" class="cb">4.5</text>
<rect x="536" y="15.1" width="4" height="135.6" fill="url(#jet)" stroke="#444" stroke-width="0.2"/><text x="538" y="13.6" class="tk" text-anchor="middle">[nT]</text><text x="541.3" y="15.8" class="cb">150</text><text x="541.3" y="33.8" class="cb">100</text><text x="541.3" y="51.8" class="cb">50</text><text x="541.3" y="69.8" class="cb">0</text><text x="541.3" y="87.8" class="cb">-50</text><text x="541.3" y="105.8" class="cb">-100</text><text x="541.3" y="123.8" class="cb">-150</text><text x="541.3" y="141.8" class="cb">-200</text>
<rect x="163" y="190.3" width="4.5" height="135.6" fill="url(#jet)" stroke="#444" stroke-width="0.2"/><text x="165.25" y="188.8" class="tk" text-anchor="middle">[nT]</text><text x="168.8" y="191" class="cb">170</text><text x="168.8" y="213" class="cb">165</text><text x="168.8" y="235" class="cb">160</text><text x="168.8" y="257" class="cb">155</text><text x="168.8" y="279" class="cb">150</text><text x="168.8" y="301" class="cb">145</text><text x="168.8" y="323" class="cb">140</text>
<rect x="349.3" y="190.3" width="4.6" height="135.6" fill="url(#jet)" stroke="#444" stroke-width="0.2"/><text x="351.6" y="188.8" class="tk" text-anchor="middle">[nT]</text><text x="355.2" y="191" class="cb">4.9</text><text x="355.2" y="206.15" class="cb">4.85</text><text x="355.2" y="221.3" class="cb">4.8</text><text x="355.2" y="236.45" class="cb">4.75</text><text x="355.2" y="251.6" class="cb">4.7</text><text x="355.2" y="266.75" class="cb">4.65</text><text x="355.2" y="281.9" class="cb">4.6</text><text x="355.2" y="297.05" class="cb">4.55</text><text x="355.2" y="312.2" class="cb">4.5</text>
<rect x="536" y="190.3" width="4" height="135.6" fill="url(#jet)" stroke="#444" stroke-width="0.2"/><text x="538" y="188.8" class="tk" text-anchor="middle">[nT]</text><text x="541.3" y="191" class="cb">100</text><text x="541.3" y="214.7" class="cb">50</text><text x="541.3" y="238.4" class="cb">0</text><text x="541.3" y="262.1" class="cb">-50</text><text x="541.3" y="285.8" class="cb">-100</text><text x="541.3" y="309.5" class="cb">-150</text>
<text transform="translate(87.5 7.95) scale(1 1.1)" text-anchor="middle" class="tt">The Simulated Geomagnetic Field with</text><text transform="translate(87.5 13.6) scale(1 1.1)" text-anchor="middle" class="tt">the Surveyed Points Distribution</text>
<text transform="translate(274.1 7.95) scale(1 1.1)" text-anchor="middle" class="tt">The Constructed Magnetic Field Using</text><text transform="translate(274.1 13.6) scale(1 1.1)" text-anchor="middle" class="tt">the Spherical Variogram</text>
<text transform="translate(460.3 7.95) scale(1 1.1)" text-anchor="middle" class="tt">Error Distribution Using</text><text transform="translate(460.3 13.6) scale(1 1.1)" text-anchor="middle" class="tt">the Spherical Variogram</text>
<text transform="translate(87.5 183.15) scale(1 1.1)" text-anchor="middle" class="tt">The Simulated Magnetic Field Using Six Magnetic Dipoles with</text><text transform="translate(87.5 188.8) scale(1 1.1)" text-anchor="middle" class="tt">the Increased Points and the Surveyed Points</text>
<text transform="translate(274.1 183.15) scale(1 1.1)" text-anchor="middle" class="tt">The Constructed Geomagnetic Field Using</text><text transform="translate(274.1 188.8) scale(1 1.1)" text-anchor="middle" class="tt">the Modified Interpolation Algorithm</text>
<text transform="translate(460.3 188.8) scale(1 1.1)" text-anchor="middle" class="tt">Error Distribution Using the Modified Interpolation Algorithm</text>
<text x="89" y="174.9" text-anchor="middle" class="cap"><tspan font-weight="normal">(</tspan>a<tspan font-weight="normal">)</tspan></text>
<text x="275.6" y="174.9" text-anchor="middle" class="cap"><tspan font-weight="normal">(</tspan>b<tspan font-weight="normal">)</tspan></text>
<text x="461.8" y="174.9" text-anchor="middle" class="cap"><tspan font-weight="normal">(</tspan>c<tspan font-weight="normal">)</tspan></text>
<text x="89" y="350.1" text-anchor="middle" class="cap"><tspan font-weight="normal">(</tspan>d<tspan font-weight="normal">)</tspan></text>
<text x="275.6" y="350.1" text-anchor="middle" class="cap"><tspan font-weight="normal">(</tspan>e<tspan font-weight="normal">)</tspan></text>
<text x="461.8" y="350.1" text-anchor="middle" class="cap"><tspan font-weight="normal">(</tspan>f<tspan font-weight="normal">)</tspan></text>
</svg></body></html>
